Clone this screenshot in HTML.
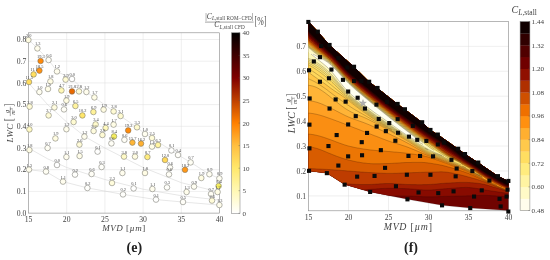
<!DOCTYPE html>
<html lang="en"><head><meta charset="utf-8"><title>Figure (e)-(f)</title>
<style>
html,body{margin:0;padding:0;background:#fff;}
body{width:550px;height:260px;overflow:hidden;}
svg{display:block;}
</style></head>
<body>
<svg width="550" height="260" viewBox="0 0 550 260">
<rect width="550" height="260" fill="#ffffff"/>
<g id="left">
<line x1="66.70" y1="32.8" x2="66.70" y2="213.1" stroke="#dedede" stroke-width="0.5"/>
<line x1="104.90" y1="32.8" x2="104.90" y2="213.1" stroke="#dedede" stroke-width="0.5"/>
<line x1="143.10" y1="32.8" x2="143.10" y2="213.1" stroke="#dedede" stroke-width="0.5"/>
<line x1="181.30" y1="32.8" x2="181.30" y2="213.1" stroke="#dedede" stroke-width="0.5"/>
<line x1="28.5" y1="191.40" x2="219.5" y2="191.40" stroke="#dedede" stroke-width="0.5"/>
<line x1="28.5" y1="169.70" x2="219.5" y2="169.70" stroke="#dedede" stroke-width="0.5"/>
<line x1="28.5" y1="148.00" x2="219.5" y2="148.00" stroke="#dedede" stroke-width="0.5"/>
<line x1="28.5" y1="126.30" x2="219.5" y2="126.30" stroke="#dedede" stroke-width="0.5"/>
<line x1="28.5" y1="104.60" x2="219.5" y2="104.60" stroke="#dedede" stroke-width="0.5"/>
<line x1="28.5" y1="82.90" x2="219.5" y2="82.90" stroke="#dedede" stroke-width="0.5"/>
<line x1="28.5" y1="61.20" x2="219.5" y2="61.20" stroke="#dedede" stroke-width="0.5"/>
<line x1="28.5" y1="39.50" x2="219.5" y2="39.50" stroke="#dedede" stroke-width="0.5"/>
<polyline points="28.5,39.5 37.4,48.4 48.6,59.9 57.0,71.4 72.0,79.0 86.4,92.0 94.4,97.4 113.6,111.3 120.6,116.1 137.0,127.4 145.0,133.9 152.0,138.0 171.4,150.4 178.0,154.9 190.6,162.3 209.4,174.3 219.5,178.4" fill="none" stroke="#cfcfcf" stroke-width="0.5"/>
<polyline points="28.5,82.9 47.6,104.6 66.7,122.0 85.8,137.2 104.9,148.0 143.1,167.5 181.3,182.7 219.5,192.1" fill="none" stroke="#cfcfcf" stroke-width="0.5"/>
<polyline points="28.5,148.0 47.6,158.8 66.7,167.5 104.9,179.5 143.1,189.2 181.3,195.7 219.5,200.1" fill="none" stroke="#cfcfcf" stroke-width="0.5"/>
<polyline points="28.5,169.7 46.1,171.7 62.9,181.6 87.3,187.9 123.2,194.4 156.1,199.6 182.8,202.0 219.5,205.1" fill="none" stroke="#cfcfcf" stroke-width="0.5"/>
<rect x="28.5" y="32.8" width="191.0" height="180.3" fill="none" stroke="#868686" stroke-width="0.6"/>
<circle cx="28.4" cy="40" r="2.8" fill="#fffce1" stroke="#6a6a62" stroke-width="0.5"/>
<circle cx="37.4" cy="48.4" r="2.8" fill="#fffdec" stroke="#6a6a62" stroke-width="0.5"/>
<circle cx="40.6" cy="61" r="2.8" fill="#ff8909" stroke="#6a6a62" stroke-width="0.5"/>
<circle cx="48.6" cy="60" r="2.8" fill="#fffef6" stroke="#6a6a62" stroke-width="0.5"/>
<circle cx="39.4" cy="70.6" r="2.8" fill="#ff9313" stroke="#6a6a62" stroke-width="0.5"/>
<circle cx="33.6" cy="74.4" r="2.8" fill="#ffdf62" stroke="#6a6a62" stroke-width="0.5"/>
<circle cx="57" cy="71.4" r="2.8" fill="#fffded" stroke="#6a6a62" stroke-width="0.5"/>
<circle cx="29" cy="82" r="2.8" fill="#ffdc5f" stroke="#6a6a62" stroke-width="0.5"/>
<circle cx="65.6" cy="79.6" r="2.8" fill="#fffbd4" stroke="#6a6a62" stroke-width="0.5"/>
<circle cx="72" cy="79" r="2.8" fill="#ffffff" stroke="#6a6a62" stroke-width="0.5"/>
<circle cx="50.4" cy="81.4" r="2.8" fill="#fffce4" stroke="#6a6a62" stroke-width="0.5"/>
<circle cx="39.4" cy="92" r="2.8" fill="#fffef0" stroke="#6a6a62" stroke-width="0.5"/>
<circle cx="48" cy="89" r="2.8" fill="#fffde8" stroke="#6a6a62" stroke-width="0.5"/>
<circle cx="61.4" cy="90.4" r="2.8" fill="#fff8b8" stroke="#6a6a62" stroke-width="0.5"/>
<circle cx="72" cy="91.4" r="2.8" fill="#e86900" stroke="#6a6a62" stroke-width="0.5"/>
<circle cx="79" cy="91.4" r="2.8" fill="#fffbd5" stroke="#6a6a62" stroke-width="0.5"/>
<circle cx="86.4" cy="92" r="2.8" fill="#fffded" stroke="#6a6a62" stroke-width="0.5"/>
<circle cx="94.4" cy="97.4" r="2.8" fill="#fffde6" stroke="#6a6a62" stroke-width="0.5"/>
<circle cx="66.4" cy="100.6" r="2.8" fill="#fffce2" stroke="#6a6a62" stroke-width="0.5"/>
<circle cx="29.6" cy="106.6" r="2.8" fill="#fffbd5" stroke="#6a6a62" stroke-width="0.5"/>
<circle cx="54.4" cy="107.4" r="2.8" fill="#fffce0" stroke="#6a6a62" stroke-width="0.5"/>
<circle cx="64" cy="109.4" r="2.8" fill="#fffef6" stroke="#6a6a62" stroke-width="0.5"/>
<circle cx="75.4" cy="106" r="2.8" fill="#fff39e" stroke="#6a6a62" stroke-width="0.5"/>
<circle cx="48.6" cy="115.4" r="2.8" fill="#fffbd6" stroke="#6a6a62" stroke-width="0.5"/>
<circle cx="82.4" cy="115.4" r="2.8" fill="#ffe66a" stroke="#6a6a62" stroke-width="0.5"/>
<circle cx="93.4" cy="112" r="2.8" fill="#fff299" stroke="#6a6a62" stroke-width="0.5"/>
<circle cx="103.6" cy="109.6" r="2.8" fill="#fffce2" stroke="#6a6a62" stroke-width="0.5"/>
<circle cx="113.6" cy="111.4" r="2.8" fill="#fffbd5" stroke="#6a6a62" stroke-width="0.5"/>
<circle cx="120.6" cy="116" r="2.8" fill="#fffbd0" stroke="#6a6a62" stroke-width="0.5"/>
<circle cx="73.6" cy="122" r="2.8" fill="#fffbd2" stroke="#6a6a62" stroke-width="0.5"/>
<circle cx="95.6" cy="124.4" r="2.8" fill="#fffacc" stroke="#6a6a62" stroke-width="0.5"/>
<circle cx="105.6" cy="128" r="2.8" fill="#fff9bd" stroke="#6a6a62" stroke-width="0.5"/>
<circle cx="113.6" cy="124.6" r="2.8" fill="#fffde6" stroke="#6a6a62" stroke-width="0.5"/>
<circle cx="29.4" cy="129.4" r="2.8" fill="#fff9c3" stroke="#6a6a62" stroke-width="0.5"/>
<circle cx="66.4" cy="129.2" r="2.8" fill="#fffded" stroke="#6a6a62" stroke-width="0.5"/>
<circle cx="93.6" cy="131" r="2.8" fill="#fffcde" stroke="#6a6a62" stroke-width="0.5"/>
<circle cx="128.2" cy="130.4" r="2.8" fill="#ff8a0a" stroke="#6a6a62" stroke-width="0.5"/>
<circle cx="137" cy="127.3" r="2.8" fill="#ffface" stroke="#6a6a62" stroke-width="0.5"/>
<circle cx="55.4" cy="138.4" r="2.8" fill="#fffce2" stroke="#6a6a62" stroke-width="0.5"/>
<circle cx="84.4" cy="136.6" r="2.8" fill="#fffded" stroke="#6a6a62" stroke-width="0.5"/>
<circle cx="102.4" cy="135" r="2.8" fill="#fffbd5" stroke="#6a6a62" stroke-width="0.5"/>
<circle cx="114" cy="136.4" r="2.8" fill="#f4ec5e" stroke="#6a6a62" stroke-width="0.5"/>
<circle cx="124.4" cy="139.8" r="2.8" fill="#fffef6" stroke="#6a6a62" stroke-width="0.5"/>
<circle cx="79.4" cy="144.6" r="2.8" fill="#fffbd8" stroke="#6a6a62" stroke-width="0.5"/>
<circle cx="111.4" cy="143.4" r="2.8" fill="#fffef6" stroke="#6a6a62" stroke-width="0.5"/>
<circle cx="29.4" cy="150" r="2.8" fill="#fffce4" stroke="#6a6a62" stroke-width="0.5"/>
<circle cx="47.6" cy="148" r="2.8" fill="#fffef4" stroke="#6a6a62" stroke-width="0.5"/>
<circle cx="97.6" cy="151.6" r="2.8" fill="#fffffe" stroke="#6a6a62" stroke-width="0.5"/>
<circle cx="66.4" cy="157" r="2.8" fill="#fffdee" stroke="#6a6a62" stroke-width="0.5"/>
<circle cx="79.6" cy="156" r="2.8" fill="#fffde8" stroke="#6a6a62" stroke-width="0.5"/>
<circle cx="124" cy="156.6" r="2.8" fill="#fffac6" stroke="#6a6a62" stroke-width="0.5"/>
<circle cx="57" cy="165" r="2.8" fill="#ffffff" stroke="#6a6a62" stroke-width="0.5"/>
<circle cx="101.6" cy="167" r="2.8" fill="#fffffa" stroke="#6a6a62" stroke-width="0.5"/>
<circle cx="29" cy="169.6" r="2.8" fill="#fffdec" stroke="#6a6a62" stroke-width="0.5"/>
<circle cx="46" cy="171.6" r="2.8" fill="#fffef3" stroke="#6a6a62" stroke-width="0.5"/>
<circle cx="75" cy="174.6" r="2.8" fill="#fffffc" stroke="#6a6a62" stroke-width="0.5"/>
<circle cx="91.6" cy="174" r="2.8" fill="#fffef6" stroke="#6a6a62" stroke-width="0.5"/>
<circle cx="122.4" cy="173" r="2.8" fill="#fffdee" stroke="#6a6a62" stroke-width="0.5"/>
<circle cx="63" cy="181.6" r="2.8" fill="#fffdee" stroke="#6a6a62" stroke-width="0.5"/>
<circle cx="87.4" cy="188" r="2.8" fill="#fffffc" stroke="#6a6a62" stroke-width="0.5"/>
<circle cx="112" cy="183" r="2.8" fill="#fffcdc" stroke="#6a6a62" stroke-width="0.5"/>
<circle cx="123" cy="194.4" r="2.8" fill="#fffffc" stroke="#6a6a62" stroke-width="0.5"/>
<circle cx="133.6" cy="188.4" r="2.8" fill="#fffffe" stroke="#6a6a62" stroke-width="0.5"/>
<circle cx="152.4" cy="189" r="2.8" fill="#fffdee" stroke="#6a6a62" stroke-width="0.5"/>
<circle cx="167" cy="187.4" r="2.8" fill="#fffffa" stroke="#6a6a62" stroke-width="0.5"/>
<circle cx="156" cy="199.6" r="2.8" fill="#fffffe" stroke="#6a6a62" stroke-width="0.5"/>
<circle cx="183" cy="202" r="2.8" fill="#fffef8" stroke="#6a6a62" stroke-width="0.5"/>
<circle cx="186.6" cy="192" r="2.8" fill="#fffdec" stroke="#6a6a62" stroke-width="0.5"/>
<circle cx="194" cy="186.6" r="2.8" fill="#fffef2" stroke="#6a6a62" stroke-width="0.5"/>
<circle cx="201.3" cy="178" r="2.8" fill="#fffce2" stroke="#6a6a62" stroke-width="0.5"/>
<circle cx="185" cy="169.8" r="2.8" fill="#ff9717" stroke="#6a6a62" stroke-width="0.5"/>
<circle cx="145" cy="173" r="2.8" fill="#fffce4" stroke="#6a6a62" stroke-width="0.5"/>
<circle cx="169" cy="174.4" r="2.8" fill="#fffef6" stroke="#6a6a62" stroke-width="0.5"/>
<circle cx="209.4" cy="174.2" r="2.8" fill="#fffef2" stroke="#6a6a62" stroke-width="0.5"/>
<circle cx="219.4" cy="178.4" r="2.8" fill="#fffef2" stroke="#6a6a62" stroke-width="0.5"/>
<circle cx="218.6" cy="186" r="2.8" fill="#f4ec5e" stroke="#6a6a62" stroke-width="0.5"/>
<circle cx="217.6" cy="192" r="2.8" fill="#fffde6" stroke="#6a6a62" stroke-width="0.5"/>
<circle cx="211" cy="194" r="2.8" fill="#fffef4" stroke="#6a6a62" stroke-width="0.5"/>
<circle cx="212" cy="200.6" r="2.8" fill="#fffbd8" stroke="#6a6a62" stroke-width="0.5"/>
<circle cx="219.4" cy="205" r="2.8" fill="#fffdec" stroke="#6a6a62" stroke-width="0.5"/>
<circle cx="145" cy="134" r="2.8" fill="#fffef0" stroke="#6a6a62" stroke-width="0.5"/>
<circle cx="132.4" cy="142.6" r="2.8" fill="#ffb637" stroke="#6a6a62" stroke-width="0.5"/>
<circle cx="141" cy="143.6" r="2.8" fill="#ffb031" stroke="#6a6a62" stroke-width="0.5"/>
<circle cx="152" cy="138" r="2.8" fill="#fffcda" stroke="#6a6a62" stroke-width="0.5"/>
<circle cx="152" cy="146.6" r="2.8" fill="#fffde7" stroke="#6a6a62" stroke-width="0.5"/>
<circle cx="158" cy="145" r="2.8" fill="#fff4a1" stroke="#6a6a62" stroke-width="0.5"/>
<circle cx="171.4" cy="150.4" r="2.8" fill="#fffffe" stroke="#6a6a62" stroke-width="0.5"/>
<circle cx="178" cy="155" r="2.8" fill="#fffef9" stroke="#6a6a62" stroke-width="0.5"/>
<circle cx="135" cy="156.6" r="2.8" fill="#fffce1" stroke="#6a6a62" stroke-width="0.5"/>
<circle cx="147.4" cy="157" r="2.8" fill="#ffec7f" stroke="#6a6a62" stroke-width="0.5"/>
<circle cx="165" cy="160" r="2.8" fill="#ffd85a" stroke="#6a6a62" stroke-width="0.5"/>
<circle cx="190.6" cy="162.4" r="2.8" fill="#fffef4" stroke="#6a6a62" stroke-width="0.5"/>
<circle cx="170" cy="167.6" r="2.8" fill="#fffef6" stroke="#6a6a62" stroke-width="0.5"/>
<g font-family='"Liberation Serif", "DejaVu Serif", serif' font-size="4.4" fill="#4a4a4a" text-anchor="middle">
<text x="28.7" y="36.9">2.0</text>
<text x="37.7" y="45.3">1.3</text>
<text x="40.9" y="57.9">19.3</text>
<text x="48.9" y="56.9">0.6</text>
<text x="39.7" y="67.5">18.5</text>
<text x="33.9" y="71.3">11.1</text>
<text x="57.3" y="68.3">1.2</text>
<text x="29.3" y="78.9">11.5</text>
<text x="65.9" y="76.5">2.9</text>
<text x="72.3" y="75.9">0.0</text>
<text x="50.7" y="78.3">1.8</text>
<text x="39.7" y="88.9">1.0</text>
<text x="48.3" y="85.9">1.5</text>
<text x="61.7" y="87.3">4.7</text>
<text x="72.3" y="88.3">21.8</text>
<text x="79.3" y="88.3">2.8</text>
<text x="86.7" y="88.9">1.2</text>
<text x="94.7" y="94.3">1.7</text>
<text x="66.7" y="97.5">1.9</text>
<text x="29.9" y="103.5">2.8</text>
<text x="54.7" y="104.3">2.1</text>
<text x="64.3" y="106.3">0.6</text>
<text x="75.7" y="102.9">6.5</text>
<text x="48.9" y="112.3">2.7</text>
<text x="82.7" y="112.3">10.2</text>
<text x="93.7" y="108.9">6.9</text>
<text x="103.9" y="106.5">1.9</text>
<text x="113.9" y="108.3">2.8</text>
<text x="120.9" y="112.9">3.1</text>
<text x="73.9" y="118.9">3.0</text>
<text x="95.9" y="121.3">3.4</text>
<text x="105.9" y="124.9">4.4</text>
<text x="113.9" y="121.5">1.7</text>
<text x="29.7" y="126.3">4.0</text>
<text x="66.7" y="126.1">1.2</text>
<text x="93.9" y="127.9">2.2</text>
<text x="128.5" y="127.3">19.2</text>
<text x="137.3" y="124.2">3.3</text>
<text x="55.7" y="135.3">1.9</text>
<text x="84.7" y="133.5">1.2</text>
<text x="102.7" y="131.9">2.8</text>
<text x="114.3" y="133.3">8.4</text>
<text x="124.7" y="136.7">0.6</text>
<text x="79.7" y="141.5">2.6</text>
<text x="111.7" y="140.3">0.6</text>
<text x="29.7" y="146.9">1.8</text>
<text x="47.9" y="144.9">0.7</text>
<text x="97.9" y="148.5">0.1</text>
<text x="66.7" y="153.9">1.1</text>
<text x="79.9" y="152.9">1.5</text>
<text x="124.3" y="153.5">3.8</text>
<text x="57.3" y="161.9">0.0</text>
<text x="101.9" y="163.9">0.3</text>
<text x="29.3" y="166.5">1.3</text>
<text x="46.3" y="168.5">0.8</text>
<text x="75.3" y="171.5">0.2</text>
<text x="91.9" y="170.9">0.6</text>
<text x="122.7" y="169.9">1.1</text>
<text x="63.3" y="178.5">1.1</text>
<text x="87.7" y="184.9">0.2</text>
<text x="112.3" y="179.9">2.3</text>
<text x="123.3" y="191.3">0.2</text>
<text x="133.9" y="185.3">0.1</text>
<text x="152.7" y="185.9">1.1</text>
<text x="167.3" y="184.3">0.3</text>
<text x="156.3" y="196.5">0.1</text>
<text x="183.3" y="198.9">0.5</text>
<text x="186.9" y="188.9">1.3</text>
<text x="194.3" y="183.5">0.9</text>
<text x="201.6" y="174.9">1.9</text>
<text x="185.3" y="166.7">18.2</text>
<text x="145.3" y="169.9">1.8</text>
<text x="169.3" y="171.3">0.6</text>
<text x="209.7" y="171.1">0.9</text>
<text x="219.7" y="175.3">0.9</text>
<text x="218.9" y="182.9">8.4</text>
<text x="217.9" y="188.9">1.7</text>
<text x="211.3" y="190.9">0.7</text>
<text x="212.3" y="197.5">2.6</text>
<text x="219.7" y="201.9">1.3</text>
<text x="145.3" y="130.9">1.0</text>
<text x="132.7" y="139.5">15.7</text>
<text x="141.3" y="140.5">16.2</text>
<text x="152.3" y="134.9">2.5</text>
<text x="152.3" y="143.5">1.6</text>
<text x="158.3" y="141.9">6.3</text>
<text x="171.7" y="147.3">0.1</text>
<text x="178.3" y="151.9">0.4</text>
<text x="135.3" y="153.5">2.0</text>
<text x="147.7" y="153.9">8.7</text>
<text x="165.3" y="156.9">12.0</text>
<text x="190.9" y="159.3">0.7</text>
<text x="170.3" y="164.5">0.6</text>
</g>
<g font-family='"Liberation Serif", "DejaVu Serif", serif' font-size="7.7" fill="#444444">
<text x="26.4" y="215.7" text-anchor="end">0.0</text>
<text x="26.4" y="194.0" text-anchor="end">0.1</text>
<text x="26.4" y="172.3" text-anchor="end">0.2</text>
<text x="26.4" y="150.6" text-anchor="end">0.3</text>
<text x="26.4" y="128.9" text-anchor="end">0.4</text>
<text x="26.4" y="107.2" text-anchor="end">0.5</text>
<text x="26.4" y="85.5" text-anchor="end">0.6</text>
<text x="26.4" y="63.8" text-anchor="end">0.7</text>
<text x="26.4" y="42.1" text-anchor="end">0.8</text>
<text x="28.5" y="221.6" text-anchor="middle">15</text>
<text x="66.7" y="221.6" text-anchor="middle">20</text>
<text x="104.9" y="221.6" text-anchor="middle">25</text>
<text x="143.1" y="221.6" text-anchor="middle">30</text>
<text x="181.3" y="221.6" text-anchor="middle">35</text>
<text x="219.5" y="221.6" text-anchor="middle">40</text>
</g>
<text x="124" y="231" text-anchor="middle" font-family='"Liberation Serif", "DejaVu Serif", serif' font-size="9" fill="#444444" letter-spacing="0.5"><tspan font-style="italic">MVD</tspan> [<tspan font-style="italic">µm</tspan>]</text>
<g transform="translate(13.2,142.6) rotate(-90)" font-family='"Liberation Serif", "DejaVu Serif", serif' fill="#444444">
<text x="0" y="0" font-size="9.0" letter-spacing="0.4" font-style="italic">LWC</text>
<text transform="translate(21.6,0) scale(0.7,1)" font-size="11.5">[</text>
<text x="31.2" y="-4.4" font-size="6.2" text-anchor="middle" font-style="italic">g</text>
<line x1="26.5" y1="-2.9" x2="35.9" y2="-2.9" stroke="#444444" stroke-width="0.45"/>
<text x="31.2" y="2.2" font-size="6.2" text-anchor="middle"><tspan font-style="italic">m</tspan><tspan font-size="4" dy="-2">3</tspan></text>
<text transform="translate(36.2,0) scale(0.7,1)" font-size="11.5">]</text>
</g>
<defs><linearGradient id="cbL" x1="0" y1="1" x2="0" y2="0">
<stop offset="0.000" stop-color="#ffffff"/>
<stop offset="0.025" stop-color="#fffef0"/>
<stop offset="0.050" stop-color="#fffce1"/>
<stop offset="0.075" stop-color="#fffbd2"/>
<stop offset="0.100" stop-color="#fff9c3"/>
<stop offset="0.125" stop-color="#fff8b4"/>
<stop offset="0.150" stop-color="#fff5a6"/>
<stop offset="0.175" stop-color="#fff297"/>
<stop offset="0.200" stop-color="#ffee89"/>
<stop offset="0.225" stop-color="#ffeb7a"/>
<stop offset="0.250" stop-color="#ffe86c"/>
<stop offset="0.275" stop-color="#ffe063"/>
<stop offset="0.300" stop-color="#ffd85a"/>
<stop offset="0.325" stop-color="#ffcf52"/>
<stop offset="0.350" stop-color="#ffc749"/>
<stop offset="0.375" stop-color="#ffbf40"/>
<stop offset="0.400" stop-color="#ffb233"/>
<stop offset="0.425" stop-color="#ffa626"/>
<stop offset="0.450" stop-color="#ff991a"/>
<stop offset="0.475" stop-color="#ff8d0d"/>
<stop offset="0.500" stop-color="#ff8000"/>
<stop offset="0.525" stop-color="#f27300"/>
<stop offset="0.550" stop-color="#e56600"/>
<stop offset="0.575" stop-color="#d95a00"/>
<stop offset="0.600" stop-color="#cc4d00"/>
<stop offset="0.625" stop-color="#bf4000"/>
<stop offset="0.650" stop-color="#b23300"/>
<stop offset="0.675" stop-color="#a62600"/>
<stop offset="0.700" stop-color="#991a00"/>
<stop offset="0.725" stop-color="#8d0d00"/>
<stop offset="0.750" stop-color="#800000"/>
<stop offset="0.775" stop-color="#730000"/>
<stop offset="0.800" stop-color="#660000"/>
<stop offset="0.825" stop-color="#5a0000"/>
<stop offset="0.850" stop-color="#4d0000"/>
<stop offset="0.875" stop-color="#400000"/>
<stop offset="0.900" stop-color="#330000"/>
<stop offset="0.925" stop-color="#260000"/>
<stop offset="0.950" stop-color="#1a0000"/>
<stop offset="0.975" stop-color="#0d0000"/>
<stop offset="1.000" stop-color="#000000"/>
</linearGradient></defs>
<rect x="231.6" y="32.8" width="8.400000000000006" height="180.5" fill="url(#cbL)" stroke="#777" stroke-width="0.5"/>
<g font-family='"Liberation Serif", "DejaVu Serif", serif' font-size="7" fill="#444444">
<line x1="238.5" y1="213.3" x2="240.0" y2="213.3" stroke="#555" stroke-width="0.4"/>
<text x="242.6" y="215.7">0</text>
<line x1="238.5" y1="190.7" x2="240.0" y2="190.7" stroke="#555" stroke-width="0.4"/>
<text x="242.6" y="193.1">5</text>
<line x1="238.5" y1="168.2" x2="240.0" y2="168.2" stroke="#555" stroke-width="0.4"/>
<text x="242.6" y="170.6">10</text>
<line x1="238.5" y1="145.6" x2="240.0" y2="145.6" stroke="#555" stroke-width="0.4"/>
<text x="242.6" y="148.0">15</text>
<line x1="238.5" y1="123.1" x2="240.0" y2="123.1" stroke="#555" stroke-width="0.4"/>
<text x="242.6" y="125.5">20</text>
<line x1="238.5" y1="100.5" x2="240.0" y2="100.5" stroke="#555" stroke-width="0.4"/>
<text x="242.6" y="102.9">25</text>
<line x1="238.5" y1="77.9" x2="240.0" y2="77.9" stroke="#555" stroke-width="0.4"/>
<text x="242.6" y="80.3">30</text>
<line x1="238.5" y1="55.4" x2="240.0" y2="55.4" stroke="#555" stroke-width="0.4"/>
<text x="242.6" y="57.8">35</text>
<line x1="238.5" y1="32.8" x2="240.0" y2="32.8" stroke="#555" stroke-width="0.4"/>
<text x="242.6" y="35.2">40</text>
</g>
<g font-family='"Liberation Serif", "DejaVu Serif", serif' fill="#444444">
<text x="205.2" y="19.0" font-size="7.6" textLength="48.2" lengthAdjust="spacing">|<tspan font-style="italic">C</tspan><tspan font-size="5.2" dy="1.3"><tspan font-style="italic">L</tspan>,stall ROM−CFD</tspan><tspan dy="-1.3">|</tspan></text>
<line x1="205" y1="22.1" x2="253.6" y2="22.1" stroke="#444444" stroke-width="0.5"/>
<text x="214.2" y="27.4" font-size="7.6" textLength="30.6" lengthAdjust="spacing"><tspan font-style="italic">C</tspan><tspan font-size="5.2" dy="1.3"><tspan font-style="italic">L</tspan>,stall CFD</tspan></text>
<text transform="translate(254.6,24.6) scale(0.62,1)" font-size="11.6">[</text>
<text x="257.2" y="25.0" font-size="12" textLength="6.5" lengthAdjust="spacingAndGlyphs">%</text>
<text transform="translate(263.9,24.6) scale(0.62,1)" font-size="11.6">]</text>
</g>
<text x="134.3" y="252.3" text-anchor="middle" font-family='"Liberation Serif", "DejaVu Serif", serif' font-weight="bold" font-size="14" fill="#222">(e)</text>
</g>
<g id="right">
<line x1="348.50" y1="21.4" x2="348.50" y2="210.8" stroke="#dedede" stroke-width="0.5"/>
<line x1="388.50" y1="21.4" x2="388.50" y2="210.8" stroke="#dedede" stroke-width="0.5"/>
<line x1="428.50" y1="21.4" x2="428.50" y2="210.8" stroke="#dedede" stroke-width="0.5"/>
<line x1="468.50" y1="21.4" x2="468.50" y2="210.8" stroke="#dedede" stroke-width="0.5"/>
<line x1="308.5" y1="195.91" x2="508.3" y2="195.91" stroke="#dedede" stroke-width="0.5"/>
<line x1="308.5" y1="170.98" x2="508.3" y2="170.98" stroke="#dedede" stroke-width="0.5"/>
<line x1="308.5" y1="146.05" x2="508.3" y2="146.05" stroke="#dedede" stroke-width="0.5"/>
<line x1="308.5" y1="121.12" x2="508.3" y2="121.12" stroke="#dedede" stroke-width="0.5"/>
<line x1="308.5" y1="96.19" x2="508.3" y2="96.19" stroke="#dedede" stroke-width="0.5"/>
<line x1="308.5" y1="71.26" x2="508.3" y2="71.26" stroke="#dedede" stroke-width="0.5"/>
<line x1="308.5" y1="46.33" x2="508.3" y2="46.33" stroke="#dedede" stroke-width="0.5"/>
<rect x="308.5" y="21.4" width="199.8" height="189.4" fill="none" stroke="#868686" stroke-width="0.6"/>
<defs><clipPath id="env"><polygon points="308.5,21.6 317.8,31.6 329.5,44.9 354.0,66.8 369.1,81.7 377.5,87.9 397.6,104.0 404.9,109.3 422.1,122.3 430.5,130.0 437.8,134.6 458.1,148.8 465.0,154.1 478.2,162.6 497.9,176.1 508.4,181.0 508.4,210.5 470.3,208.1 442.0,205.3 407.5,199.3 370.2,192.0 344.6,184.6 326.8,173.2 308.5,171.0"/></clipPath></defs>
<g clip-path="url(#env)">
<rect x="300" y="15" width="215" height="200" fill="#700300"/>
<polygon points="308.0,0.0 308.0,205.0 309.0,205.0 310.0,205.1 311.0,205.1 312.0,205.1 313.0,205.1 314.0,205.1 315.0,205.1 316.0,205.1 317.0,205.1 318.0,205.0 319.0,205.0 320.0,204.9 321.0,204.8 322.0,204.8 323.0,204.7 324.0,204.5 325.0,204.4 326.0,204.3 327.0,204.2 328.0,204.1 329.0,203.9 330.0,203.8 331.0,203.7 332.0,203.5 333.0,203.4 334.0,203.3 335.0,203.1 336.0,202.9 337.0,202.8 338.0,202.6 339.0,202.5 340.0,202.3 341.0,202.1 342.0,202.0 343.0,201.8 344.0,201.7 345.0,201.5 346.0,201.4 347.0,201.2 348.0,201.1 349.0,200.9 350.0,200.8 351.0,200.7 352.0,200.5 353.0,200.4 354.0,200.3 355.0,200.1 356.0,200.0 357.0,199.9 358.0,199.8 359.0,199.6 360.0,199.5 361.0,199.4 362.0,199.3 363.0,199.2 364.0,199.0 365.0,198.9 366.0,198.8 367.0,198.7 368.0,198.6 369.0,198.4 370.0,198.3 371.0,198.2 372.0,198.1 373.0,197.9 374.0,197.8 375.0,197.7 376.0,197.5 377.0,197.4 378.0,197.3 379.0,197.1 380.0,197.0 381.0,196.9 382.0,196.8 383.0,196.7 384.0,196.6 385.0,196.5 386.0,196.4 387.0,196.3 388.0,196.2 389.0,196.2 390.0,196.1 391.0,196.1 392.0,196.0 393.0,196.0 394.0,196.0 395.0,196.0 396.0,195.9 397.0,195.9 398.0,195.9 399.0,195.9 400.0,195.9 401.0,195.9 402.0,195.9 403.0,195.9 404.0,195.9 405.0,195.9 406.0,196.0 407.0,196.0 408.0,196.0 409.0,196.0 410.0,196.0 411.0,196.1 412.0,196.1 413.0,196.2 414.0,196.2 415.0,196.2 416.0,196.3 417.0,196.4 418.0,196.4 419.0,196.5 420.0,196.5 421.0,196.6 422.0,196.6 423.0,196.7 424.0,196.7 425.0,196.7 426.0,196.8 427.0,196.8 428.0,196.8 429.0,196.8 430.0,196.8 431.0,196.8 432.0,196.8 433.0,196.8 434.0,196.7 435.0,196.7 436.0,196.7 437.0,196.7 438.0,196.6 439.0,196.6 440.0,196.6 441.0,196.5 442.0,196.5 443.0,196.5 444.0,196.4 445.0,196.4 446.0,196.4 447.0,196.3 448.0,196.3 449.0,196.3 450.0,196.3 451.0,196.2 452.0,196.2 453.0,196.2 454.0,196.2 455.0,196.1 456.0,196.1 457.0,196.1 458.0,196.1 459.0,196.0 460.0,196.0 461.0,196.0 462.0,196.0 463.0,195.9 464.0,195.9 465.0,195.9 466.0,195.9 467.0,195.8 468.0,195.8 469.0,195.8 470.0,195.8 471.0,195.7 472.0,195.7 473.0,195.7 474.0,195.6 475.0,195.6 476.0,195.6 477.0,195.5 478.0,195.5 479.0,195.5 480.0,195.4 481.0,195.4 482.0,195.4 483.0,195.4 484.0,195.4 485.0,195.4 486.0,195.4 487.0,195.4 488.0,195.5 489.0,195.5 490.0,195.6 491.0,195.6 492.0,195.7 493.0,195.7 494.0,195.8 495.0,195.8 496.0,195.9 497.0,196.0 498.0,196.0 499.0,196.1 500.0,196.2 501.0,196.3 502.0,196.3 503.0,196.4 504.0,196.5 505.0,196.6 506.0,196.7 507.0,196.8 508.0,196.9 509.0,197.1 509.0,0.0" fill="#880b00"/>
<polygon points="308.0,0.0 308.0,192.0 309.0,192.0 310.0,192.0 311.0,192.0 312.0,192.0 313.0,192.0 314.0,192.0 315.0,192.0 316.0,192.0 317.0,192.0 318.0,192.0 319.0,192.0 320.0,192.0 321.0,192.0 322.0,192.0 323.0,192.0 324.0,192.0 325.0,192.0 326.0,192.0 327.0,192.0 328.0,192.0 329.0,192.0 330.0,192.0 331.0,192.0 332.0,192.0 333.0,192.0 334.0,192.0 335.0,192.0 336.0,191.9 337.0,191.9 338.0,191.9 339.0,191.9 340.0,191.9 341.0,191.9 342.0,191.8 343.0,191.8 344.0,191.8 345.0,191.7 346.0,191.7 347.0,191.6 348.0,191.5 349.0,191.5 350.0,191.4 351.0,191.3 352.0,191.2 353.0,191.1 354.0,191.0 355.0,190.9 356.0,190.8 357.0,190.7 358.0,190.6 359.0,190.5 360.0,190.3 361.0,190.2 362.0,190.1 363.0,190.0 364.0,189.9 365.0,189.8 366.0,189.7 367.0,189.6 368.0,189.5 369.0,189.5 370.0,189.4 371.0,189.3 372.0,189.2 373.0,189.1 374.0,189.1 375.0,189.0 376.0,188.9 377.0,188.8 378.0,188.8 379.0,188.7 380.0,188.6 381.0,188.6 382.0,188.5 383.0,188.5 384.0,188.4 385.0,188.4 386.0,188.4 387.0,188.3 388.0,188.3 389.0,188.3 390.0,188.3 391.0,188.3 392.0,188.3 393.0,188.3 394.0,188.3 395.0,188.3 396.0,188.3 397.0,188.4 398.0,188.4 399.0,188.4 400.0,188.5 401.0,188.5 402.0,188.5 403.0,188.6 404.0,188.6 405.0,188.6 406.0,188.7 407.0,188.7 408.0,188.8 409.0,188.8 410.0,188.9 411.0,188.9 412.0,189.0 413.0,189.1 414.0,189.2 415.0,189.2 416.0,189.3 417.0,189.4 418.0,189.5 419.0,189.6 420.0,189.7 421.0,189.7 422.0,189.8 423.0,189.9 424.0,189.9 425.0,190.0 426.0,190.0 427.0,190.0 428.0,190.0 429.0,190.0 430.0,190.0 431.0,189.9 432.0,189.9 433.0,189.8 434.0,189.8 435.0,189.7 436.0,189.6 437.0,189.5 438.0,189.4 439.0,189.3 440.0,189.2 441.0,189.1 442.0,189.0 443.0,188.9 444.0,188.8 445.0,188.8 446.0,188.7 447.0,188.6 448.0,188.5 449.0,188.5 450.0,188.4 451.0,188.3 452.0,188.2 453.0,188.2 454.0,188.1 455.0,188.0 456.0,187.9 457.0,187.8 458.0,187.8 459.0,187.7 460.0,187.6 461.0,187.6 462.0,187.5 463.0,187.5 464.0,187.5 465.0,187.4 466.0,187.4 467.0,187.4 468.0,187.5 469.0,187.5 470.0,187.6 471.0,187.7 472.0,187.8 473.0,187.9 474.0,188.0 475.0,188.2 476.0,188.3 477.0,188.5 478.0,188.6 479.0,188.8 480.0,189.0 481.0,189.2 482.0,189.4 483.0,189.6 484.0,189.7 485.0,189.9 486.0,190.1 487.0,190.3 488.0,190.4 489.0,190.6 490.0,190.7 491.0,190.9 492.0,191.0 493.0,191.2 494.0,191.3 495.0,191.5 496.0,191.6 497.0,191.8 498.0,191.9 499.0,192.1 500.0,192.2 501.0,192.4 502.0,192.5 503.0,192.7 504.0,192.8 505.0,193.0 506.0,193.1 507.0,193.3 508.0,193.4 509.0,193.6 509.0,0.0" fill="#a01d00"/>
<polygon points="308.0,0.0 308.0,180.0 309.0,180.0 310.0,180.0 311.0,180.1 312.0,180.1 313.0,180.2 314.0,180.2 315.0,180.3 316.0,180.3 317.0,180.4 318.0,180.5 319.0,180.5 320.0,180.6 321.0,180.7 322.0,180.8 323.0,180.9 324.0,181.0 325.0,181.1 326.0,181.2 327.0,181.3 328.0,181.4 329.0,181.6 330.0,181.7 331.0,181.8 332.0,181.9 333.0,182.1 334.0,182.2 335.0,182.4 336.0,182.5 337.0,182.6 338.0,182.8 339.0,182.9 340.0,183.1 341.0,183.2 342.0,183.3 343.0,183.5 344.0,183.6 345.0,183.7 346.0,183.8 347.0,183.9 348.0,184.0 349.0,184.0 350.0,184.1 351.0,184.1 352.0,184.2 353.0,184.3 354.0,184.3 355.0,184.3 356.0,184.4 357.0,184.4 358.0,184.4 359.0,184.5 360.0,184.5 361.0,184.5 362.0,184.5 363.0,184.5 364.0,184.5 365.0,184.5 366.0,184.5 367.0,184.5 368.0,184.5 369.0,184.5 370.0,184.5 371.0,184.4 372.0,184.4 373.0,184.3 374.0,184.3 375.0,184.2 376.0,184.1 377.0,184.1 378.0,184.0 379.0,183.9 380.0,183.8 381.0,183.8 382.0,183.7 383.0,183.7 384.0,183.6 385.0,183.6 386.0,183.5 387.0,183.5 388.0,183.5 389.0,183.5 390.0,183.5 391.0,183.5 392.0,183.6 393.0,183.6 394.0,183.7 395.0,183.7 396.0,183.8 397.0,183.9 398.0,183.9 399.0,184.0 400.0,184.1 401.0,184.1 402.0,184.2 403.0,184.3 404.0,184.3 405.0,184.4 406.0,184.4 407.0,184.5 408.0,184.5 409.0,184.5 410.0,184.5 411.0,184.6 412.0,184.6 413.0,184.6 414.0,184.6 415.0,184.6 416.0,184.6 417.0,184.7 418.0,184.7 419.0,184.7 420.0,184.7 421.0,184.7 422.0,184.7 423.0,184.6 424.0,184.6 425.0,184.6 426.0,184.6 427.0,184.6 428.0,184.5 429.0,184.5 430.0,184.4 431.0,184.4 432.0,184.3 433.0,184.2 434.0,184.2 435.0,184.1 436.0,184.0 437.0,183.9 438.0,183.8 439.0,183.7 440.0,183.6 441.0,183.5 442.0,183.4 443.0,183.4 444.0,183.3 445.0,183.2 446.0,183.1 447.0,183.1 448.0,183.0 449.0,183.0 450.0,182.9 451.0,182.9 452.0,182.8 453.0,182.8 454.0,182.7 455.0,182.7 456.0,182.6 457.0,182.6 458.0,182.5 459.0,182.5 460.0,182.4 461.0,182.4 462.0,182.4 463.0,182.4 464.0,182.4 465.0,182.4 466.0,182.4 467.0,182.4 468.0,182.5 469.0,182.5 470.0,182.6 471.0,182.7 472.0,182.7 473.0,182.8 474.0,182.9 475.0,183.0 476.0,183.1 477.0,183.2 478.0,183.3 479.0,183.4 480.0,183.6 481.0,183.7 482.0,183.9 483.0,184.1 484.0,184.3 485.0,184.6 486.0,184.8 487.0,185.1 488.0,185.3 489.0,185.7 490.0,186.0 491.0,186.3 492.0,186.6 493.0,186.9 494.0,187.1 495.0,187.4 496.0,187.7 497.0,188.0 498.0,188.3 499.0,188.7 500.0,189.0 501.0,189.3 502.0,189.6 503.0,190.0 504.0,190.3 505.0,190.7 506.0,191.0 507.0,191.4 508.0,191.8 509.0,192.2 509.0,0.0" fill="#be3c00"/>
<polygon points="308.0,0.0 308.0,168.5 309.0,168.5 310.0,168.6 311.0,168.6 312.0,168.7 313.0,168.7 314.0,168.8 315.0,168.8 316.0,168.9 317.0,168.9 318.0,169.0 319.0,169.0 320.0,169.1 321.0,169.1 322.0,169.2 323.0,169.2 324.0,169.3 325.0,169.3 326.0,169.4 327.0,169.4 328.0,169.5 329.0,169.5 330.0,169.6 331.0,169.7 332.0,169.7 333.0,169.8 334.0,169.9 335.0,169.9 336.0,170.0 337.0,170.1 338.0,170.2 339.0,170.2 340.0,170.3 341.0,170.4 342.0,170.5 343.0,170.6 344.0,170.6 345.0,170.7 346.0,170.8 347.0,170.9 348.0,171.0 349.0,171.0 350.0,171.1 351.0,171.2 352.0,171.3 353.0,171.4 354.0,171.4 355.0,171.5 356.0,171.6 357.0,171.7 358.0,171.8 359.0,171.8 360.0,171.9 361.0,172.0 362.0,172.1 363.0,172.1 364.0,172.2 365.0,172.3 366.0,172.3 367.0,172.4 368.0,172.5 369.0,172.5 370.0,172.6 371.0,172.6 372.0,172.7 373.0,172.8 374.0,172.8 375.0,172.9 376.0,172.9 377.0,173.0 378.0,173.1 379.0,173.1 380.0,173.2 381.0,173.2 382.0,173.2 383.0,173.3 384.0,173.3 385.0,173.3 386.0,173.4 387.0,173.4 388.0,173.4 389.0,173.4 390.0,173.4 391.0,173.4 392.0,173.4 393.0,173.4 394.0,173.3 395.0,173.3 396.0,173.3 397.0,173.3 398.0,173.2 399.0,173.2 400.0,173.1 401.0,173.1 402.0,173.0 403.0,173.0 404.0,173.0 405.0,172.9 406.0,172.9 407.0,172.8 408.0,172.8 409.0,172.8 410.0,172.8 411.0,172.7 412.0,172.7 413.0,172.6 414.0,172.6 415.0,172.6 416.0,172.5 417.0,172.5 418.0,172.5 419.0,172.4 420.0,172.4 421.0,172.4 422.0,172.3 423.0,172.3 424.0,172.3 425.0,172.2 426.0,172.2 427.0,172.2 428.0,172.2 429.0,172.2 430.0,172.2 431.0,172.2 432.0,172.1 433.0,172.1 434.0,172.0 435.0,172.0 436.0,172.0 437.0,171.9 438.0,171.9 439.0,171.9 440.0,171.8 441.0,171.8 442.0,171.8 443.0,171.9 444.0,171.9 445.0,172.0 446.0,172.1 447.0,172.2 448.0,172.3 449.0,172.5 450.0,172.7 451.0,172.8 452.0,173.0 453.0,173.2 454.0,173.4 455.0,173.7 456.0,173.9 457.0,174.1 458.0,174.3 459.0,174.6 460.0,174.8 461.0,175.0 462.0,175.3 463.0,175.5 464.0,175.8 465.0,176.1 466.0,176.3 467.0,176.6 468.0,176.9 469.0,177.1 470.0,177.4 471.0,177.7 472.0,178.0 473.0,178.2 474.0,178.5 475.0,178.8 476.0,179.1 477.0,179.4 478.0,179.7 479.0,180.0 480.0,180.4 481.0,180.7 482.0,181.0 483.0,181.4 484.0,181.8 485.0,182.1 486.0,182.5 487.0,182.9 488.0,183.3 489.0,183.7 490.0,184.1 491.0,184.5 492.0,184.9 493.0,185.3 494.0,185.7 495.0,186.1 496.0,186.5 497.0,186.9 498.0,187.3 499.0,187.7 500.0,188.1 501.0,188.5 502.0,188.9 503.0,189.3 504.0,189.7 505.0,190.1 506.0,190.5 507.0,190.9 508.0,191.3 509.0,191.7 509.0,0.0" fill="#d85c00"/>
<polygon points="308.0,0.0 308.0,146.4 309.0,146.6 310.0,146.8 311.0,147.0 312.0,147.2 313.0,147.4 314.0,147.7 315.0,148.0 316.0,148.2 317.0,148.5 318.0,148.8 319.0,149.2 320.0,149.5 321.0,149.9 322.0,150.3 323.0,150.7 324.0,151.1 325.0,151.5 326.0,151.9 327.0,152.4 328.0,152.8 329.0,153.2 330.0,153.6 331.0,154.0 332.0,154.4 333.0,154.8 334.0,155.2 335.0,155.6 336.0,156.0 337.0,156.4 338.0,156.7 339.0,157.1 340.0,157.4 341.0,157.8 342.0,158.1 343.0,158.4 344.0,158.8 345.0,159.1 346.0,159.3 347.0,159.6 348.0,159.9 349.0,160.1 350.0,160.4 351.0,160.6 352.0,160.8 353.0,161.1 354.0,161.3 355.0,161.5 356.0,161.7 357.0,161.9 358.0,162.1 359.0,162.2 360.0,162.4 361.0,162.6 362.0,162.7 363.0,162.9 364.0,163.0 365.0,163.1 366.0,163.2 367.0,163.4 368.0,163.5 369.0,163.5 370.0,163.6 371.0,163.7 372.0,163.7 373.0,163.8 374.0,163.8 375.0,163.8 376.0,163.8 377.0,163.8 378.0,163.8 379.0,163.8 380.0,163.8 381.0,163.7 382.0,163.7 383.0,163.7 384.0,163.6 385.0,163.6 386.0,163.6 387.0,163.5 388.0,163.5 389.0,163.5 390.0,163.5 391.0,163.4 392.0,163.4 393.0,163.3 394.0,163.2 395.0,163.2 396.0,163.1 397.0,163.1 398.0,163.0 399.0,162.9 400.0,162.9 401.0,162.8 402.0,162.7 403.0,162.7 404.0,162.6 405.0,162.6 406.0,162.5 407.0,162.5 408.0,162.5 409.0,162.5 410.0,162.5 411.0,162.5 412.0,162.4 413.0,162.4 414.0,162.4 415.0,162.4 416.0,162.4 417.0,162.4 418.0,162.4 419.0,162.4 420.0,162.4 421.0,162.4 422.0,162.4 423.0,162.5 424.0,162.5 425.0,162.6 426.0,162.7 427.0,162.8 428.0,162.9 429.0,163.1 430.0,163.2 431.0,163.4 432.0,163.5 433.0,163.7 434.0,163.9 435.0,164.0 436.0,164.2 437.0,164.4 438.0,164.5 439.0,164.7 440.0,164.9 441.0,165.1 442.0,165.3 443.0,165.6 444.0,165.8 445.0,166.1 446.0,166.3 447.0,166.6 448.0,166.9 449.0,167.1 450.0,167.4 451.0,167.7 452.0,168.0 453.0,168.3 454.0,168.6 455.0,168.9 456.0,169.2 457.0,169.5 458.0,169.9 459.0,170.2 460.0,170.5 461.0,170.8 462.0,171.2 463.0,171.5 464.0,171.8 465.0,172.2 466.0,172.6 467.0,172.9 468.0,173.3 469.0,173.7 470.0,174.1 471.0,174.5 472.0,174.9 473.0,175.4 474.0,175.8 475.0,176.3 476.0,176.8 477.0,177.2 478.0,177.7 479.0,178.2 480.0,178.7 481.0,179.2 482.0,179.6 483.0,180.1 484.0,180.6 485.0,181.1 486.0,181.6 487.0,182.0 488.0,182.5 489.0,182.9 490.0,183.4 491.0,183.8 492.0,184.2 493.0,184.7 494.0,185.1 495.0,185.5 496.0,185.9 497.0,186.4 498.0,186.8 499.0,187.2 500.0,187.6 501.0,188.0 502.0,188.4 503.0,188.8 504.0,189.2 505.0,189.6 506.0,190.0 507.0,190.4 508.0,190.8 509.0,191.2 509.0,0.0" fill="#ec7604"/>
<polygon points="308.0,0.0 308.0,133.9 309.0,134.1 310.0,134.2 311.0,134.3 312.0,134.5 313.0,134.6 314.0,134.8 315.0,135.0 316.0,135.2 317.0,135.4 318.0,135.7 319.0,135.9 320.0,136.2 321.0,136.5 322.0,136.8 323.0,137.1 324.0,137.4 325.0,137.8 326.0,138.1 327.0,138.5 328.0,138.8 329.0,139.2 330.0,139.5 331.0,139.9 332.0,140.3 333.0,140.6 334.0,141.0 335.0,141.4 336.0,141.8 337.0,142.2 338.0,142.5 339.0,142.9 340.0,143.3 341.0,143.6 342.0,144.0 343.0,144.3 344.0,144.7 345.0,145.0 346.0,145.3 347.0,145.6 348.0,145.9 349.0,146.1 350.0,146.4 351.0,146.6 352.0,146.8 353.0,147.1 354.0,147.3 355.0,147.5 356.0,147.7 357.0,147.9 358.0,148.1 359.0,148.2 360.0,148.4 361.0,148.6 362.0,148.7 363.0,148.9 364.0,149.1 365.0,149.2 366.0,149.3 367.0,149.5 368.0,149.6 369.0,149.8 370.0,149.9 371.0,150.0 372.0,150.1 373.0,150.2 374.0,150.3 375.0,150.4 376.0,150.5 377.0,150.6 378.0,150.7 379.0,150.7 380.0,150.8 381.0,150.9 382.0,151.0 383.0,151.0 384.0,151.1 385.0,151.2 386.0,151.3 387.0,151.4 388.0,151.5 389.0,151.5 390.0,151.6 391.0,151.7 392.0,151.8 393.0,151.9 394.0,152.0 395.0,152.1 396.0,152.1 397.0,152.2 398.0,152.3 399.0,152.4 400.0,152.5 401.0,152.6 402.0,152.7 403.0,152.8 404.0,152.9 405.0,153.0 406.0,153.2 407.0,153.3 408.0,153.4 409.0,153.6 410.0,153.7 411.0,153.9 412.0,154.0 413.0,154.1 414.0,154.3 415.0,154.4 416.0,154.6 417.0,154.7 418.0,154.9 419.0,155.0 420.0,155.2 421.0,155.4 422.0,155.6 423.0,155.8 424.0,156.0 425.0,156.2 426.0,156.5 427.0,156.7 428.0,157.0 429.0,157.4 430.0,157.7 431.0,158.0 432.0,158.3 433.0,158.7 434.0,159.0 435.0,159.3 436.0,159.7 437.0,160.0 438.0,160.4 439.0,160.7 440.0,161.1 441.0,161.4 442.0,161.8 443.0,162.1 444.0,162.5 445.0,162.9 446.0,163.2 447.0,163.6 448.0,164.0 449.0,164.4 450.0,164.8 451.0,165.2 452.0,165.5 453.0,165.9 454.0,166.3 455.0,166.7 456.0,167.0 457.0,167.4 458.0,167.8 459.0,168.2 460.0,168.5 461.0,168.9 462.0,169.3 463.0,169.7 464.0,170.1 465.0,170.5 466.0,170.9 467.0,171.4 468.0,171.8 469.0,172.2 470.0,172.7 471.0,173.1 472.0,173.6 473.0,174.1 474.0,174.6 475.0,175.1 476.0,175.6 477.0,176.1 478.0,176.7 479.0,177.2 480.0,177.7 481.0,178.2 482.0,178.8 483.0,179.3 484.0,179.8 485.0,180.3 486.0,180.8 487.0,181.3 488.0,181.8 489.0,182.2 490.0,182.7 491.0,183.1 492.0,183.6 493.0,184.1 494.0,184.5 495.0,184.9 496.0,185.4 497.0,185.8 498.0,186.2 499.0,186.7 500.0,187.1 501.0,187.5 502.0,187.9 503.0,188.3 504.0,188.7 505.0,189.1 506.0,189.5 507.0,189.9 508.0,190.3 509.0,190.7 509.0,0.0" fill="#fa8e12"/>
<polygon points="308.0,0.0 308.0,112.9 309.0,113.1 310.0,113.2 311.0,113.3 312.0,113.5 313.0,113.6 314.0,113.8 315.0,114.0 316.0,114.2 317.0,114.4 318.0,114.7 319.0,114.9 320.0,115.2 321.0,115.5 322.0,115.8 323.0,116.1 324.0,116.4 325.0,116.8 326.0,117.1 327.0,117.5 328.0,117.8 329.0,118.2 330.0,118.5 331.0,118.9 332.0,119.2 333.0,119.6 334.0,120.0 335.0,120.3 336.0,120.7 337.0,121.1 338.0,121.4 339.0,121.8 340.0,122.2 341.0,122.6 342.0,123.0 343.0,123.3 344.0,123.7 345.0,124.1 346.0,124.5 347.0,124.9 348.0,125.3 349.0,125.7 350.0,126.1 351.0,126.5 352.0,126.9 353.0,127.3 354.0,127.7 355.0,128.1 356.0,128.4 357.0,128.8 358.0,129.2 359.0,129.6 360.0,130.0 361.0,130.4 362.0,130.8 363.0,131.2 364.0,131.6 365.0,131.9 366.0,132.3 367.0,132.7 368.0,133.1 369.0,133.5 370.0,133.9 371.0,134.3 372.0,134.7 373.0,135.1 374.0,135.5 375.0,135.9 376.0,136.2 377.0,136.6 378.0,137.0 379.0,137.4 380.0,137.8 381.0,138.2 382.0,138.6 383.0,139.0 384.0,139.3 385.0,139.7 386.0,140.1 387.0,140.5 388.0,140.8 389.0,141.2 390.0,141.5 391.0,141.9 392.0,142.2 393.0,142.5 394.0,142.8 395.0,143.1 396.0,143.4 397.0,143.7 398.0,144.0 399.0,144.3 400.0,144.6 401.0,144.9 402.0,145.3 403.0,145.6 404.0,145.9 405.0,146.2 406.0,146.6 407.0,146.9 408.0,147.3 409.0,147.7 410.0,148.1 411.0,148.5 412.0,148.9 413.0,149.3 414.0,149.7 415.0,150.1 416.0,150.5 417.0,150.9 418.0,151.4 419.0,151.8 420.0,152.2 421.0,152.6 422.0,153.0 423.0,153.5 424.0,153.9 425.0,154.3 426.0,154.7 427.0,155.1 428.0,155.5 429.0,155.9 430.0,156.3 431.0,156.7 432.0,157.0 433.0,157.4 434.0,157.8 435.0,158.2 436.0,158.5 437.0,158.9 438.0,159.3 439.0,159.6 440.0,160.0 441.0,160.4 442.0,160.7 443.0,161.1 444.0,161.5 445.0,161.8 446.0,162.2 447.0,162.6 448.0,163.0 449.0,163.4 450.0,163.8 451.0,164.2 452.0,164.6 453.0,165.0 454.0,165.3 455.0,165.7 456.0,166.1 457.0,166.5 458.0,166.9 459.0,167.3 460.0,167.7 461.0,168.1 462.0,168.5 463.0,168.9 464.0,169.3 465.0,169.7 466.0,170.1 467.0,170.5 468.0,171.0 469.0,171.4 470.0,171.9 471.0,172.4 472.0,172.8 473.0,173.3 474.0,173.8 475.0,174.4 476.0,174.9 477.0,175.4 478.0,175.9 479.0,176.4 480.0,177.0 481.0,177.5 482.0,178.0 483.0,178.5 484.0,179.1 485.0,179.6 486.0,180.1 487.0,180.6 488.0,181.1 489.0,181.5 490.0,182.0 491.0,182.5 492.0,182.9 493.0,183.4 494.0,183.8 495.0,184.3 496.0,184.7 497.0,185.2 498.0,185.6 499.0,186.1 500.0,186.5 501.0,186.9 502.0,187.3 503.0,187.8 504.0,188.2 505.0,188.6 506.0,189.0 506.0,0.0" fill="#ffa023"/>
<polygon points="308.0,0.0 308.0,100.4 309.0,100.6 310.0,100.7 311.0,100.9 312.0,101.1 313.0,101.3 314.0,101.5 315.0,101.8 316.0,102.0 317.0,102.3 318.0,102.6 319.0,103.0 320.0,103.3 321.0,103.7 322.0,104.1 323.0,104.5 324.0,105.0 325.0,105.4 326.0,105.9 327.0,106.3 328.0,106.8 329.0,107.2 330.0,107.7 331.0,108.2 332.0,108.7 333.0,109.2 334.0,109.7 335.0,110.2 336.0,110.8 337.0,111.3 338.0,111.8 339.0,112.3 340.0,112.9 341.0,113.4 342.0,113.9 343.0,114.4 344.0,114.9 345.0,115.4 346.0,115.9 347.0,116.3 348.0,116.8 349.0,117.2 350.0,117.6 351.0,118.0 352.0,118.4 353.0,118.8 354.0,119.2 355.0,119.5 356.0,119.9 357.0,120.2 358.0,120.6 359.0,120.9 360.0,121.3 361.0,121.6 362.0,122.0 363.0,122.3 364.0,122.7 365.0,123.1 366.0,123.5 367.0,123.9 368.0,124.3 369.0,124.7 370.0,125.1 371.0,125.6 372.0,126.0 373.0,126.5 374.0,126.9 375.0,127.3 376.0,127.8 377.0,128.2 378.0,128.7 379.0,129.1 380.0,129.6 381.0,130.1 382.0,130.5 383.0,131.0 384.0,131.5 385.0,131.9 386.0,132.4 387.0,132.9 388.0,133.4 389.0,133.8 390.0,134.3 391.0,134.8 392.0,135.3 393.0,135.8 394.0,136.2 395.0,136.7 396.0,137.2 397.0,137.7 398.0,138.2 399.0,138.7 400.0,139.2 401.0,139.7 402.0,140.2 403.0,140.7 404.0,141.2 405.0,141.7 406.0,142.3 407.0,142.8 408.0,143.3 409.0,143.9 410.0,144.4 411.0,145.0 412.0,145.6 413.0,146.1 414.0,146.7 415.0,147.3 416.0,147.9 417.0,148.5 418.0,149.1 419.0,149.6 420.0,150.2 421.0,150.8 422.0,151.3 423.0,151.9 424.0,152.4 425.0,153.0 426.0,153.5 427.0,154.0 428.0,154.5 429.0,154.9 430.0,155.4 431.0,155.8 432.0,156.2 433.0,156.6 434.0,157.0 435.0,157.4 436.0,157.8 437.0,158.2 438.0,158.5 439.0,158.9 440.0,159.2 441.0,159.6 442.0,159.9 443.0,160.3 444.0,160.7 445.0,161.0 446.0,161.4 447.0,161.8 448.0,162.2 449.0,162.6 450.0,163.0 451.0,163.4 452.0,163.8 453.0,164.2 454.0,164.6 455.0,165.0 456.0,165.4 457.0,165.8 458.0,166.2 459.0,166.6 460.0,167.0 461.0,167.4 462.0,167.8 463.0,168.2 464.0,168.6 465.0,169.1 466.0,169.5 467.0,169.9 468.0,170.4 469.0,170.8 470.0,171.3 471.0,171.7 472.0,172.2 473.0,172.7 474.0,173.1 475.0,173.6 476.0,174.1 477.0,174.6 478.0,175.1 479.0,175.6 480.0,176.1 481.0,176.6 482.0,177.1 483.0,177.6 484.0,178.1 485.0,178.7 486.0,179.2 487.0,179.7 487.0,0.0" fill="#ffb437"/>
<polygon points="308.0,0.0 308.0,85.2 309.0,85.4 310.0,85.5 311.0,85.7 312.0,85.9 313.0,86.2 314.0,86.5 315.0,86.8 316.0,87.2 317.0,87.7 318.0,88.2 319.0,88.8 320.0,89.4 321.0,90.1 322.0,90.7 323.0,91.4 324.0,92.1 325.0,92.8 326.0,93.6 327.0,94.3 328.0,95.1 329.0,95.9 330.0,96.7 331.0,97.5 332.0,98.3 333.0,99.1 334.0,99.9 335.0,100.7 336.0,101.5 337.0,102.3 338.0,103.1 339.0,103.9 340.0,104.7 341.0,105.4 342.0,106.2 343.0,106.9 344.0,107.6 345.0,108.3 346.0,109.0 347.0,109.6 348.0,110.2 349.0,110.8 350.0,111.3 351.0,111.9 352.0,112.4 353.0,112.8 354.0,113.3 355.0,113.7 356.0,114.2 357.0,114.6 358.0,115.0 359.0,115.4 360.0,115.8 361.0,116.2 362.0,116.6 363.0,117.0 364.0,117.4 365.0,117.9 366.0,118.3 367.0,118.8 368.0,119.3 369.0,119.8 370.0,120.3 371.0,120.8 372.0,121.3 373.0,121.8 374.0,122.3 375.0,122.8 376.0,123.3 377.0,123.8 378.0,124.3 379.0,124.9 380.0,125.4 381.0,125.9 382.0,126.5 383.0,127.0 384.0,127.5 385.0,128.1 386.0,128.6 387.0,129.2 388.0,129.7 389.0,130.3 390.0,130.8 391.0,131.4 392.0,132.0 393.0,132.5 394.0,133.1 395.0,133.7 396.0,134.2 397.0,134.8 398.0,135.4 399.0,135.9 400.0,136.5 401.0,137.1 402.0,137.7 403.0,138.3 404.0,138.9 405.0,139.5 406.0,140.1 407.0,140.7 408.0,141.3 409.0,141.9 410.0,142.5 411.0,143.2 412.0,143.8 413.0,144.4 414.0,145.1 415.0,145.7 416.0,146.4 417.0,147.0 418.0,147.6 419.0,148.3 420.0,148.9 421.0,149.5 422.0,150.1 423.0,150.7 424.0,151.3 425.0,151.9 426.0,152.4 427.0,153.0 428.0,153.5 429.0,154.1 430.0,154.5 431.0,155.0 432.0,155.5 433.0,155.9 434.0,156.3 435.0,156.7 436.0,157.1 437.0,157.4 438.0,157.8 439.0,158.1 440.0,158.5 441.0,158.8 442.0,159.2 443.0,159.5 444.0,159.9 445.0,160.2 446.0,160.6 447.0,161.0 448.0,161.4 449.0,161.8 450.0,162.2 451.0,162.6 452.0,163.0 453.0,163.5 454.0,163.9 455.0,164.3 456.0,164.7 457.0,165.1 458.0,165.5 459.0,165.9 460.0,166.3 461.0,166.7 462.0,167.1 463.0,167.6 464.0,168.0 465.0,168.4 466.0,168.9 467.0,169.3 468.0,169.8 469.0,170.2 470.0,170.7 471.0,171.2 472.0,171.7 473.0,172.2 474.0,172.7 475.0,173.2 476.0,173.8 477.0,174.3 478.0,174.8 479.0,175.4 480.0,175.9 481.0,176.4 482.0,177.0 483.0,177.5 484.0,178.1 485.0,178.6 486.0,179.2 487.0,179.7 487.0,0.0" fill="#ffc546"/>
<polygon points="308.0,0.0 308.0,71.9 309.0,72.7 310.0,73.4 311.0,74.1 312.0,74.9 313.0,75.6 314.0,76.3 315.0,77.0 316.0,77.7 317.0,78.4 318.0,79.2 319.0,79.8 320.0,80.5 321.0,81.2 322.0,81.9 323.0,82.5 324.0,83.2 325.0,83.9 326.0,84.6 327.0,85.4 328.0,86.1 329.0,86.9 330.0,87.7 331.0,88.4 332.0,89.1 333.0,89.8 334.0,90.5 335.0,91.2 336.0,91.8 337.0,92.5 338.0,93.1 339.0,93.8 340.0,94.4 341.0,95.1 342.0,95.8 343.0,96.4 344.0,97.1 345.0,97.8 346.0,98.6 347.0,99.3 348.0,100.1 349.0,100.9 350.0,101.7 351.0,102.5 352.0,103.3 353.0,104.1 354.0,104.8 355.0,105.6 356.0,106.4 357.0,107.1 358.0,107.9 359.0,108.6 360.0,109.4 361.0,110.1 362.0,110.9 363.0,111.6 364.0,112.3 365.0,113.0 366.0,113.7 367.0,114.4 368.0,115.1 369.0,115.8 370.0,116.5 371.0,117.2 372.0,117.9 373.0,118.6 374.0,119.2 375.0,119.9 376.0,120.6 377.0,121.2 378.0,121.9 379.0,122.5 380.0,123.1 381.0,123.8 382.0,124.4 383.0,125.0 384.0,125.7 385.0,126.3 386.0,126.9 387.0,127.6 388.0,128.2 389.0,128.8 390.0,129.4 391.0,130.0 392.0,130.6 393.0,131.3 394.0,131.8 395.0,132.4 396.0,133.0 397.0,133.6 398.0,134.2 399.0,134.8 400.0,135.4 401.0,136.0 402.0,136.6 403.0,137.2 404.0,137.8 405.0,138.4 406.0,139.0 407.0,139.6 408.0,140.2 409.0,140.8 410.0,141.4 411.0,142.1 412.0,142.7 413.0,143.4 414.0,144.0 415.0,144.7 416.0,145.3 417.0,145.9 418.0,146.6 419.0,147.2 420.0,147.8 421.0,148.5 422.0,149.1 423.0,149.7 424.0,150.3 425.0,150.9 426.0,151.4 427.0,152.0 428.0,152.5 429.0,153.1 430.0,153.6 431.0,154.0 432.0,154.5 433.0,154.9 434.0,155.3 435.0,155.7 436.0,156.1 437.0,156.5 438.0,156.9 439.0,157.2 440.0,157.6 441.0,157.9 442.0,158.3 443.0,158.6 444.0,159.0 445.0,159.4 446.0,159.8 447.0,160.2 448.0,160.6 449.0,161.0 450.0,161.4 451.0,161.9 452.0,162.3 453.0,162.7 454.0,163.1 455.0,163.5 456.0,163.9 457.0,164.3 458.0,164.8 459.0,165.2 460.0,165.6 461.0,166.0 462.0,166.4 463.0,166.9 464.0,167.3 465.0,167.8 466.0,168.2 467.0,168.7 468.0,169.2 469.0,169.6 470.0,170.1 471.0,170.7 472.0,171.2 473.0,171.7 474.0,172.3 475.0,172.8 476.0,173.4 477.0,174.0 478.0,174.5 479.0,175.1 480.0,175.7 481.0,176.3 482.0,176.9 483.0,177.4 484.0,178.0 485.0,178.6 486.0,179.1 486.0,0.0" fill="#ffd75a"/>
<polygon points="308.0,0.0 308.0,64.4 309.0,65.0 310.0,65.5 311.0,66.1 312.0,66.7 313.0,67.3 314.0,68.0 315.0,68.6 316.0,69.3 317.0,70.0 318.0,70.7 319.0,71.4 320.0,72.1 321.0,72.8 322.0,73.6 323.0,74.4 324.0,75.2 325.0,76.0 326.0,76.9 327.0,77.7 328.0,78.6 329.0,79.4 330.0,80.3 331.0,81.2 332.0,82.2 333.0,83.1 334.0,84.1 335.0,85.1 336.0,86.0 337.0,87.0 338.0,88.0 339.0,89.0 340.0,90.0 341.0,91.0 342.0,92.0 343.0,92.9 344.0,93.9 345.0,94.8 346.0,95.8 347.0,96.7 348.0,97.6 349.0,98.4 350.0,99.3 351.0,100.1 352.0,100.9 353.0,101.8 354.0,102.6 355.0,103.4 356.0,104.1 357.0,104.9 358.0,105.7 359.0,106.5 360.0,107.2 361.0,108.0 362.0,108.7 363.0,109.5 364.0,110.2 365.0,110.9 366.0,111.7 367.0,112.4 368.0,113.1 369.0,113.9 370.0,114.6 371.0,115.3 372.0,116.0 373.0,116.7 374.0,117.4 375.0,118.1 376.0,118.8 377.0,119.5 378.0,120.2 379.0,120.9 380.0,121.6 381.0,122.2 382.0,122.9 383.0,123.6 384.0,124.2 385.0,124.9 386.0,125.6 387.0,126.2 388.0,126.9 389.0,127.5 390.0,128.2 391.0,128.8 392.0,129.4 393.0,130.1 394.0,130.7 395.0,131.3 396.0,131.9 397.0,132.5 398.0,133.1 399.0,133.7 400.0,134.3 401.0,134.9 402.0,135.5 403.0,136.1 404.0,136.7 405.0,137.3 406.0,137.9 407.0,138.6 408.0,139.2 409.0,139.8 410.0,140.4 411.0,141.1 412.0,141.7 413.0,142.4 414.0,143.0 415.0,143.7 416.0,144.3 417.0,144.9 418.0,145.6 419.0,146.2 420.0,146.8 421.0,147.5 422.0,148.1 423.0,148.7 424.0,149.3 425.0,149.9 426.0,150.4 427.0,151.0 428.0,151.5 429.0,152.1 430.0,152.6 431.0,153.0 432.0,153.5 433.0,154.0 434.0,154.4 435.0,154.8 436.0,155.2 437.0,155.6 438.0,156.0 439.0,156.4 440.0,156.7 441.0,157.1 442.0,157.5 443.0,157.8 444.0,158.2 445.0,158.6 446.0,159.0 447.0,159.4 448.0,159.8 449.0,160.2 450.0,160.6 451.0,161.0 452.0,161.4 453.0,161.8 454.0,162.2 455.0,162.5 456.0,162.9 457.0,163.3 458.0,163.7 459.0,164.0 460.0,164.4 461.0,164.8 462.0,165.2 463.0,165.7 464.0,166.1 465.0,166.5 466.0,167.0 466.0,0.0" fill="#ffe674"/>
<polygon points="308.0,0.0 308.0,61.3 309.0,61.7 310.0,62.2 311.0,62.6 312.0,63.1 313.0,63.6 314.0,64.2 315.0,64.8 316.0,65.4 317.0,66.0 318.0,66.7 319.0,67.4 320.0,68.1 321.0,68.8 322.0,69.6 323.0,70.4 324.0,71.2 325.0,72.0 326.0,72.9 327.0,73.7 328.0,74.6 329.0,75.4 330.0,76.4 331.0,77.3 332.0,78.3 333.0,79.4 334.0,80.4 335.0,81.5 336.0,82.6 337.0,83.7 338.0,84.8 339.0,86.0 340.0,87.1 341.0,88.2 342.0,89.4 343.0,90.5 344.0,91.5 345.0,92.6 346.0,93.6 347.0,94.6 348.0,95.5 349.0,96.4 350.0,97.3 351.0,98.2 352.0,99.1 353.0,99.9 354.0,100.7 355.0,101.5 356.0,102.3 357.0,103.1 358.0,103.9 359.0,104.7 360.0,105.5 361.0,106.2 362.0,107.0 363.0,107.7 364.0,108.5 365.0,109.2 366.0,109.9 367.0,110.7 368.0,111.4 369.0,112.2 370.0,112.9 371.0,113.6 372.0,114.4 373.0,115.1 374.0,115.8 375.0,116.5 376.0,117.2 377.0,117.9 378.0,118.5 379.0,119.2 380.0,119.9 381.0,120.6 382.0,121.3 383.0,121.9 384.0,122.6 385.0,123.3 386.0,123.9 387.0,124.6 388.0,125.3 389.0,125.9 390.0,126.6 391.0,127.3 392.0,127.9 393.0,128.6 394.0,129.2 395.0,129.8 396.0,130.5 397.0,131.1 398.0,131.8 399.0,132.4 400.0,133.0 401.0,133.7 402.0,134.3 403.0,134.9 404.0,135.6 405.0,136.2 406.0,136.8 407.0,137.5 408.0,138.1 409.0,138.7 410.0,139.4 411.0,140.0 412.0,140.6 413.0,141.3 414.0,141.9 415.0,142.6 416.0,143.2 417.0,143.9 418.0,144.5 419.0,145.1 420.0,145.8 421.0,146.4 422.0,147.0 423.0,147.6 424.0,148.2 425.0,148.8 426.0,149.3 427.0,149.9 428.0,150.4 429.0,151.0 430.0,151.4 431.0,151.9 432.0,152.3 433.0,152.7 434.0,153.1 435.0,153.5 436.0,153.8 437.0,154.1 438.0,154.5 439.0,154.8 440.0,155.1 441.0,155.4 442.0,155.8 443.0,156.1 444.0,156.5 445.0,156.9 446.0,157.3 447.0,157.8 447.0,0.0" fill="#fdf096"/>
<polygon points="308.0,0.0 308.0,58.3 309.0,58.7 310.0,59.0 311.0,59.4 312.0,59.9 313.0,60.3 314.0,60.8 315.0,61.3 316.0,61.9 317.0,62.5 318.0,63.2 319.0,63.9 320.0,64.6 321.0,65.3 322.0,66.1 323.0,66.8 324.0,67.6 325.0,68.4 326.0,69.3 327.0,70.2 328.0,71.0 329.0,72.0 330.0,72.9 331.0,74.0 332.0,75.0 333.0,76.1 334.0,77.3 335.0,78.5 336.0,79.6 337.0,80.9 338.0,82.1 339.0,83.3 340.0,84.5 341.0,85.7 342.0,86.9 343.0,88.1 344.0,89.3 345.0,90.4 346.0,91.5 347.0,92.5 348.0,93.5 349.0,94.5 350.0,95.4 351.0,96.3 352.0,97.2 353.0,98.0 354.0,98.9 355.0,99.7 356.0,100.5 357.0,101.3 358.0,102.1 359.0,102.9 360.0,103.6 361.0,104.4 362.0,105.1 363.0,105.9 364.0,106.6 365.0,107.4 366.0,108.1 367.0,108.9 368.0,109.6 369.0,110.4 370.0,111.1 371.0,111.9 372.0,112.6 373.0,113.3 374.0,114.0 375.0,114.7 376.0,115.4 377.0,116.1 378.0,116.8 379.0,117.5 380.0,118.2 381.0,118.9 382.0,119.6 383.0,120.3 384.0,120.9 385.0,121.6 386.0,122.3 387.0,123.0 388.0,123.7 389.0,124.3 390.0,125.0 391.0,125.7 392.0,126.4 393.0,127.1 394.0,127.7 395.0,128.4 396.0,129.1 397.0,129.8 398.0,130.4 399.0,131.1 400.0,131.8 401.0,132.4 402.0,133.1 403.0,133.7 404.0,134.4 405.0,135.0 406.0,135.7 407.0,136.3 408.0,137.0 409.0,137.6 410.0,138.3 411.0,138.9 412.0,139.5 413.0,140.2 414.0,140.8 415.0,141.5 416.0,142.1 417.0,142.7 418.0,143.4 419.0,144.0 420.0,144.6 421.0,145.2 422.0,145.8 423.0,146.4 424.0,147.0 425.0,147.6 426.0,148.1 427.0,148.7 428.0,149.2 429.0,149.8 430.0,150.3 431.0,150.8 432.0,151.2 433.0,151.7 434.0,152.1 435.0,152.6 436.0,153.0 437.0,153.4 438.0,153.8 439.0,154.2 440.0,154.7 441.0,155.1 442.0,155.5 443.0,155.9 444.0,156.4 445.0,156.8 446.0,157.3 447.0,157.7 447.0,0.0" fill="#fcf7ba"/>
<polygon points="308.0,0.0 308.0,51.7 309.0,52.4 310.0,53.2 311.0,54.0 312.0,54.8 313.0,55.6 314.0,56.4 315.0,57.2 316.0,58.0 317.0,58.8 318.0,59.6 319.0,60.4 320.0,61.2 321.0,62.0 322.0,62.8 323.0,63.6 324.0,64.4 325.0,65.3 326.0,66.1 327.0,67.0 328.0,67.9 329.0,68.9 330.0,69.9 331.0,71.0 332.0,72.1 333.0,73.3 334.0,74.5 335.0,75.8 336.0,77.0 337.0,78.3 338.0,79.6 339.0,80.9 340.0,82.2 341.0,83.5 342.0,84.7 343.0,86.0 344.0,87.2 345.0,88.3 346.0,89.4 347.0,90.5 348.0,91.5 349.0,92.5 350.0,93.4 351.0,94.3 352.0,95.2 353.0,96.0 354.0,96.9 355.0,97.7 356.0,98.5 357.0,99.3 358.0,100.1 359.0,100.8 360.0,101.6 361.0,102.4 362.0,103.1 363.0,103.9 364.0,104.6 365.0,105.4 366.0,106.1 367.0,106.9 368.0,107.6 369.0,108.4 370.0,109.1 371.0,109.9 372.0,110.6 373.0,111.3 374.0,112.1 375.0,112.8 376.0,113.5 377.0,114.2 378.0,114.9 379.0,115.6 380.0,116.3 381.0,117.0 382.0,117.7 383.0,118.4 384.0,119.1 385.0,119.8 386.0,120.5 387.0,121.2 388.0,121.9 389.0,122.7 390.0,123.4 391.0,124.1 392.0,124.8 393.0,125.5 394.0,126.2 395.0,126.9 396.0,127.6 397.0,128.3 398.0,129.1 399.0,129.8 400.0,130.5 401.0,131.2 402.0,131.9 403.0,132.5 404.0,133.2 405.0,133.9 406.0,134.6 407.0,135.2 408.0,135.9 409.0,136.5 410.0,137.1 411.0,137.7 412.0,138.3 413.0,138.9 414.0,139.5 415.0,140.0 416.0,140.6 417.0,141.1 418.0,141.7 419.0,142.2 420.0,142.8 421.0,143.3 422.0,143.8 423.0,144.4 424.0,144.9 425.0,145.5 426.0,146.0 427.0,146.6 428.0,147.2 428.0,0.0" fill="#fffff0"/>
<polygon points="308.0,0.0 308.0,51.7 309.0,52.3 310.0,52.9 311.0,53.5 312.0,54.2 313.0,54.1 314.0,54.6 315.0,55.1 316.0,55.7 317.0,56.2 318.0,56.7 319.0,57.3 320.0,57.8 321.0,58.3 322.0,58.9 323.0,59.4 324.0,60.0 325.0,60.6 326.0,61.2 327.0,61.9 328.0,62.6 329.0,63.4 330.0,64.2 331.0,65.1 332.0,66.0 333.0,67.0 334.0,68.0 335.0,69.0 336.0,70.0 337.0,71.1 338.0,72.2 339.0,73.3 340.0,74.4 341.0,75.5 342.0,76.6 343.0,77.7 344.0,78.7 345.0,79.8 346.0,80.8 347.0,81.8 348.0,82.8 349.0,83.8 350.0,84.7 351.0,85.6 352.0,86.5 353.0,87.4 354.0,88.3 355.0,89.2 356.0,90.1 357.0,90.9 358.0,91.8 359.0,92.6 360.0,93.5 361.0,94.3 362.0,95.2 363.0,96.0 364.0,96.8 365.0,97.7 366.0,98.5 367.0,99.3 368.0,100.2 369.0,101.0 370.0,101.8 371.0,102.7 372.0,103.5 373.0,104.3 374.0,105.1 375.0,106.0 376.0,106.8 377.0,107.6 378.0,108.4 379.0,109.2 380.0,110.0 381.0,110.8 382.0,111.6 383.0,112.4 384.0,113.2 385.0,114.0 386.0,114.8 387.0,115.6 388.0,116.4 389.0,117.2 390.0,118.0 391.0,118.8 392.0,119.5 393.0,120.3 394.0,121.1 395.0,121.9 396.0,122.7 397.0,123.4 398.0,124.2 399.0,125.0 400.0,125.7 401.0,126.5 402.0,127.3 403.0,128.0 404.0,128.8 405.0,129.6 406.0,130.3 407.0,131.1 408.0,131.8 409.0,132.6 410.0,133.3 411.0,134.1 412.0,134.9 413.0,135.7 414.0,136.5 415.0,137.4 416.0,138.2 417.0,139.0 418.0,140.8 419.0,141.4 420.0,142.1 421.0,142.8 422.0,143.4 423.0,144.1 424.0,144.7 425.0,145.3 426.0,146.0 426.0,0.0" fill="#fffac7"/>
<polygon points="308.0,0.0 308.0,47.1 309.0,47.9 310.0,48.8 311.0,49.6 312.0,50.5 313.0,51.3 314.0,52.1 315.0,52.9 316.0,53.7 317.0,54.4 318.0,55.1 319.0,55.8 320.0,56.5 321.0,57.2 322.0,57.8 323.0,58.4 324.0,59.0 325.0,59.7 326.0,60.4 327.0,61.1 328.0,61.8 329.0,62.6 330.0,63.5 331.0,64.3 332.0,65.3 333.0,66.2 334.0,67.3 335.0,68.3 336.0,69.3 337.0,70.4 338.0,71.5 339.0,72.6 340.0,73.7 341.0,74.8 342.0,75.9 343.0,77.0 344.0,78.0 345.0,79.1 346.0,80.1 347.0,81.1 348.0,82.1 349.0,83.1 350.0,84.0 351.0,84.9 352.0,85.8 353.0,86.7 354.0,87.6 355.0,88.5 356.0,89.4 357.0,90.3 358.0,91.1 359.0,92.0 360.0,92.8 361.0,93.7 362.0,94.5 363.0,95.4 364.0,96.2 365.0,97.1 366.0,97.9 367.0,98.7 368.0,99.6 369.0,100.4 370.0,101.3 371.0,102.1 372.0,102.9 373.0,103.7 374.0,104.6 375.0,105.4 376.0,106.2 377.0,107.0 378.0,107.8 379.0,108.6 380.0,109.4 381.0,110.2 382.0,111.0 383.0,111.8 384.0,112.6 385.0,113.4 386.0,114.2 387.0,115.0 388.0,115.8 389.0,116.6 390.0,117.4 391.0,118.2 392.0,119.0 393.0,119.7 394.0,120.5 395.0,121.3 396.0,122.1 397.0,122.8 398.0,123.6 399.0,124.4 400.0,125.2 401.0,125.9 402.0,126.7 403.0,127.5 404.0,128.2 405.0,129.0 406.0,129.7 407.0,130.5 408.0,131.2 409.0,132.0 410.0,132.7 411.0,133.5 412.0,134.3 413.0,135.0 414.0,135.8 415.0,136.6 416.0,137.3 417.0,138.1 418.0,138.9 419.0,139.6 420.0,140.4 421.0,141.2 422.0,141.9 423.0,142.6 424.0,144.5 425.0,145.3 426.0,146.0 427.0,146.6 428.0,147.2 429.0,147.8 430.0,148.4 431.0,149.0 432.0,149.6 433.0,150.1 434.0,150.7 435.0,151.3 436.0,151.8 437.0,152.4 438.0,152.9 438.0,0.0" fill="#fff4a2"/>
<polygon points="308.0,0.0 308.0,46.4 309.0,47.3 310.0,48.1 311.0,48.9 312.0,49.7 313.0,50.5 314.0,51.3 315.0,52.1 316.0,52.9 317.0,53.6 318.0,54.3 319.0,55.0 320.0,55.7 321.0,56.3 322.0,57.0 323.0,57.6 324.0,58.3 325.0,58.9 326.0,59.6 327.0,60.3 328.0,61.1 329.0,61.9 330.0,62.7 331.0,63.6 332.0,64.6 333.0,65.6 334.0,66.6 335.0,67.6 336.0,68.7 337.0,69.8 338.0,70.9 339.0,72.0 340.0,73.1 341.0,74.2 342.0,75.3 343.0,76.4 344.0,77.5 345.0,78.5 346.0,79.6 347.0,80.6 348.0,81.6 349.0,82.5 350.0,83.4 351.0,84.4 352.0,85.3 353.0,86.2 354.0,87.1 355.0,88.0 356.0,88.8 357.0,89.7 358.0,90.6 359.0,91.5 360.0,92.3 361.0,93.2 362.0,94.0 363.0,94.9 364.0,95.7 365.0,96.6 366.0,97.4 367.0,98.2 368.0,99.1 369.0,99.9 370.0,100.7 371.0,101.6 372.0,102.4 373.0,103.2 374.0,104.0 375.0,104.8 376.0,105.6 377.0,106.4 378.0,107.2 379.0,108.0 380.0,108.8 381.0,109.6 382.0,110.4 383.0,111.2 384.0,112.0 385.0,112.8 386.0,113.6 387.0,114.4 388.0,115.1 389.0,115.9 390.0,116.7 391.0,117.5 392.0,118.3 393.0,119.1 394.0,119.8 395.0,120.6 396.0,121.4 397.0,122.2 398.0,122.9 399.0,123.7 400.0,124.5 401.0,125.2 402.0,126.0 403.0,126.8 404.0,127.5 405.0,128.3 406.0,129.0 407.0,129.8 408.0,130.5 409.0,131.3 410.0,132.0 411.0,132.8 412.0,133.5 413.0,134.3 414.0,135.0 415.0,135.8 416.0,136.5 417.0,137.3 418.0,138.0 419.0,138.8 420.0,139.5 421.0,140.2 422.0,141.0 423.0,141.7 424.0,143.2 425.0,143.9 426.0,144.7 427.0,145.4 428.0,146.1 429.0,146.9 430.0,147.6 431.0,148.3 432.0,149.0 433.0,149.6 434.0,150.3 435.0,151.0 436.0,151.7 437.0,152.3 438.0,152.9 439.0,153.5 440.0,154.0 441.0,154.6 442.0,155.1 443.0,155.6 444.0,156.2 445.0,156.7 446.0,157.2 447.0,157.7 448.0,158.2 449.0,158.8 450.0,159.3 451.0,159.8 452.0,160.3 453.0,160.7 454.0,161.2 454.0,0.0" fill="#ffec7e"/>
<polygon points="308.0,0.0 308.0,45.8 309.0,46.6 310.0,47.4 311.0,48.2 312.0,49.0 313.0,49.7 314.0,50.5 315.0,51.3 316.0,52.0 317.0,52.8 318.0,53.5 319.0,54.2 320.0,54.9 321.0,55.5 322.0,56.2 323.0,56.8 324.0,57.5 325.0,58.1 326.0,58.8 327.0,59.6 328.0,60.3 329.0,61.1 330.0,62.0 331.0,62.9 332.0,63.9 333.0,64.9 334.0,65.9 335.0,67.0 336.0,68.0 337.0,69.1 338.0,70.2 339.0,71.3 340.0,72.5 341.0,73.6 342.0,74.7 343.0,75.8 344.0,76.9 345.0,78.0 346.0,79.0 347.0,80.0 348.0,81.0 349.0,81.9 350.0,82.9 351.0,83.8 352.0,84.7 353.0,85.6 354.0,86.5 355.0,87.4 356.0,88.3 357.0,89.2 358.0,90.1 359.0,90.9 360.0,91.8 361.0,92.7 362.0,93.5 363.0,94.4 364.0,95.2 365.0,96.1 366.0,96.9 367.0,97.8 368.0,98.6 369.0,99.4 370.0,100.2 371.0,101.1 372.0,101.9 373.0,102.7 374.0,103.5 375.0,104.3 376.0,105.1 377.0,105.9 378.0,106.7 379.0,107.5 380.0,108.2 381.0,109.0 382.0,109.8 383.0,110.6 384.0,111.4 385.0,112.1 386.0,112.9 387.0,113.7 388.0,114.5 389.0,115.3 390.0,116.0 391.0,116.8 392.0,117.6 393.0,118.4 394.0,119.2 395.0,119.9 396.0,120.7 397.0,121.5 398.0,122.3 399.0,123.0 400.0,123.8 401.0,124.6 402.0,125.3 403.0,126.1 404.0,126.8 405.0,127.6 406.0,128.3 407.0,129.1 408.0,129.8 409.0,130.6 410.0,131.3 411.0,132.0 412.0,132.8 413.0,133.5 414.0,134.3 415.0,135.0 416.0,135.7 417.0,136.5 418.0,137.2 419.0,137.9 420.0,138.6 421.0,139.3 422.0,140.1 423.0,140.8 424.0,141.8 425.0,142.5 426.0,143.3 427.0,144.0 428.0,144.7 429.0,145.3 430.0,146.0 431.0,146.7 432.0,147.4 433.0,148.1 434.0,148.8 435.0,149.5 436.0,150.2 437.0,150.8 438.0,151.5 439.0,152.2 440.0,152.8 441.0,153.5 442.0,154.1 443.0,154.7 444.0,155.4 445.0,156.0 446.0,156.6 447.0,157.2 448.0,157.8 449.0,158.4 450.0,159.0 451.0,159.5 452.0,160.1 453.0,160.7 454.0,161.2 455.0,161.7 456.0,162.2 457.0,162.6 458.0,163.1 459.0,163.6 460.0,164.0 461.0,164.5 462.0,165.0 463.0,165.5 464.0,166.0 465.0,166.5 466.0,167.0 467.0,167.5 468.0,168.0 469.0,168.6 469.0,0.0" fill="#ffde61"/>
<polygon points="308.0,0.0 308.0,45.1 309.0,45.9 310.0,46.7 311.0,47.4 312.0,48.2 313.0,49.0 314.0,49.7 315.0,50.5 316.0,51.2 317.0,51.9 318.0,52.6 319.0,53.3 320.0,54.0 321.0,54.7 322.0,55.3 323.0,56.0 324.0,56.7 325.0,57.4 326.0,58.1 327.0,58.8 328.0,59.6 329.0,60.4 330.0,61.3 331.0,62.2 332.0,63.2 333.0,64.2 334.0,65.2 335.0,66.3 336.0,67.4 337.0,68.5 338.0,69.6 339.0,70.7 340.0,71.9 341.0,73.0 342.0,74.1 343.0,75.2 344.0,76.3 345.0,77.4 346.0,78.4 347.0,79.4 348.0,80.4 349.0,81.4 350.0,82.3 351.0,83.2 352.0,84.2 353.0,85.1 354.0,86.0 355.0,86.9 356.0,87.8 357.0,88.7 358.0,89.5 359.0,90.4 360.0,91.3 361.0,92.2 362.0,93.0 363.0,93.9 364.0,94.7 365.0,95.6 366.0,96.4 367.0,97.3 368.0,98.1 369.0,98.9 370.0,99.7 371.0,100.5 372.0,101.4 373.0,102.2 374.0,102.9 375.0,103.7 376.0,104.5 377.0,105.3 378.0,106.1 379.0,106.9 380.0,107.6 381.0,108.4 382.0,109.2 383.0,110.0 384.0,110.7 385.0,111.5 386.0,112.3 387.0,113.0 388.0,113.8 389.0,114.6 390.0,115.4 391.0,116.1 392.0,116.9 393.0,117.7 394.0,118.5 395.0,119.2 396.0,120.0 397.0,120.8 398.0,121.6 399.0,122.3 400.0,123.1 401.0,123.9 402.0,124.6 403.0,125.4 404.0,126.2 405.0,126.9 406.0,127.7 407.0,128.4 408.0,129.1 409.0,129.9 410.0,130.6 411.0,131.3 412.0,132.0 413.0,132.8 414.0,133.5 415.0,134.2 416.0,134.9 417.0,135.6 418.0,136.3 419.0,137.0 420.0,137.7 421.0,138.4 422.0,139.1 423.0,139.8 424.0,140.5 425.0,141.2 426.0,141.8 427.0,142.5 428.0,143.2 429.0,143.8 430.0,144.5 431.0,145.2 432.0,145.9 433.0,146.6 434.0,147.3 435.0,148.0 436.0,148.7 437.0,149.4 438.0,150.1 439.0,150.8 440.0,151.4 441.0,152.1 442.0,152.8 443.0,153.5 444.0,154.1 445.0,154.7 446.0,155.4 447.0,155.9 448.0,156.5 449.0,157.1 450.0,157.6 451.0,158.1 452.0,158.7 453.0,159.2 454.0,159.7 455.0,160.1 456.0,160.6 457.0,161.1 458.0,161.6 459.0,162.1 460.0,162.6 461.0,163.1 462.0,164.7 463.0,165.2 464.0,165.8 465.0,166.3 466.0,166.9 467.0,167.4 468.0,168.0 469.0,168.6 470.0,169.1 471.0,169.7 472.0,170.3 473.0,170.9 474.0,171.5 475.0,172.2 476.0,172.8 477.0,173.5 478.0,174.1 478.0,0.0" fill="#ffc94b"/>
<polygon points="308.0,0.0 308.0,43.9 309.0,44.7 310.0,45.5 311.0,46.3 312.0,47.1 313.0,47.9 314.0,48.7 315.0,49.5 316.0,50.2 317.0,51.0 318.0,51.7 319.0,52.5 320.0,53.2 321.0,53.9 322.0,54.6 323.0,55.3 324.0,56.0 325.0,56.7 326.0,57.4 327.0,58.2 328.0,59.0 329.0,59.8 330.0,60.7 331.0,61.6 332.0,62.6 333.0,63.6 334.0,64.6 335.0,65.7 336.0,66.8 337.0,67.9 338.0,69.0 339.0,70.1 340.0,71.3 341.0,72.4 342.0,73.5 343.0,74.6 344.0,75.7 345.0,76.8 346.0,77.8 347.0,78.8 348.0,79.8 349.0,80.7 350.0,81.7 351.0,82.6 352.0,83.5 353.0,84.4 354.0,85.3 355.0,86.2 356.0,87.1 357.0,88.0 358.0,88.9 359.0,89.8 360.0,90.6 361.0,91.5 362.0,92.4 363.0,93.2 364.0,94.0 365.0,94.9 366.0,95.7 367.0,96.6 368.0,97.4 369.0,98.2 370.0,99.0 371.0,99.8 372.0,100.6 373.0,101.4 374.0,102.2 375.0,103.0 376.0,103.8 377.0,104.6 378.0,105.4 379.0,106.1 380.0,106.9 381.0,107.7 382.0,108.5 383.0,109.2 384.0,110.0 385.0,110.8 386.0,111.5 387.0,112.3 388.0,113.1 389.0,113.8 390.0,114.6 391.0,115.4 392.0,116.2 393.0,116.9 394.0,117.7 395.0,118.5 396.0,119.3 397.0,120.0 398.0,120.8 399.0,121.6 400.0,122.3 401.0,123.1 402.0,123.9 403.0,124.6 404.0,125.4 405.0,126.1 406.0,126.9 407.0,127.6 408.0,128.3 409.0,129.1 410.0,129.8 411.0,130.5 412.0,131.2 413.0,132.0 414.0,132.7 415.0,133.4 416.0,134.1 417.0,134.8 418.0,135.5 419.0,136.2 420.0,136.9 421.0,137.6 422.0,138.3 423.0,139.0 424.0,139.7 425.0,140.4 426.0,141.1 427.0,141.7 428.0,142.4 429.0,143.1 430.0,143.7 431.0,144.4 432.0,145.1 433.0,145.8 434.0,146.5 435.0,147.2 436.0,147.9 437.0,148.7 438.0,149.4 439.0,150.1 440.0,150.8 441.0,151.5 442.0,152.2 443.0,152.8 444.0,153.5 445.0,154.1 446.0,154.8 447.0,155.4 448.0,156.0 449.0,156.5 450.0,157.1 451.0,157.6 452.0,158.1 453.0,158.7 454.0,159.2 455.0,159.7 456.0,160.2 457.0,160.7 458.0,161.2 459.0,161.7 460.0,162.2 461.0,162.7 462.0,164.1 463.0,164.6 464.0,165.2 465.0,165.7 466.0,166.3 467.0,166.8 468.0,167.4 469.0,168.0 470.0,168.6 471.0,169.3 472.0,169.9 473.0,170.6 474.0,171.3 475.0,172.0 476.0,172.7 477.0,173.4 478.0,174.1 479.0,174.7 480.0,175.4 481.0,176.0 482.0,176.7 483.0,177.3 484.0,177.9 485.0,178.5 486.0,179.1 486.0,0.0" fill="#ffaf30"/>
<polygon points="308.0,0.0 308.0,42.7 309.0,43.5 310.0,44.4 311.0,45.2 312.0,46.0 313.0,46.8 314.0,47.7 315.0,48.5 316.0,49.3 317.0,50.1 318.0,50.8 319.0,51.6 320.0,52.3 321.0,53.1 322.0,53.8 323.0,54.5 324.0,55.3 325.0,56.0 326.0,56.8 327.0,57.6 328.0,58.4 329.0,59.2 330.0,60.1 331.0,61.1 332.0,62.0 333.0,63.0 334.0,64.1 335.0,65.1 336.0,66.2 337.0,67.3 338.0,68.4 339.0,69.5 340.0,70.7 341.0,71.8 342.0,72.9 343.0,74.0 344.0,75.1 345.0,76.2 346.0,77.2 347.0,78.2 348.0,79.2 349.0,80.1 350.0,81.1 351.0,82.0 352.0,82.9 353.0,83.8 354.0,84.7 355.0,85.6 356.0,86.5 357.0,87.4 358.0,88.2 359.0,89.1 360.0,90.0 361.0,90.8 362.0,91.7 363.0,92.5 364.0,93.4 365.0,94.2 366.0,95.0 367.0,95.9 368.0,96.7 369.0,97.5 370.0,98.3 371.0,99.1 372.0,99.9 373.0,100.7 374.0,101.5 375.0,102.3 376.0,103.1 377.0,103.9 378.0,104.7 379.0,105.4 380.0,106.2 381.0,107.0 382.0,107.7 383.0,108.5 384.0,109.3 385.0,110.0 386.0,110.8 387.0,111.6 388.0,112.3 389.0,113.1 390.0,113.9 391.0,114.6 392.0,115.4 393.0,116.2 394.0,117.0 395.0,117.7 396.0,118.5 397.0,119.3 398.0,120.0 399.0,120.8 400.0,121.6 401.0,122.3 402.0,123.1 403.0,123.8 404.0,124.6 405.0,125.3 406.0,126.1 407.0,126.8 408.0,127.5 409.0,128.3 410.0,129.0 411.0,129.7 412.0,130.4 413.0,131.2 414.0,131.9 415.0,132.6 416.0,133.3 417.0,134.0 418.0,134.7 419.0,135.5 420.0,136.2 421.0,136.9 422.0,137.6 423.0,138.3 424.0,138.9 425.0,139.6 426.0,140.3 427.0,141.0 428.0,141.6 429.0,142.3 430.0,143.0 431.0,143.7 432.0,144.4 433.0,145.1 434.0,145.8 435.0,146.5 436.0,147.2 437.0,148.0 438.0,148.7 439.0,149.4 440.0,150.1 441.0,150.8 442.0,151.5 443.0,152.2 444.0,152.9 445.0,153.5 446.0,154.2 447.0,154.8 448.0,155.4 449.0,156.0 450.0,156.5 451.0,157.1 452.0,157.6 453.0,158.2 454.0,158.7 455.0,159.2 456.0,159.7 457.0,160.2 458.0,160.7 459.0,161.2 460.0,161.8 461.0,162.3 462.0,163.5 463.0,164.0 464.0,164.5 465.0,165.1 466.0,165.7 467.0,166.2 468.0,166.8 469.0,167.4 470.0,168.0 471.0,168.7 472.0,169.3 473.0,170.0 474.0,170.7 475.0,171.3 476.0,172.1 477.0,172.8 478.0,173.5 479.0,174.2 480.0,174.9 481.0,175.6 482.0,176.4 483.0,177.1 484.0,177.8 485.0,178.5 486.0,179.1 487.0,179.7 488.0,180.2 489.0,180.8 490.0,181.3 491.0,181.8 492.0,182.3 493.0,182.9 494.0,183.4 495.0,183.9 495.0,0.0" fill="#ff9010"/>
<polygon points="308.0,0.0 308.0,41.5 309.0,42.3 310.0,43.2 311.0,44.1 312.0,44.9 313.0,45.8 314.0,46.6 315.0,47.5 316.0,48.3 317.0,49.1 318.0,49.9 319.0,50.7 320.0,51.5 321.0,52.2 322.0,53.0 323.0,53.8 324.0,54.6 325.0,55.3 326.0,56.1 327.0,56.9 328.0,57.8 329.0,58.6 330.0,59.5 331.0,60.5 332.0,61.4 333.0,62.5 334.0,63.5 335.0,64.6 336.0,65.6 337.0,66.7 338.0,67.8 339.0,69.0 340.0,70.1 341.0,71.2 342.0,72.3 343.0,73.4 344.0,74.5 345.0,75.5 346.0,76.6 347.0,77.6 348.0,78.6 349.0,79.5 350.0,80.4 351.0,81.4 352.0,82.3 353.0,83.2 354.0,84.1 355.0,85.0 356.0,85.8 357.0,86.7 358.0,87.6 359.0,88.5 360.0,89.3 361.0,90.2 362.0,91.0 363.0,91.8 364.0,92.7 365.0,93.5 366.0,94.3 367.0,95.2 368.0,96.0 369.0,96.8 370.0,97.6 371.0,98.4 372.0,99.2 373.0,100.0 374.0,100.8 375.0,101.6 376.0,102.4 377.0,103.2 378.0,103.9 379.0,104.7 380.0,105.5 381.0,106.2 382.0,107.0 383.0,107.8 384.0,108.5 385.0,109.3 386.0,110.1 387.0,110.8 388.0,111.6 389.0,112.4 390.0,113.1 391.0,113.9 392.0,114.7 393.0,115.4 394.0,116.2 395.0,117.0 396.0,117.7 397.0,118.5 398.0,119.3 399.0,120.0 400.0,120.8 401.0,121.5 402.0,122.3 403.0,123.0 404.0,123.8 405.0,124.5 406.0,125.3 407.0,126.0 408.0,126.7 409.0,127.5 410.0,128.2 411.0,128.9 412.0,129.6 413.0,130.4 414.0,131.1 415.0,131.8 416.0,132.5 417.0,133.2 418.0,134.0 419.0,134.7 420.0,135.4 421.0,136.1 422.0,136.8 423.0,137.5 424.0,138.2 425.0,138.9 426.0,139.5 427.0,140.2 428.0,140.9 429.0,141.6 430.0,142.2 431.0,142.9 432.0,143.6 433.0,144.3 434.0,145.1 435.0,145.8 436.0,146.5 437.0,147.3 438.0,148.0 439.0,148.7 440.0,149.4 441.0,150.2 442.0,150.9 443.0,151.6 444.0,152.2 445.0,152.9 446.0,153.6 447.0,154.2 448.0,154.8 449.0,155.4 450.0,156.0 451.0,156.6 452.0,157.1 453.0,157.7 454.0,158.2 455.0,158.7 456.0,159.3 457.0,159.8 458.0,160.3 459.0,160.8 460.0,161.3 461.0,161.9 462.0,162.8 463.0,163.4 464.0,163.9 465.0,164.5 466.0,165.1 467.0,165.6 468.0,166.2 469.0,166.8 470.0,167.4 471.0,168.0 472.0,168.7 473.0,169.4 474.0,170.0 475.0,170.7 476.0,171.4 477.0,172.1 478.0,172.8 479.0,173.5 480.0,174.2 481.0,174.9 482.0,175.6 483.0,176.3 484.0,177.0 485.0,177.7 486.0,178.4 487.0,179.0 488.0,179.6 489.0,180.3 490.0,180.9 491.0,181.5 492.0,182.1 493.0,182.7 494.0,183.3 495.0,183.9 496.0,184.4 497.0,184.8 498.0,185.3 499.0,185.8 500.0,186.3 501.0,186.7 502.0,187.2 503.0,187.6 504.0,188.1 505.0,188.5 505.0,0.0" fill="#ef7000"/>
<polygon points="308.0,0.0 308.0,40.3 309.0,41.1 310.0,42.0 311.0,42.9 312.0,43.8 313.0,44.7 314.0,45.6 315.0,46.5 316.0,47.3 317.0,48.2 318.0,49.0 319.0,49.8 320.0,50.6 321.0,51.4 322.0,52.2 323.0,53.0 324.0,53.8 325.0,54.7 326.0,55.5 327.0,56.3 328.0,57.2 329.0,58.0 330.0,58.9 331.0,59.9 332.0,60.9 333.0,61.9 334.0,62.9 335.0,64.0 336.0,65.1 337.0,66.1 338.0,67.3 339.0,68.4 340.0,69.5 341.0,70.6 342.0,71.7 343.0,72.8 344.0,73.9 345.0,74.9 346.0,76.0 347.0,77.0 348.0,77.9 349.0,78.9 350.0,79.8 351.0,80.7 352.0,81.7 353.0,82.6 354.0,83.4 355.0,84.3 356.0,85.2 357.0,86.1 358.0,86.9 359.0,87.8 360.0,88.6 361.0,89.5 362.0,90.3 363.0,91.2 364.0,92.0 365.0,92.8 366.0,93.7 367.0,94.5 368.0,95.3 369.0,96.1 370.0,96.9 371.0,97.7 372.0,98.5 373.0,99.3 374.0,100.1 375.0,100.9 376.0,101.7 377.0,102.4 378.0,103.2 379.0,104.0 380.0,104.8 381.0,105.5 382.0,106.3 383.0,107.0 384.0,107.8 385.0,108.6 386.0,109.3 387.0,110.1 388.0,110.9 389.0,111.6 390.0,112.4 391.0,113.2 392.0,113.9 393.0,114.7 394.0,115.4 395.0,116.2 396.0,117.0 397.0,117.7 398.0,118.5 399.0,119.3 400.0,120.0 401.0,120.8 402.0,121.5 403.0,122.3 404.0,123.0 405.0,123.7 406.0,124.5 407.0,125.2 408.0,125.9 409.0,126.7 410.0,127.4 411.0,128.1 412.0,128.8 413.0,129.6 414.0,130.3 415.0,131.0 416.0,131.7 417.0,132.4 418.0,133.2 419.0,133.9 420.0,134.6 421.0,135.3 422.0,136.0 423.0,136.7 424.0,137.4 425.0,138.1 426.0,138.8 427.0,139.4 428.0,140.1 429.0,140.8 430.0,141.5 431.0,142.2 432.0,142.9 433.0,143.6 434.0,144.3 435.0,145.1 436.0,145.8 437.0,146.6 438.0,147.3 439.0,148.0 440.0,148.8 441.0,149.5 442.0,150.2 443.0,150.9 444.0,151.6 445.0,152.3 446.0,153.0 447.0,153.6 448.0,154.3 449.0,154.9 450.0,155.5 451.0,156.0 452.0,156.6 453.0,157.2 454.0,157.7 455.0,158.3 456.0,158.8 457.0,159.3 458.0,159.9 459.0,160.4 460.0,160.9 461.0,161.5 462.0,162.2 463.0,162.8 464.0,163.3 465.0,163.9 466.0,164.4 467.0,165.0 468.0,165.6 469.0,166.2 470.0,166.8 471.0,167.4 472.0,168.1 473.0,168.7 474.0,169.4 475.0,170.1 476.0,170.8 477.0,171.5 478.0,172.2 479.0,172.9 480.0,173.6 481.0,174.2 482.0,174.9 483.0,175.6 484.0,176.3 485.0,176.9 486.0,177.6 487.0,178.2 488.0,178.8 489.0,179.4 490.0,180.0 491.0,180.6 492.0,181.2 493.0,181.8 494.0,182.3 495.0,182.9 496.0,183.5 497.0,184.0 498.0,184.6 499.0,185.2 500.0,185.7 501.0,186.3 502.0,186.8 503.0,187.4 504.0,188.0 505.0,188.5 506.0,189.0 507.0,189.4 508.0,189.8 509.0,190.2 509.0,0.0" fill="#cf5000"/>
<polygon points="308.0,0.0 308.0,39.0 309.0,40.0 310.0,40.9 311.0,41.8 312.0,42.7 313.0,43.7 314.0,44.6 315.0,45.5 316.0,46.3 317.0,47.2 318.0,48.1 319.0,48.9 320.0,49.8 321.0,50.6 322.0,51.4 323.0,52.3 324.0,53.1 325.0,54.0 326.0,54.8 327.0,55.7 328.0,56.6 329.0,57.4 330.0,58.4 331.0,59.3 332.0,60.3 333.0,61.3 334.0,62.3 335.0,63.4 336.0,64.5 337.0,65.6 338.0,66.7 339.0,67.8 340.0,68.9 341.0,70.0 342.0,71.1 343.0,72.2 344.0,73.3 345.0,74.3 346.0,75.3 347.0,76.3 348.0,77.3 349.0,78.3 350.0,79.2 351.0,80.1 352.0,81.0 353.0,81.9 354.0,82.8 355.0,83.7 356.0,84.6 357.0,85.4 358.0,86.3 359.0,87.1 360.0,88.0 361.0,88.8 362.0,89.7 363.0,90.5 364.0,91.3 365.0,92.1 366.0,93.0 367.0,93.8 368.0,94.6 369.0,95.4 370.0,96.2 371.0,97.0 372.0,97.8 373.0,98.6 374.0,99.4 375.0,100.2 376.0,100.9 377.0,101.7 378.0,102.5 379.0,103.3 380.0,104.0 381.0,104.8 382.0,105.6 383.0,106.3 384.0,107.1 385.0,107.8 386.0,108.6 387.0,109.4 388.0,110.1 389.0,110.9 390.0,111.6 391.0,112.4 392.0,113.2 393.0,113.9 394.0,114.7 395.0,115.5 396.0,116.2 397.0,117.0 398.0,117.7 399.0,118.5 400.0,119.2 401.0,120.0 402.0,120.7 403.0,121.5 404.0,122.2 405.0,123.0 406.0,123.7 407.0,124.4 408.0,125.1 409.0,125.9 410.0,126.6 411.0,127.3 412.0,128.0 413.0,128.8 414.0,129.5 415.0,130.2 416.0,130.9 417.0,131.6 418.0,132.4 419.0,133.1 420.0,133.8 421.0,134.5 422.0,135.2 423.0,135.9 424.0,136.6 425.0,137.3 426.0,138.0 427.0,138.7 428.0,139.4 429.0,140.0 430.0,140.7 431.0,141.4 432.0,142.1 433.0,142.9 434.0,143.6 435.0,144.4 436.0,145.1 437.0,145.9 438.0,146.6 439.0,147.4 440.0,148.1 441.0,148.8 442.0,149.6 443.0,150.3 444.0,151.0 445.0,151.7 446.0,152.4 447.0,153.0 448.0,153.7 449.0,154.3 450.0,154.9 451.0,155.5 452.0,156.1 453.0,156.7 454.0,157.2 455.0,157.8 456.0,158.3 457.0,158.9 458.0,159.4 459.0,160.0 460.0,160.5 461.0,161.1 462.0,161.6 463.0,162.2 464.0,162.7 465.0,163.3 466.0,163.8 467.0,164.4 468.0,165.0 469.0,165.6 470.0,166.2 471.0,166.8 472.0,167.5 473.0,168.1 474.0,168.8 475.0,169.5 476.0,170.1 477.0,170.8 478.0,171.5 479.0,172.2 480.0,172.9 481.0,173.6 482.0,174.2 483.0,174.9 484.0,175.5 485.0,176.2 486.0,176.8 487.0,177.4 488.0,178.0 489.0,178.6 490.0,179.2 491.0,179.7 492.0,180.3 493.0,180.8 494.0,181.4 495.0,181.9 496.0,182.5 497.0,183.0 498.0,183.5 499.0,184.0 500.0,184.5 501.0,185.0 502.0,185.5 503.0,186.0 504.0,186.5 505.0,187.0 506.0,187.5 507.0,187.9 508.0,188.4 509.0,188.8 509.0,0.0" fill="#af3000"/>
<polygon points="308.0,0.0 308.0,37.4 309.0,38.4 310.0,39.3 311.0,40.3 312.0,41.2 313.0,42.1 314.0,43.1 315.0,44.0 316.0,44.9 317.0,45.8 318.0,46.7 319.0,47.5 320.0,48.4 321.0,49.3 322.0,50.1 323.0,51.0 324.0,51.9 325.0,52.7 326.0,53.6 327.0,54.5 328.0,55.4 329.0,56.2 330.0,57.2 331.0,58.1 332.0,59.1 333.0,60.1 334.0,61.2 335.0,62.2 336.0,63.3 337.0,64.4 338.0,65.5 339.0,66.6 340.0,67.7 341.0,68.8 342.0,70.0 343.0,71.0 344.0,72.1 345.0,73.2 346.0,74.2 347.0,75.2 348.0,76.2 349.0,77.1 350.0,78.1 351.0,79.0 352.0,79.9 353.0,80.8 354.0,81.7 355.0,82.6 356.0,83.4 357.0,84.3 358.0,85.1 359.0,86.0 360.0,86.8 361.0,87.7 362.0,88.5 363.0,89.3 364.0,90.1 365.0,90.9 366.0,91.8 367.0,92.6 368.0,93.4 369.0,94.2 370.0,95.0 371.0,95.8 372.0,96.6 373.0,97.4 374.0,98.2 375.0,99.0 376.0,99.8 377.0,100.6 378.0,101.3 379.0,102.1 380.0,102.9 381.0,103.7 382.0,104.4 383.0,105.2 384.0,106.0 385.0,106.7 386.0,107.5 387.0,108.3 388.0,109.0 389.0,109.8 390.0,110.5 391.0,111.3 392.0,112.1 393.0,112.8 394.0,113.6 395.0,114.3 396.0,115.1 397.0,115.8 398.0,116.6 399.0,117.3 400.0,118.1 401.0,118.8 402.0,119.6 403.0,120.3 404.0,121.0 405.0,121.8 406.0,122.5 407.0,123.2 408.0,123.9 409.0,124.7 410.0,125.4 411.0,126.1 412.0,126.8 413.0,127.5 414.0,128.3 415.0,129.0 416.0,129.7 417.0,130.4 418.0,131.1 419.0,131.9 420.0,132.6 421.0,133.3 422.0,134.0 423.0,134.7 424.0,135.4 425.0,136.1 426.0,136.8 427.0,137.5 428.0,138.1 429.0,138.8 430.0,139.5 431.0,140.2 432.0,140.9 433.0,141.6 434.0,142.3 435.0,143.0 436.0,143.8 437.0,144.5 438.0,145.2 439.0,146.0 440.0,146.7 441.0,147.4 442.0,148.1 443.0,148.8 444.0,149.5 445.0,150.2 446.0,150.9 447.0,151.5 448.0,152.2 449.0,152.8 450.0,153.4 451.0,154.1 452.0,154.7 453.0,155.3 454.0,155.9 455.0,156.5 456.0,157.1 457.0,157.7 458.0,158.3 459.0,158.9 460.0,159.5 461.0,160.1 462.0,160.7 463.0,161.3 464.0,161.9 465.0,162.5 466.0,163.0 467.0,163.6 468.0,164.2 469.0,164.8 470.0,165.5 471.0,166.1 472.0,166.7 473.0,167.4 474.0,168.0 475.0,168.7 476.0,169.4 477.0,170.1 478.0,170.8 479.0,171.4 480.0,172.1 481.0,172.8 482.0,173.5 483.0,174.1 484.0,174.8 485.0,175.4 486.0,176.0 487.0,176.7 488.0,177.2 489.0,177.8 490.0,178.4 491.0,179.0 492.0,179.5 493.0,180.1 494.0,180.6 495.0,181.2 496.0,181.7 497.0,182.3 498.0,182.8 499.0,183.3 500.0,183.8 501.0,184.3 502.0,184.9 503.0,185.4 504.0,185.8 505.0,186.3 506.0,186.8 507.0,187.3 508.0,187.8 509.0,188.2 509.0,0.0" fill="#901000"/>
<polygon points="308.0,0.0 308.0,35.8 309.0,36.8 310.0,37.7 311.0,38.7 312.0,39.7 313.0,40.6 314.0,41.6 315.0,42.5 316.0,43.4 317.0,44.4 318.0,45.3 319.0,46.1 320.0,47.0 321.0,47.9 322.0,48.8 323.0,49.7 324.0,50.6 325.0,51.5 326.0,52.4 327.0,53.3 328.0,54.2 329.0,55.0 330.0,56.0 331.0,56.9 332.0,57.9 333.0,58.9 334.0,60.0 335.0,61.0 336.0,62.1 337.0,63.2 338.0,64.3 339.0,65.5 340.0,66.6 341.0,67.7 342.0,68.8 343.0,69.9 344.0,71.0 345.0,72.1 346.0,73.1 347.0,74.1 348.0,75.1 349.0,76.0 350.0,77.0 351.0,77.9 352.0,78.8 353.0,79.7 354.0,80.5 355.0,81.4 356.0,82.3 357.0,83.1 358.0,84.0 359.0,84.8 360.0,85.7 361.0,86.5 362.0,87.3 363.0,88.1 364.0,88.9 365.0,89.8 366.0,90.6 367.0,91.4 368.0,92.2 369.0,93.0 370.0,93.8 371.0,94.6 372.0,95.4 373.0,96.2 374.0,97.0 375.0,97.8 376.0,98.6 377.0,99.4 378.0,100.2 379.0,101.0 380.0,101.8 381.0,102.5 382.0,103.3 383.0,104.1 384.0,104.9 385.0,105.6 386.0,106.4 387.0,107.2 388.0,107.9 389.0,108.7 390.0,109.4 391.0,110.2 392.0,110.9 393.0,111.7 394.0,112.4 395.0,113.2 396.0,113.9 397.0,114.7 398.0,115.4 399.0,116.2 400.0,116.9 401.0,117.7 402.0,118.4 403.0,119.1 404.0,119.9 405.0,120.6 406.0,121.3 407.0,122.0 408.0,122.7 409.0,123.5 410.0,124.2 411.0,124.9 412.0,125.6 413.0,126.3 414.0,127.0 415.0,127.8 416.0,128.5 417.0,129.2 418.0,129.9 419.0,130.7 420.0,131.4 421.0,132.1 422.0,132.8 423.0,133.5 424.0,134.2 425.0,134.9 426.0,135.6 427.0,136.3 428.0,136.9 429.0,137.6 430.0,138.3 431.0,139.0 432.0,139.6 433.0,140.3 434.0,141.0 435.0,141.7 436.0,142.4 437.0,143.1 438.0,143.9 439.0,144.6 440.0,145.3 441.0,146.0 442.0,146.7 443.0,147.3 444.0,148.0 445.0,148.7 446.0,149.4 447.0,150.0 448.0,150.7 449.0,151.3 450.0,152.0 451.0,152.6 452.0,153.2 453.0,153.9 454.0,154.5 455.0,155.2 456.0,155.8 457.0,156.5 458.0,157.1 459.0,157.8 460.0,158.4 461.0,159.1 462.0,159.7 463.0,160.4 464.0,161.0 465.0,161.6 466.0,162.3 467.0,162.9 468.0,163.5 469.0,164.1 470.0,164.7 471.0,165.3 472.0,166.0 473.0,166.6 474.0,167.3 475.0,168.0 476.0,168.6 477.0,169.3 478.0,170.0 479.0,170.7 480.0,171.4 481.0,172.0 482.0,172.7 483.0,173.4 484.0,174.0 485.0,174.7 486.0,175.3 487.0,175.9 488.0,176.5 489.0,177.1 490.0,177.6 491.0,178.2 492.0,178.8 493.0,179.3 494.0,179.9 495.0,180.5 496.0,181.0 497.0,181.5 498.0,182.1 499.0,182.6 500.0,183.1 501.0,183.7 502.0,184.2 503.0,184.7 504.0,185.2 505.0,185.7 506.0,186.2 507.0,186.6 508.0,187.1 509.0,187.6 509.0,0.0" fill="#700000"/>
<polygon points="308.0,0.0 308.0,34.2 309.0,35.2 310.0,36.2 311.0,37.2 312.0,38.1 313.0,39.1 314.0,40.1 315.0,41.0 316.0,42.0 317.0,42.9 318.0,43.8 319.0,44.8 320.0,45.7 321.0,46.6 322.0,47.5 323.0,48.4 324.0,49.4 325.0,50.3 326.0,51.2 327.0,52.1 328.0,53.0 329.0,53.8 330.0,54.8 331.0,55.7 332.0,56.7 333.0,57.7 334.0,58.8 335.0,59.9 336.0,61.0 337.0,62.1 338.0,63.2 339.0,64.3 340.0,65.4 341.0,66.6 342.0,67.7 343.0,68.8 344.0,69.9 345.0,70.9 346.0,72.0 347.0,73.0 348.0,74.0 349.0,74.9 350.0,75.8 351.0,76.7 352.0,77.6 353.0,78.5 354.0,79.4 355.0,80.3 356.0,81.1 357.0,82.0 358.0,82.8 359.0,83.7 360.0,84.5 361.0,85.3 362.0,86.1 363.0,86.9 364.0,87.8 365.0,88.6 366.0,89.4 367.0,90.2 368.0,91.0 369.0,91.8 370.0,92.6 371.0,93.4 372.0,94.2 373.0,95.0 374.0,95.8 375.0,96.6 376.0,97.5 377.0,98.3 378.0,99.0 379.0,99.8 380.0,100.6 381.0,101.4 382.0,102.2 383.0,103.0 384.0,103.8 385.0,104.5 386.0,105.3 387.0,106.1 388.0,106.8 389.0,107.6 390.0,108.3 391.0,109.1 392.0,109.8 393.0,110.6 394.0,111.3 395.0,112.1 396.0,112.8 397.0,113.6 398.0,114.3 399.0,115.0 400.0,115.8 401.0,116.5 402.0,117.2 403.0,118.0 404.0,118.7 405.0,119.4 406.0,120.1 407.0,120.8 408.0,121.5 409.0,122.3 410.0,123.0 411.0,123.7 412.0,124.4 413.0,125.1 414.0,125.8 415.0,126.6 416.0,127.3 417.0,128.0 418.0,128.7 419.0,129.4 420.0,130.2 421.0,130.9 422.0,131.6 423.0,132.3 424.0,133.0 425.0,133.7 426.0,134.4 427.0,135.0 428.0,135.7 429.0,136.4 430.0,137.0 431.0,137.7 432.0,138.4 433.0,139.1 434.0,139.7 435.0,140.4 436.0,141.1 437.0,141.8 438.0,142.5 439.0,143.2 440.0,143.8 441.0,144.5 442.0,145.2 443.0,145.9 444.0,146.5 445.0,147.2 446.0,147.9 447.0,148.5 448.0,149.2 449.0,149.8 450.0,150.5 451.0,151.1 452.0,151.8 453.0,152.5 454.0,153.2 455.0,153.9 456.0,154.6 457.0,155.3 458.0,156.0 459.0,156.7 460.0,157.4 461.0,158.1 462.0,158.8 463.0,159.5 464.0,160.1 465.0,160.8 466.0,161.5 467.0,162.1 468.0,162.7 469.0,163.3 470.0,163.9 471.0,164.6 472.0,165.2 473.0,165.9 474.0,166.5 475.0,167.2 476.0,167.9 477.0,168.6 478.0,169.2 479.0,169.9 480.0,170.6 481.0,171.3 482.0,171.9 483.0,172.6 484.0,173.2 485.0,173.9 486.0,174.5 487.0,175.1 488.0,175.7 489.0,176.3 490.0,176.9 491.0,177.5 492.0,178.0 493.0,178.6 494.0,179.2 495.0,179.7 496.0,180.3 497.0,180.8 498.0,181.4 499.0,181.9 500.0,182.4 501.0,183.0 502.0,183.5 503.0,184.0 504.0,184.5 505.0,185.0 506.0,185.5 507.0,186.0 508.0,186.5 509.0,187.0 509.0,0.0" fill="#500000"/>
<polygon points="308.0,0.0 308.0,32.6 309.0,33.6 310.0,34.6 311.0,35.6 312.0,36.6 313.0,37.6 314.0,38.6 315.0,39.6 316.0,40.5 317.0,41.5 318.0,42.4 319.0,43.4 320.0,44.3 321.0,45.3 322.0,46.2 323.0,47.2 324.0,48.1 325.0,49.0 326.0,50.0 327.0,50.9 328.0,51.8 329.0,52.6 330.0,53.6 331.0,54.5 332.0,55.5 333.0,56.5 334.0,57.6 335.0,58.7 336.0,59.8 337.0,60.9 338.0,62.0 339.0,63.1 340.0,64.3 341.0,65.4 342.0,66.5 343.0,67.6 344.0,68.7 345.0,69.8 346.0,70.8 347.0,71.9 348.0,72.8 349.0,73.8 350.0,74.7 351.0,75.6 352.0,76.5 353.0,77.4 354.0,78.3 355.0,79.1 356.0,80.0 357.0,80.8 358.0,81.7 359.0,82.5 360.0,83.3 361.0,84.1 362.0,85.0 363.0,85.8 364.0,86.6 365.0,87.4 366.0,88.2 367.0,89.0 368.0,89.8 369.0,90.6 370.0,91.4 371.0,92.2 372.0,93.0 373.0,93.9 374.0,94.7 375.0,95.5 376.0,96.3 377.0,97.1 378.0,97.9 379.0,98.7 380.0,99.5 381.0,100.3 382.0,101.1 383.0,101.9 384.0,102.7 385.0,103.4 386.0,104.2 387.0,105.0 388.0,105.7 389.0,106.5 390.0,107.2 391.0,108.0 392.0,108.7 393.0,109.5 394.0,110.2 395.0,110.9 396.0,111.7 397.0,112.4 398.0,113.2 399.0,113.9 400.0,114.6 401.0,115.3 402.0,116.1 403.0,116.8 404.0,117.5 405.0,118.2 406.0,118.9 407.0,119.6 408.0,120.3 409.0,121.1 410.0,121.8 411.0,122.5 412.0,123.2 413.0,123.9 414.0,124.6 415.0,125.3 416.0,126.1 417.0,126.8 418.0,127.5 419.0,128.2 420.0,128.9 421.0,129.7 422.0,130.4 423.0,131.1 424.0,131.8 425.0,132.5 426.0,133.1 427.0,133.8 428.0,134.5 429.0,135.2 430.0,135.8 431.0,136.5 432.0,137.1 433.0,137.8 434.0,138.5 435.0,139.1 436.0,139.8 437.0,140.4 438.0,141.1 439.0,141.8 440.0,142.4 441.0,143.1 442.0,143.7 443.0,144.4 444.0,145.1 445.0,145.7 446.0,146.4 447.0,147.0 448.0,147.7 449.0,148.3 450.0,149.0 451.0,149.7 452.0,150.4 453.0,151.1 454.0,151.9 455.0,152.6 456.0,153.3 457.0,154.1 458.0,154.9 459.0,155.6 460.0,156.4 461.0,157.1 462.0,157.8 463.0,158.6 464.0,159.3 465.0,160.0 466.0,160.7 467.0,161.3 468.0,162.0 469.0,162.6 470.0,163.2 471.0,163.8 472.0,164.5 473.0,165.1 474.0,165.8 475.0,166.5 476.0,167.1 477.0,167.8 478.0,168.5 479.0,169.2 480.0,169.8 481.0,170.5 482.0,171.2 483.0,171.8 484.0,172.5 485.0,173.1 486.0,173.8 487.0,174.4 488.0,175.0 489.0,175.6 490.0,176.1 491.0,176.7 492.0,177.3 493.0,177.9 494.0,178.4 495.0,179.0 496.0,179.5 497.0,180.1 498.0,180.7 499.0,181.2 500.0,181.7 501.0,182.3 502.0,182.8 503.0,183.3 504.0,183.9 505.0,184.4 506.0,184.9 507.0,185.4 508.0,185.9 509.0,186.4 509.0,0.0" fill="#300000"/>
<polygon points="308.0,0.0 308.0,31.0 309.0,32.0 310.0,33.0 311.0,34.1 312.0,35.1 313.0,36.1 314.0,37.1 315.0,38.1 316.0,39.1 317.0,40.1 318.0,41.0 319.0,42.0 320.0,42.9 321.0,43.9 322.0,44.9 323.0,45.9 324.0,46.8 325.0,47.8 326.0,48.7 327.0,49.7 328.0,50.6 329.0,51.4 330.0,52.4 331.0,53.3 332.0,54.3 333.0,55.3 334.0,56.4 335.0,57.5 336.0,58.6 337.0,59.7 338.0,60.9 339.0,62.0 340.0,63.1 341.0,64.3 342.0,65.4 343.0,66.5 344.0,67.6 345.0,68.7 346.0,69.7 347.0,70.7 348.0,71.7 349.0,72.7 350.0,73.6 351.0,74.5 352.0,75.4 353.0,76.3 354.0,77.1 355.0,78.0 356.0,78.8 357.0,79.7 358.0,80.5 359.0,81.3 360.0,82.2 361.0,83.0 362.0,83.8 363.0,84.6 364.0,85.4 365.0,86.2 366.0,87.0 367.0,87.8 368.0,88.6 369.0,89.4 370.0,90.2 371.0,91.0 372.0,91.8 373.0,92.7 374.0,93.5 375.0,94.3 376.0,95.1 377.0,95.9 378.0,96.7 379.0,97.6 380.0,98.4 381.0,99.2 382.0,100.0 383.0,100.8 384.0,101.5 385.0,102.3 386.0,103.1 387.0,103.9 388.0,104.6 389.0,105.4 390.0,106.1 391.0,106.9 392.0,107.6 393.0,108.3 394.0,109.1 395.0,109.8 396.0,110.5 397.0,111.3 398.0,112.0 399.0,112.7 400.0,113.5 401.0,114.2 402.0,114.9 403.0,115.6 404.0,116.3 405.0,117.0 406.0,117.7 407.0,118.4 408.0,119.2 409.0,119.8 410.0,120.6 411.0,121.3 412.0,122.0 413.0,122.7 414.0,123.4 415.0,124.1 416.0,124.8 417.0,125.6 418.0,126.3 419.0,127.0 420.0,127.7 421.0,128.4 422.0,129.1 423.0,129.8 424.0,130.5 425.0,131.2 426.0,131.9 427.0,132.6 428.0,133.3 429.0,133.9 430.0,134.6 431.0,135.2 432.0,135.9 433.0,136.5 434.0,137.2 435.0,137.8 436.0,138.5 437.0,139.1 438.0,139.7 439.0,140.4 440.0,141.0 441.0,141.6 442.0,142.3 443.0,142.9 444.0,143.6 445.0,144.2 446.0,144.9 447.0,145.5 448.0,146.2 449.0,146.8 450.0,147.5 451.0,148.2 452.0,149.0 453.0,149.7 454.0,150.5 455.0,151.3 456.0,152.1 457.0,152.9 458.0,153.7 459.0,154.5 460.0,155.3 461.0,156.1 462.0,156.9 463.0,157.7 464.0,158.4 465.0,159.2 466.0,159.9 467.0,160.5 468.0,161.2 469.0,161.8 470.0,162.4 471.0,163.1 472.0,163.7 473.0,164.4 474.0,165.0 475.0,165.7 476.0,166.4 477.0,167.1 478.0,167.7 479.0,168.4 480.0,169.1 481.0,169.7 482.0,170.4 483.0,171.1 484.0,171.7 485.0,172.4 486.0,173.0 487.0,173.6 488.0,174.2 489.0,174.8 490.0,175.4 491.0,176.0 492.0,176.5 493.0,177.1 494.0,177.7 495.0,178.3 496.0,178.8 497.0,179.4 498.0,179.9 499.0,180.5 500.0,181.0 501.0,181.6 502.0,182.1 503.0,182.7 504.0,183.2 505.0,183.7 506.0,184.2 507.0,184.7 508.0,185.2 509.0,185.7 509.0,0.0" fill="#100000"/>
<polyline points="308.0,205.0 309.0,205.0 310.0,205.1 311.0,205.1 312.0,205.1 313.0,205.1 314.0,205.1 315.0,205.1 316.0,205.1 317.0,205.1 318.0,205.0 319.0,205.0 320.0,204.9 321.0,204.8 322.0,204.8 323.0,204.7 324.0,204.5 325.0,204.4 326.0,204.3 327.0,204.2 328.0,204.1 329.0,203.9 330.0,203.8 331.0,203.7 332.0,203.5 333.0,203.4 334.0,203.3 335.0,203.1 336.0,202.9 337.0,202.8 338.0,202.6 339.0,202.5 340.0,202.3 341.0,202.1 342.0,202.0 343.0,201.8 344.0,201.7 345.0,201.5 346.0,201.4 347.0,201.2 348.0,201.1 349.0,200.9 350.0,200.8 351.0,200.7 352.0,200.5 353.0,200.4 354.0,200.3 355.0,200.1 356.0,200.0 357.0,199.9 358.0,199.8 359.0,199.6 360.0,199.5 361.0,199.4 362.0,199.3 363.0,199.2 364.0,199.0 365.0,198.9 366.0,198.8 367.0,198.7 368.0,198.6 369.0,198.4 370.0,198.3 371.0,198.2 372.0,198.1 373.0,197.9 374.0,197.8 375.0,197.7 376.0,197.5 377.0,197.4 378.0,197.3 379.0,197.1 380.0,197.0 381.0,196.9 382.0,196.8 383.0,196.7 384.0,196.6 385.0,196.5 386.0,196.4 387.0,196.3 388.0,196.2 389.0,196.2 390.0,196.1 391.0,196.1 392.0,196.0 393.0,196.0 394.0,196.0 395.0,196.0 396.0,195.9 397.0,195.9 398.0,195.9 399.0,195.9 400.0,195.9 401.0,195.9 402.0,195.9 403.0,195.9 404.0,195.9 405.0,195.9 406.0,196.0 407.0,196.0 408.0,196.0 409.0,196.0 410.0,196.0 411.0,196.1 412.0,196.1 413.0,196.2 414.0,196.2 415.0,196.2 416.0,196.3 417.0,196.4 418.0,196.4 419.0,196.5 420.0,196.5 421.0,196.6 422.0,196.6 423.0,196.7 424.0,196.7 425.0,196.7 426.0,196.8 427.0,196.8 428.0,196.8 429.0,196.8 430.0,196.8 431.0,196.8 432.0,196.8 433.0,196.8 434.0,196.7 435.0,196.7 436.0,196.7 437.0,196.7 438.0,196.6 439.0,196.6 440.0,196.6 441.0,196.5 442.0,196.5 443.0,196.5 444.0,196.4 445.0,196.4 446.0,196.4 447.0,196.3 448.0,196.3 449.0,196.3 450.0,196.3 451.0,196.2 452.0,196.2 453.0,196.2 454.0,196.2 455.0,196.1 456.0,196.1 457.0,196.1 458.0,196.1 459.0,196.0 460.0,196.0 461.0,196.0 462.0,196.0 463.0,195.9 464.0,195.9 465.0,195.9 466.0,195.9 467.0,195.8 468.0,195.8 469.0,195.8 470.0,195.8 471.0,195.7 472.0,195.7 473.0,195.7 474.0,195.6 475.0,195.6 476.0,195.6 477.0,195.5 478.0,195.5 479.0,195.5 480.0,195.4 481.0,195.4 482.0,195.4 483.0,195.4 484.0,195.4 485.0,195.4 486.0,195.4 487.0,195.4 488.0,195.5 489.0,195.5 490.0,195.6 491.0,195.6 492.0,195.7 493.0,195.7 494.0,195.8 495.0,195.8 496.0,195.9 497.0,196.0 498.0,196.0 499.0,196.1 500.0,196.2 501.0,196.3 502.0,196.3 503.0,196.4 504.0,196.5 505.0,196.6 506.0,196.7 507.0,196.8 508.0,196.9 509.0,197.1" fill="none" stroke="#1a0800" stroke-opacity="0.6" stroke-width="0.38"/>
<polyline points="308.0,192.0 309.0,192.0 310.0,192.0 311.0,192.0 312.0,192.0 313.0,192.0 314.0,192.0 315.0,192.0 316.0,192.0 317.0,192.0 318.0,192.0 319.0,192.0 320.0,192.0 321.0,192.0 322.0,192.0 323.0,192.0 324.0,192.0 325.0,192.0 326.0,192.0 327.0,192.0 328.0,192.0 329.0,192.0 330.0,192.0 331.0,192.0 332.0,192.0 333.0,192.0 334.0,192.0 335.0,192.0 336.0,191.9 337.0,191.9 338.0,191.9 339.0,191.9 340.0,191.9 341.0,191.9 342.0,191.8 343.0,191.8 344.0,191.8 345.0,191.7 346.0,191.7 347.0,191.6 348.0,191.5 349.0,191.5 350.0,191.4 351.0,191.3 352.0,191.2 353.0,191.1 354.0,191.0 355.0,190.9 356.0,190.8 357.0,190.7 358.0,190.6 359.0,190.5 360.0,190.3 361.0,190.2 362.0,190.1 363.0,190.0 364.0,189.9 365.0,189.8 366.0,189.7 367.0,189.6 368.0,189.5 369.0,189.5 370.0,189.4 371.0,189.3 372.0,189.2 373.0,189.1 374.0,189.1 375.0,189.0 376.0,188.9 377.0,188.8 378.0,188.8 379.0,188.7 380.0,188.6 381.0,188.6 382.0,188.5 383.0,188.5 384.0,188.4 385.0,188.4 386.0,188.4 387.0,188.3 388.0,188.3 389.0,188.3 390.0,188.3 391.0,188.3 392.0,188.3 393.0,188.3 394.0,188.3 395.0,188.3 396.0,188.3 397.0,188.4 398.0,188.4 399.0,188.4 400.0,188.5 401.0,188.5 402.0,188.5 403.0,188.6 404.0,188.6 405.0,188.6 406.0,188.7 407.0,188.7 408.0,188.8 409.0,188.8 410.0,188.9 411.0,188.9 412.0,189.0 413.0,189.1 414.0,189.2 415.0,189.2 416.0,189.3 417.0,189.4 418.0,189.5 419.0,189.6 420.0,189.7 421.0,189.7 422.0,189.8 423.0,189.9 424.0,189.9 425.0,190.0 426.0,190.0 427.0,190.0 428.0,190.0 429.0,190.0 430.0,190.0 431.0,189.9 432.0,189.9 433.0,189.8 434.0,189.8 435.0,189.7 436.0,189.6 437.0,189.5 438.0,189.4 439.0,189.3 440.0,189.2 441.0,189.1 442.0,189.0 443.0,188.9 444.0,188.8 445.0,188.8 446.0,188.7 447.0,188.6 448.0,188.5 449.0,188.5 450.0,188.4 451.0,188.3 452.0,188.2 453.0,188.2 454.0,188.1 455.0,188.0 456.0,187.9 457.0,187.8 458.0,187.8 459.0,187.7 460.0,187.6 461.0,187.6 462.0,187.5 463.0,187.5 464.0,187.5 465.0,187.4 466.0,187.4 467.0,187.4 468.0,187.5 469.0,187.5 470.0,187.6 471.0,187.7 472.0,187.8 473.0,187.9 474.0,188.0 475.0,188.2 476.0,188.3 477.0,188.5 478.0,188.6 479.0,188.8 480.0,189.0 481.0,189.2 482.0,189.4 483.0,189.6 484.0,189.7 485.0,189.9 486.0,190.1 487.0,190.3 488.0,190.4 489.0,190.6 490.0,190.7 491.0,190.9 492.0,191.0 493.0,191.2 494.0,191.3 495.0,191.5 496.0,191.6 497.0,191.8 498.0,191.9 499.0,192.1 500.0,192.2 501.0,192.4 502.0,192.5 503.0,192.7 504.0,192.8 505.0,193.0 506.0,193.1 507.0,193.3 508.0,193.4 509.0,193.6" fill="none" stroke="#1a0800" stroke-opacity="0.6" stroke-width="0.38"/>
<polyline points="308.0,180.0 309.0,180.0 310.0,180.0 311.0,180.1 312.0,180.1 313.0,180.2 314.0,180.2 315.0,180.3 316.0,180.3 317.0,180.4 318.0,180.5 319.0,180.5 320.0,180.6 321.0,180.7 322.0,180.8 323.0,180.9 324.0,181.0 325.0,181.1 326.0,181.2 327.0,181.3 328.0,181.4 329.0,181.6 330.0,181.7 331.0,181.8 332.0,181.9 333.0,182.1 334.0,182.2 335.0,182.4 336.0,182.5 337.0,182.6 338.0,182.8 339.0,182.9 340.0,183.1 341.0,183.2 342.0,183.3 343.0,183.5 344.0,183.6 345.0,183.7 346.0,183.8 347.0,183.9 348.0,184.0 349.0,184.0 350.0,184.1 351.0,184.1 352.0,184.2 353.0,184.3 354.0,184.3 355.0,184.3 356.0,184.4 357.0,184.4 358.0,184.4 359.0,184.5 360.0,184.5 361.0,184.5 362.0,184.5 363.0,184.5 364.0,184.5 365.0,184.5 366.0,184.5 367.0,184.5 368.0,184.5 369.0,184.5 370.0,184.5 371.0,184.4 372.0,184.4 373.0,184.3 374.0,184.3 375.0,184.2 376.0,184.1 377.0,184.1 378.0,184.0 379.0,183.9 380.0,183.8 381.0,183.8 382.0,183.7 383.0,183.7 384.0,183.6 385.0,183.6 386.0,183.5 387.0,183.5 388.0,183.5 389.0,183.5 390.0,183.5 391.0,183.5 392.0,183.6 393.0,183.6 394.0,183.7 395.0,183.7 396.0,183.8 397.0,183.9 398.0,183.9 399.0,184.0 400.0,184.1 401.0,184.1 402.0,184.2 403.0,184.3 404.0,184.3 405.0,184.4 406.0,184.4 407.0,184.5 408.0,184.5 409.0,184.5 410.0,184.5 411.0,184.6 412.0,184.6 413.0,184.6 414.0,184.6 415.0,184.6 416.0,184.6 417.0,184.7 418.0,184.7 419.0,184.7 420.0,184.7 421.0,184.7 422.0,184.7 423.0,184.6 424.0,184.6 425.0,184.6 426.0,184.6 427.0,184.6 428.0,184.5 429.0,184.5 430.0,184.4 431.0,184.4 432.0,184.3 433.0,184.2 434.0,184.2 435.0,184.1 436.0,184.0 437.0,183.9 438.0,183.8 439.0,183.7 440.0,183.6 441.0,183.5 442.0,183.4 443.0,183.4 444.0,183.3 445.0,183.2 446.0,183.1 447.0,183.1 448.0,183.0 449.0,183.0 450.0,182.9 451.0,182.9 452.0,182.8 453.0,182.8 454.0,182.7 455.0,182.7 456.0,182.6 457.0,182.6 458.0,182.5 459.0,182.5 460.0,182.4 461.0,182.4 462.0,182.4 463.0,182.4 464.0,182.4 465.0,182.4 466.0,182.4 467.0,182.4 468.0,182.5 469.0,182.5 470.0,182.6 471.0,182.7 472.0,182.7 473.0,182.8 474.0,182.9 475.0,183.0 476.0,183.1 477.0,183.2 478.0,183.3 479.0,183.4 480.0,183.6 481.0,183.7 482.0,183.9 483.0,184.1 484.0,184.3 485.0,184.6 486.0,184.8 487.0,185.1 488.0,185.3 489.0,185.7 490.0,186.0 491.0,186.3 492.0,186.6 493.0,186.9 494.0,187.1 495.0,187.4 496.0,187.7 497.0,188.0 498.0,188.3 499.0,188.7 500.0,189.0 501.0,189.3 502.0,189.6 503.0,190.0 504.0,190.3 505.0,190.7 506.0,191.0 507.0,191.4 508.0,191.8 509.0,192.2" fill="none" stroke="#1a0800" stroke-opacity="0.6" stroke-width="0.38"/>
<polyline points="308.0,168.5 309.0,168.5 310.0,168.6 311.0,168.6 312.0,168.7 313.0,168.7 314.0,168.8 315.0,168.8 316.0,168.9 317.0,168.9 318.0,169.0 319.0,169.0 320.0,169.1 321.0,169.1 322.0,169.2 323.0,169.2 324.0,169.3 325.0,169.3 326.0,169.4 327.0,169.4 328.0,169.5 329.0,169.5 330.0,169.6 331.0,169.7 332.0,169.7 333.0,169.8 334.0,169.9 335.0,169.9 336.0,170.0 337.0,170.1 338.0,170.2 339.0,170.2 340.0,170.3 341.0,170.4 342.0,170.5 343.0,170.6 344.0,170.6 345.0,170.7 346.0,170.8 347.0,170.9 348.0,171.0 349.0,171.0 350.0,171.1 351.0,171.2 352.0,171.3 353.0,171.4 354.0,171.4 355.0,171.5 356.0,171.6 357.0,171.7 358.0,171.8 359.0,171.8 360.0,171.9 361.0,172.0 362.0,172.1 363.0,172.1 364.0,172.2 365.0,172.3 366.0,172.3 367.0,172.4 368.0,172.5 369.0,172.5 370.0,172.6 371.0,172.6 372.0,172.7 373.0,172.8 374.0,172.8 375.0,172.9 376.0,172.9 377.0,173.0 378.0,173.1 379.0,173.1 380.0,173.2 381.0,173.2 382.0,173.2 383.0,173.3 384.0,173.3 385.0,173.3 386.0,173.4 387.0,173.4 388.0,173.4 389.0,173.4 390.0,173.4 391.0,173.4 392.0,173.4 393.0,173.4 394.0,173.3 395.0,173.3 396.0,173.3 397.0,173.3 398.0,173.2 399.0,173.2 400.0,173.1 401.0,173.1 402.0,173.0 403.0,173.0 404.0,173.0 405.0,172.9 406.0,172.9 407.0,172.8 408.0,172.8 409.0,172.8 410.0,172.8 411.0,172.7 412.0,172.7 413.0,172.6 414.0,172.6 415.0,172.6 416.0,172.5 417.0,172.5 418.0,172.5 419.0,172.4 420.0,172.4 421.0,172.4 422.0,172.3 423.0,172.3 424.0,172.3 425.0,172.2 426.0,172.2 427.0,172.2 428.0,172.2 429.0,172.2 430.0,172.2 431.0,172.2 432.0,172.1 433.0,172.1 434.0,172.0 435.0,172.0 436.0,172.0 437.0,171.9 438.0,171.9 439.0,171.9 440.0,171.8 441.0,171.8 442.0,171.8 443.0,171.9 444.0,171.9 445.0,172.0 446.0,172.1 447.0,172.2 448.0,172.3 449.0,172.5 450.0,172.7 451.0,172.8 452.0,173.0 453.0,173.2 454.0,173.4 455.0,173.7 456.0,173.9 457.0,174.1 458.0,174.3 459.0,174.6 460.0,174.8 461.0,175.0 462.0,175.3 463.0,175.5 464.0,175.8 465.0,176.1 466.0,176.3 467.0,176.6 468.0,176.9 469.0,177.1 470.0,177.4 471.0,177.7 472.0,178.0 473.0,178.2 474.0,178.5 475.0,178.8 476.0,179.1 477.0,179.4 478.0,179.7 479.0,180.0 480.0,180.4 481.0,180.7 482.0,181.0 483.0,181.4 484.0,181.8 485.0,182.1 486.0,182.5 487.0,182.9 488.0,183.3 489.0,183.7 490.0,184.1 491.0,184.5 492.0,184.9 493.0,185.3 494.0,185.7 495.0,186.1 496.0,186.5 497.0,186.9 498.0,187.3 499.0,187.7 500.0,188.1 501.0,188.5 502.0,188.9 503.0,189.3 504.0,189.7 505.0,190.1 506.0,190.5 507.0,190.9 508.0,191.3 509.0,191.7" fill="none" stroke="#1a0800" stroke-opacity="0.6" stroke-width="0.38"/>
<polyline points="308.0,146.4 309.0,146.6 310.0,146.8 311.0,147.0 312.0,147.2 313.0,147.4 314.0,147.7 315.0,148.0 316.0,148.2 317.0,148.5 318.0,148.8 319.0,149.2 320.0,149.5 321.0,149.9 322.0,150.3 323.0,150.7 324.0,151.1 325.0,151.5 326.0,151.9 327.0,152.4 328.0,152.8 329.0,153.2 330.0,153.6 331.0,154.0 332.0,154.4 333.0,154.8 334.0,155.2 335.0,155.6 336.0,156.0 337.0,156.4 338.0,156.7 339.0,157.1 340.0,157.4 341.0,157.8 342.0,158.1 343.0,158.4 344.0,158.8 345.0,159.1 346.0,159.3 347.0,159.6 348.0,159.9 349.0,160.1 350.0,160.4 351.0,160.6 352.0,160.8 353.0,161.1 354.0,161.3 355.0,161.5 356.0,161.7 357.0,161.9 358.0,162.1 359.0,162.2 360.0,162.4 361.0,162.6 362.0,162.7 363.0,162.9 364.0,163.0 365.0,163.1 366.0,163.2 367.0,163.4 368.0,163.5 369.0,163.5 370.0,163.6 371.0,163.7 372.0,163.7 373.0,163.8 374.0,163.8 375.0,163.8 376.0,163.8 377.0,163.8 378.0,163.8 379.0,163.8 380.0,163.8 381.0,163.7 382.0,163.7 383.0,163.7 384.0,163.6 385.0,163.6 386.0,163.6 387.0,163.5 388.0,163.5 389.0,163.5 390.0,163.5 391.0,163.4 392.0,163.4 393.0,163.3 394.0,163.2 395.0,163.2 396.0,163.1 397.0,163.1 398.0,163.0 399.0,162.9 400.0,162.9 401.0,162.8 402.0,162.7 403.0,162.7 404.0,162.6 405.0,162.6 406.0,162.5 407.0,162.5 408.0,162.5 409.0,162.5 410.0,162.5 411.0,162.5 412.0,162.4 413.0,162.4 414.0,162.4 415.0,162.4 416.0,162.4 417.0,162.4 418.0,162.4 419.0,162.4 420.0,162.4 421.0,162.4 422.0,162.4 423.0,162.5 424.0,162.5 425.0,162.6 426.0,162.7 427.0,162.8 428.0,162.9 429.0,163.1 430.0,163.2 431.0,163.4 432.0,163.5 433.0,163.7 434.0,163.9 435.0,164.0 436.0,164.2 437.0,164.4 438.0,164.5 439.0,164.7 440.0,164.9 441.0,165.1 442.0,165.3 443.0,165.6 444.0,165.8 445.0,166.1 446.0,166.3 447.0,166.6 448.0,166.9 449.0,167.1 450.0,167.4 451.0,167.7 452.0,168.0 453.0,168.3 454.0,168.6 455.0,168.9 456.0,169.2 457.0,169.5 458.0,169.9 459.0,170.2 460.0,170.5 461.0,170.8 462.0,171.2 463.0,171.5 464.0,171.8 465.0,172.2 466.0,172.6 467.0,172.9 468.0,173.3 469.0,173.7 470.0,174.1 471.0,174.5 472.0,174.9 473.0,175.4 474.0,175.8 475.0,176.3 476.0,176.8 477.0,177.2 478.0,177.7 479.0,178.2 480.0,178.7 481.0,179.2 482.0,179.6 483.0,180.1 484.0,180.6 485.0,181.1 486.0,181.6 487.0,182.0 488.0,182.5 489.0,182.9 490.0,183.4 491.0,183.8 492.0,184.2 493.0,184.7 494.0,185.1 495.0,185.5 496.0,185.9 497.0,186.4 498.0,186.8 499.0,187.2 500.0,187.6 501.0,188.0 502.0,188.4 503.0,188.8 504.0,189.2 505.0,189.6 506.0,190.0 507.0,190.4 508.0,190.8 509.0,191.2" fill="none" stroke="#1a0800" stroke-opacity="0.6" stroke-width="0.38"/>
<polyline points="308.0,133.9 309.0,134.1 310.0,134.2 311.0,134.3 312.0,134.5 313.0,134.6 314.0,134.8 315.0,135.0 316.0,135.2 317.0,135.4 318.0,135.7 319.0,135.9 320.0,136.2 321.0,136.5 322.0,136.8 323.0,137.1 324.0,137.4 325.0,137.8 326.0,138.1 327.0,138.5 328.0,138.8 329.0,139.2 330.0,139.5 331.0,139.9 332.0,140.3 333.0,140.6 334.0,141.0 335.0,141.4 336.0,141.8 337.0,142.2 338.0,142.5 339.0,142.9 340.0,143.3 341.0,143.6 342.0,144.0 343.0,144.3 344.0,144.7 345.0,145.0 346.0,145.3 347.0,145.6 348.0,145.9 349.0,146.1 350.0,146.4 351.0,146.6 352.0,146.8 353.0,147.1 354.0,147.3 355.0,147.5 356.0,147.7 357.0,147.9 358.0,148.1 359.0,148.2 360.0,148.4 361.0,148.6 362.0,148.7 363.0,148.9 364.0,149.1 365.0,149.2 366.0,149.3 367.0,149.5 368.0,149.6 369.0,149.8 370.0,149.9 371.0,150.0 372.0,150.1 373.0,150.2 374.0,150.3 375.0,150.4 376.0,150.5 377.0,150.6 378.0,150.7 379.0,150.7 380.0,150.8 381.0,150.9 382.0,151.0 383.0,151.0 384.0,151.1 385.0,151.2 386.0,151.3 387.0,151.4 388.0,151.5 389.0,151.5 390.0,151.6 391.0,151.7 392.0,151.8 393.0,151.9 394.0,152.0 395.0,152.1 396.0,152.1 397.0,152.2 398.0,152.3 399.0,152.4 400.0,152.5 401.0,152.6 402.0,152.7 403.0,152.8 404.0,152.9 405.0,153.0 406.0,153.2 407.0,153.3 408.0,153.4 409.0,153.6 410.0,153.7 411.0,153.9 412.0,154.0 413.0,154.1 414.0,154.3 415.0,154.4 416.0,154.6 417.0,154.7 418.0,154.9 419.0,155.0 420.0,155.2 421.0,155.4 422.0,155.6 423.0,155.8 424.0,156.0 425.0,156.2 426.0,156.5 427.0,156.7 428.0,157.0 429.0,157.4 430.0,157.7 431.0,158.0 432.0,158.3 433.0,158.7 434.0,159.0 435.0,159.3 436.0,159.7 437.0,160.0 438.0,160.4 439.0,160.7 440.0,161.1 441.0,161.4 442.0,161.8 443.0,162.1 444.0,162.5 445.0,162.9 446.0,163.2 447.0,163.6 448.0,164.0 449.0,164.4 450.0,164.8 451.0,165.2 452.0,165.5 453.0,165.9 454.0,166.3 455.0,166.7 456.0,167.0 457.0,167.4 458.0,167.8 459.0,168.2 460.0,168.5 461.0,168.9 462.0,169.3 463.0,169.7 464.0,170.1 465.0,170.5 466.0,170.9 467.0,171.4 468.0,171.8 469.0,172.2 470.0,172.7 471.0,173.1 472.0,173.6 473.0,174.1 474.0,174.6 475.0,175.1 476.0,175.6 477.0,176.1 478.0,176.7 479.0,177.2 480.0,177.7 481.0,178.2 482.0,178.8 483.0,179.3 484.0,179.8 485.0,180.3 486.0,180.8 487.0,181.3 488.0,181.8 489.0,182.2 490.0,182.7 491.0,183.1 492.0,183.6 493.0,184.1 494.0,184.5 495.0,184.9 496.0,185.4 497.0,185.8 498.0,186.2 499.0,186.7 500.0,187.1 501.0,187.5 502.0,187.9 503.0,188.3 504.0,188.7 505.0,189.1 506.0,189.5 507.0,189.9 508.0,190.3 509.0,190.7" fill="none" stroke="#1a0800" stroke-opacity="0.6" stroke-width="0.38"/>
<polyline points="308.0,112.9 309.0,113.1 310.0,113.2 311.0,113.3 312.0,113.5 313.0,113.6 314.0,113.8 315.0,114.0 316.0,114.2 317.0,114.4 318.0,114.7 319.0,114.9 320.0,115.2 321.0,115.5 322.0,115.8 323.0,116.1 324.0,116.4 325.0,116.8 326.0,117.1 327.0,117.5 328.0,117.8 329.0,118.2 330.0,118.5 331.0,118.9 332.0,119.2 333.0,119.6 334.0,120.0 335.0,120.3 336.0,120.7 337.0,121.1 338.0,121.4 339.0,121.8 340.0,122.2 341.0,122.6 342.0,123.0 343.0,123.3 344.0,123.7 345.0,124.1 346.0,124.5 347.0,124.9 348.0,125.3 349.0,125.7 350.0,126.1 351.0,126.5 352.0,126.9 353.0,127.3 354.0,127.7 355.0,128.1 356.0,128.4 357.0,128.8 358.0,129.2 359.0,129.6 360.0,130.0 361.0,130.4 362.0,130.8 363.0,131.2 364.0,131.6 365.0,131.9 366.0,132.3 367.0,132.7 368.0,133.1 369.0,133.5 370.0,133.9 371.0,134.3 372.0,134.7 373.0,135.1 374.0,135.5 375.0,135.9 376.0,136.2 377.0,136.6 378.0,137.0 379.0,137.4 380.0,137.8 381.0,138.2 382.0,138.6 383.0,139.0 384.0,139.3 385.0,139.7 386.0,140.1 387.0,140.5 388.0,140.8 389.0,141.2 390.0,141.5 391.0,141.9 392.0,142.2 393.0,142.5 394.0,142.8 395.0,143.1 396.0,143.4 397.0,143.7 398.0,144.0 399.0,144.3 400.0,144.6 401.0,144.9 402.0,145.3 403.0,145.6 404.0,145.9 405.0,146.2 406.0,146.6 407.0,146.9 408.0,147.3 409.0,147.7 410.0,148.1 411.0,148.5 412.0,148.9 413.0,149.3 414.0,149.7 415.0,150.1 416.0,150.5 417.0,150.9 418.0,151.4 419.0,151.8 420.0,152.2 421.0,152.6 422.0,153.0 423.0,153.5 424.0,153.9 425.0,154.3 426.0,154.7 427.0,155.1 428.0,155.5 429.0,155.9 430.0,156.3 431.0,156.7 432.0,157.0 433.0,157.4 434.0,157.8 435.0,158.2 436.0,158.5 437.0,158.9 438.0,159.3 439.0,159.6 440.0,160.0 441.0,160.4 442.0,160.7 443.0,161.1 444.0,161.5 445.0,161.8 446.0,162.2 447.0,162.6 448.0,163.0 449.0,163.4 450.0,163.8 451.0,164.2 452.0,164.6 453.0,165.0 454.0,165.3 455.0,165.7 456.0,166.1 457.0,166.5 458.0,166.9 459.0,167.3 460.0,167.7 461.0,168.1 462.0,168.5 463.0,168.9 464.0,169.3 465.0,169.7 466.0,170.1 467.0,170.5 468.0,171.0 469.0,171.4 470.0,171.9 471.0,172.4 472.0,172.8 473.0,173.3 474.0,173.8 475.0,174.4 476.0,174.9 477.0,175.4 478.0,175.9 479.0,176.4 480.0,177.0 481.0,177.5 482.0,178.0 483.0,178.5 484.0,179.1 485.0,179.6 486.0,180.1 487.0,180.6 488.0,181.1 489.0,181.5 490.0,182.0 491.0,182.5 492.0,182.9 493.0,183.4 494.0,183.8 495.0,184.3 496.0,184.7 497.0,185.2" fill="none" stroke="#1a0800" stroke-opacity="0.6" stroke-width="0.38"/>
<polyline points="308.0,100.4 309.0,100.6 310.0,100.7 311.0,100.9 312.0,101.1 313.0,101.3 314.0,101.5 315.0,101.8 316.0,102.0 317.0,102.3 318.0,102.6 319.0,103.0 320.0,103.3 321.0,103.7 322.0,104.1 323.0,104.5 324.0,105.0 325.0,105.4 326.0,105.9 327.0,106.3 328.0,106.8 329.0,107.2 330.0,107.7 331.0,108.2 332.0,108.7 333.0,109.2 334.0,109.7 335.0,110.2 336.0,110.8 337.0,111.3 338.0,111.8 339.0,112.3 340.0,112.9 341.0,113.4 342.0,113.9 343.0,114.4 344.0,114.9 345.0,115.4 346.0,115.9 347.0,116.3 348.0,116.8 349.0,117.2 350.0,117.6 351.0,118.0 352.0,118.4 353.0,118.8 354.0,119.2 355.0,119.5 356.0,119.9 357.0,120.2 358.0,120.6 359.0,120.9 360.0,121.3 361.0,121.6 362.0,122.0 363.0,122.3 364.0,122.7 365.0,123.1 366.0,123.5 367.0,123.9 368.0,124.3 369.0,124.7 370.0,125.1 371.0,125.6 372.0,126.0 373.0,126.5 374.0,126.9 375.0,127.3 376.0,127.8 377.0,128.2 378.0,128.7 379.0,129.1 380.0,129.6 381.0,130.1 382.0,130.5 383.0,131.0 384.0,131.5 385.0,131.9 386.0,132.4 387.0,132.9 388.0,133.4 389.0,133.8 390.0,134.3 391.0,134.8 392.0,135.3 393.0,135.8 394.0,136.2 395.0,136.7 396.0,137.2 397.0,137.7 398.0,138.2 399.0,138.7 400.0,139.2 401.0,139.7 402.0,140.2 403.0,140.7 404.0,141.2 405.0,141.7 406.0,142.3 407.0,142.8 408.0,143.3 409.0,143.9 410.0,144.4 411.0,145.0 412.0,145.6 413.0,146.1 414.0,146.7 415.0,147.3 416.0,147.9 417.0,148.5 418.0,149.1 419.0,149.6 420.0,150.2 421.0,150.8 422.0,151.3 423.0,151.9 424.0,152.4 425.0,153.0 426.0,153.5 427.0,154.0 428.0,154.5 429.0,154.9 430.0,155.4 431.0,155.8 432.0,156.2 433.0,156.6 434.0,157.0 435.0,157.4 436.0,157.8 437.0,158.2 438.0,158.5 439.0,158.9 440.0,159.2 441.0,159.6 442.0,159.9 443.0,160.3 444.0,160.7 445.0,161.0 446.0,161.4 447.0,161.8 448.0,162.2 449.0,162.6 450.0,163.0 451.0,163.4 452.0,163.8 453.0,164.2 454.0,164.6 455.0,165.0 456.0,165.4 457.0,165.8 458.0,166.2 459.0,166.6 460.0,167.0 461.0,167.4 462.0,167.8 463.0,168.2 464.0,168.6 465.0,169.1 466.0,169.5 467.0,169.9 468.0,170.4 469.0,170.8 470.0,171.3 471.0,171.7 472.0,172.2 473.0,172.7 474.0,173.1 475.0,173.6 476.0,174.1 477.0,174.6 478.0,175.1 479.0,175.6 480.0,176.1 481.0,176.6 482.0,177.1 483.0,177.6" fill="none" stroke="#1a0800" stroke-opacity="0.6" stroke-width="0.38"/>
<polyline points="308.0,85.2 309.0,85.4 310.0,85.5 311.0,85.7 312.0,85.9 313.0,86.2 314.0,86.5 315.0,86.8 316.0,87.2 317.0,87.7 318.0,88.2 319.0,88.8 320.0,89.4 321.0,90.1 322.0,90.7 323.0,91.4 324.0,92.1 325.0,92.8 326.0,93.6 327.0,94.3 328.0,95.1 329.0,95.9 330.0,96.7 331.0,97.5 332.0,98.3 333.0,99.1 334.0,99.9 335.0,100.7 336.0,101.5 337.0,102.3 338.0,103.1 339.0,103.9 340.0,104.7 341.0,105.4 342.0,106.2 343.0,106.9 344.0,107.6 345.0,108.3 346.0,109.0 347.0,109.6 348.0,110.2 349.0,110.8 350.0,111.3 351.0,111.9 352.0,112.4 353.0,112.8 354.0,113.3 355.0,113.7 356.0,114.2 357.0,114.6 358.0,115.0 359.0,115.4 360.0,115.8 361.0,116.2 362.0,116.6 363.0,117.0 364.0,117.4 365.0,117.9 366.0,118.3 367.0,118.8 368.0,119.3 369.0,119.8 370.0,120.3 371.0,120.8 372.0,121.3 373.0,121.8 374.0,122.3 375.0,122.8 376.0,123.3 377.0,123.8 378.0,124.3 379.0,124.9 380.0,125.4 381.0,125.9 382.0,126.5 383.0,127.0 384.0,127.5 385.0,128.1 386.0,128.6 387.0,129.2 388.0,129.7 389.0,130.3 390.0,130.8 391.0,131.4 392.0,132.0 393.0,132.5 394.0,133.1 395.0,133.7 396.0,134.2 397.0,134.8 398.0,135.4 399.0,135.9 400.0,136.5 401.0,137.1 402.0,137.7 403.0,138.3 404.0,138.9 405.0,139.5 406.0,140.1 407.0,140.7 408.0,141.3 409.0,141.9 410.0,142.5 411.0,143.2 412.0,143.8 413.0,144.4 414.0,145.1 415.0,145.7 416.0,146.4 417.0,147.0 418.0,147.6 419.0,148.3 420.0,148.9 421.0,149.5 422.0,150.1 423.0,150.7 424.0,151.3 425.0,151.9 426.0,152.4 427.0,153.0 428.0,153.5 429.0,154.1 430.0,154.5 431.0,155.0 432.0,155.5 433.0,155.9 434.0,156.3 435.0,156.7 436.0,157.1 437.0,157.4 438.0,157.8 439.0,158.1 440.0,158.5 441.0,158.8 442.0,159.2 443.0,159.5 444.0,159.9 445.0,160.2 446.0,160.6 447.0,161.0 448.0,161.4 449.0,161.8 450.0,162.2 451.0,162.6 452.0,163.0 453.0,163.5 454.0,163.9 455.0,164.3 456.0,164.7 457.0,165.1 458.0,165.5 459.0,165.9 460.0,166.3 461.0,166.7 462.0,167.1 463.0,167.6 464.0,168.0 465.0,168.4 466.0,168.9 467.0,169.3 468.0,169.8 469.0,170.2 470.0,170.7 471.0,171.2 472.0,171.7 473.0,172.2 474.0,172.7 475.0,173.2 476.0,173.8 477.0,174.3 478.0,174.8 479.0,175.4 480.0,175.9 481.0,176.4 482.0,177.0" fill="none" stroke="#1a0800" stroke-opacity="0.6" stroke-width="0.38"/>
<polyline points="308.0,78.6 309.0,79.0 310.0,79.5 311.0,79.9 312.0,80.4 313.0,80.9 314.0,81.4 315.0,81.9 316.0,82.5 317.0,83.1 318.0,83.7 319.0,84.3 320.0,85.0 321.0,85.6 322.0,86.3 323.0,87.0 324.0,87.7 325.0,88.4 326.0,89.1 327.0,89.8 328.0,90.6 329.0,91.4 330.0,92.2 331.0,92.9 332.0,93.7 333.0,94.5 334.0,95.2 335.0,95.9 336.0,96.7 337.0,97.4 338.0,98.1 339.0,98.8 340.0,99.5 341.0,100.3 342.0,101.0 343.0,101.7 344.0,102.4 345.0,103.1 346.0,103.8 347.0,104.5 348.0,105.2 349.0,105.8 350.0,106.5 351.0,107.2 352.0,107.8 353.0,108.5 354.0,109.1 355.0,109.7 356.0,110.3 357.0,110.9 358.0,111.4 359.0,112.0 360.0,112.6 361.0,113.2 362.0,113.7 363.0,114.3 364.0,114.9 365.0,115.4 366.0,116.0 367.0,116.6 368.0,117.2 369.0,117.8 370.0,118.4 371.0,119.0 372.0,119.6 373.0,120.2 374.0,120.8 375.0,121.4 376.0,121.9 377.0,122.5 378.0,123.1 379.0,123.7 380.0,124.3 381.0,124.9 382.0,125.4 383.0,126.0 384.0,126.6 385.0,127.2 386.0,127.8 387.0,128.4 388.0,129.0 389.0,129.5 390.0,130.1 391.0,130.7 392.0,131.3 393.0,131.9 394.0,132.5 395.0,133.1" fill="none" stroke="#1a0800" stroke-opacity="0.6" stroke-width="0.38"/>
<polyline points="308.0,71.9 309.0,72.7 310.0,73.4 311.0,74.1 312.0,74.9 313.0,75.6 314.0,76.3 315.0,77.0 316.0,77.7 317.0,78.4 318.0,79.2 319.0,79.8 320.0,80.5 321.0,81.2 322.0,81.9 323.0,82.5 324.0,83.2 325.0,83.9 326.0,84.6 327.0,85.4 328.0,86.1 329.0,86.9 330.0,87.7 331.0,88.4 332.0,89.1 333.0,89.8 334.0,90.5 335.0,91.2 336.0,91.8 337.0,92.5 338.0,93.1 339.0,93.8 340.0,94.4 341.0,95.1 342.0,95.8 343.0,96.4 344.0,97.1 345.0,97.8 346.0,98.6 347.0,99.3 348.0,100.1 349.0,100.9 350.0,101.7 351.0,102.5 352.0,103.3 353.0,104.1 354.0,104.8 355.0,105.6 356.0,106.4 357.0,107.1 358.0,107.9 359.0,108.6 360.0,109.4 361.0,110.1 362.0,110.9 363.0,111.6 364.0,112.3 365.0,113.0 366.0,113.7 367.0,114.4 368.0,115.1 369.0,115.8 370.0,116.5 371.0,117.2 372.0,117.9 373.0,118.6 374.0,119.2 375.0,119.9 376.0,120.6 377.0,121.2 378.0,121.9 379.0,122.5 380.0,123.1 381.0,123.8 382.0,124.4 383.0,125.0 384.0,125.7 385.0,126.3 386.0,126.9 387.0,127.6 388.0,128.2 389.0,128.8 390.0,129.4 391.0,130.0 392.0,130.6 393.0,131.3 394.0,131.8 395.0,132.4 396.0,133.0 397.0,133.6 398.0,134.2 399.0,134.8 400.0,135.4 401.0,136.0 402.0,136.6 403.0,137.2 404.0,137.8 405.0,138.4 406.0,139.0 407.0,139.6 408.0,140.2 409.0,140.8 410.0,141.4 411.0,142.1 412.0,142.7 413.0,143.4 414.0,144.0 415.0,144.7 416.0,145.3 417.0,145.9 418.0,146.6 419.0,147.2 420.0,147.8 421.0,148.5 422.0,149.1 423.0,149.7 424.0,150.3 425.0,150.9 426.0,151.4 427.0,152.0 428.0,152.5 429.0,153.1 430.0,153.6 431.0,154.0 432.0,154.5 433.0,154.9 434.0,155.3 435.0,155.7 436.0,156.1 437.0,156.5 438.0,156.9 439.0,157.2 440.0,157.6 441.0,157.9 442.0,158.3 443.0,158.6 444.0,159.0 445.0,159.4 446.0,159.8 447.0,160.2 448.0,160.6 449.0,161.0 450.0,161.4 451.0,161.9 452.0,162.3 453.0,162.7 454.0,163.1 455.0,163.5 456.0,163.9 457.0,164.3 458.0,164.8 459.0,165.2 460.0,165.6 461.0,166.0 462.0,166.4 463.0,166.9 464.0,167.3 465.0,167.8 466.0,168.2 467.0,168.7 468.0,169.2 469.0,169.6 470.0,170.1 471.0,170.7 472.0,171.2 473.0,171.7 474.0,172.3 475.0,172.8 476.0,173.4 477.0,174.0 478.0,174.5 479.0,175.1 480.0,175.7" fill="none" stroke="#1a0800" stroke-opacity="0.6" stroke-width="0.38"/>
<polyline points="308.0,68.2 309.0,68.8 310.0,69.5 311.0,70.1 312.0,70.8 313.0,71.5 314.0,72.1 315.0,72.8 316.0,73.5 317.0,74.2 318.0,74.9 319.0,75.6 320.0,76.3 321.0,77.0 322.0,77.7 323.0,78.5 324.0,79.2 325.0,80.0 326.0,80.7 327.0,81.5 328.0,82.3 329.0,83.2 330.0,84.0 331.0,84.8 332.0,85.6 333.0,86.5 334.0,87.3 335.0,88.1 336.0,88.9 337.0,89.8 338.0,90.6 339.0,91.4 340.0,92.2 341.0,93.0 342.0,93.9 343.0,94.7 344.0,95.5 345.0,96.3 346.0,97.2 347.0,98.0 348.0,98.8 349.0,99.7 350.0,100.5 351.0,101.3 352.0,102.1 353.0,102.9 354.0,103.7 355.0,104.5 356.0,105.3 357.0,106.0 358.0,106.8 359.0,107.6 360.0,108.3 361.0,109.0 362.0,109.8 363.0,110.5 364.0,111.3 365.0,112.0 366.0,112.7 367.0,113.4 368.0,114.1 369.0,114.9 370.0,115.6 371.0,116.3 372.0,117.0 373.0,117.7 374.0,118.3 375.0,119.0 376.0,119.7 377.0,120.4 378.0,121.0 379.0,121.7 380.0,122.4 381.0,123.0 382.0,123.7 383.0,124.3 384.0,125.0 385.0,125.6 386.0,126.2 387.0,126.9 388.0,127.5 389.0,128.2 390.0,128.8 391.0,129.4 392.0,130.0" fill="none" stroke="#1a0800" stroke-opacity="0.6" stroke-width="0.38"/>
<polyline points="462.0,165.8 463.0,166.3 464.0,166.7 465.0,167.2 466.0,167.6" fill="none" stroke="#1a0800" stroke-opacity="0.6" stroke-width="0.38"/>
<polyline points="308.0,64.4 309.0,65.0 310.0,65.5 311.0,66.1 312.0,66.7 313.0,67.3 314.0,68.0 315.0,68.6 316.0,69.3 317.0,70.0 318.0,70.7 319.0,71.4 320.0,72.1 321.0,72.8 322.0,73.6 323.0,74.4 324.0,75.2 325.0,76.0 326.0,76.9 327.0,77.7 328.0,78.6 329.0,79.4 330.0,80.3 331.0,81.2 332.0,82.2 333.0,83.1 334.0,84.1 335.0,85.1 336.0,86.0 337.0,87.0 338.0,88.0 339.0,89.0 340.0,90.0 341.0,91.0 342.0,92.0 343.0,92.9 344.0,93.9 345.0,94.8 346.0,95.8 347.0,96.7 348.0,97.6 349.0,98.4 350.0,99.3 351.0,100.1 352.0,100.9 353.0,101.8 354.0,102.6 355.0,103.4 356.0,104.1 357.0,104.9 358.0,105.7 359.0,106.5 360.0,107.2 361.0,108.0 362.0,108.7 363.0,109.5 364.0,110.2 365.0,110.9 366.0,111.7 367.0,112.4 368.0,113.1 369.0,113.9 370.0,114.6 371.0,115.3 372.0,116.0 373.0,116.7 374.0,117.4 375.0,118.1 376.0,118.8 377.0,119.5 378.0,120.2 379.0,120.9 380.0,121.6 381.0,122.2 382.0,122.9 383.0,123.6 384.0,124.2 385.0,124.9 386.0,125.6 387.0,126.2 388.0,126.9 389.0,127.5 390.0,128.2 391.0,128.8 392.0,129.4 393.0,130.1 394.0,130.7 395.0,131.3 396.0,131.9 397.0,132.5 398.0,133.1 399.0,133.7 400.0,134.3 401.0,134.9 402.0,135.5 403.0,136.1 404.0,136.7 405.0,137.3 406.0,137.9 407.0,138.6 408.0,139.2 409.0,139.8 410.0,140.4 411.0,141.1 412.0,141.7 413.0,142.4 414.0,143.0 415.0,143.7 416.0,144.3 417.0,144.9 418.0,145.6 419.0,146.2 420.0,146.8 421.0,147.5 422.0,148.1 423.0,148.7 424.0,149.3 425.0,149.9 426.0,150.4 427.0,151.0 428.0,151.5 429.0,152.1 430.0,152.6 431.0,153.0 432.0,153.5 433.0,154.0 434.0,154.4 435.0,154.8 436.0,155.2 437.0,155.6 438.0,156.0 439.0,156.4 440.0,156.7 441.0,157.1 442.0,157.5 443.0,157.8 444.0,158.2 445.0,158.6 446.0,159.0 447.0,159.4 448.0,159.8 449.0,160.2 450.0,160.6 451.0,161.0 452.0,161.4 453.0,161.8 454.0,162.2 455.0,162.5 456.0,162.9 457.0,163.3 458.0,163.7 459.0,164.0 460.0,164.4 461.0,164.8" fill="none" stroke="#1a0800" stroke-opacity="0.6" stroke-width="0.38"/>
<polyline points="308.0,62.9 309.0,63.3 310.0,63.9 311.0,64.4 312.0,64.9 313.0,65.5 314.0,66.1 315.0,66.7 316.0,67.3 317.0,68.0 318.0,68.7 319.0,69.4 320.0,70.1 321.0,70.8 322.0,71.6 323.0,72.4 324.0,73.2 325.0,74.0 326.0,74.9 327.0,75.7 328.0,76.6 329.0,77.4 330.0,78.3 331.0,79.3 332.0,80.2 333.0,81.2 334.0,82.3 335.0,83.3 336.0,84.3 337.0,85.4 338.0,86.4 339.0,87.5 340.0,88.6 341.0,89.6 342.0,90.7 343.0,91.7 344.0,92.7 345.0,93.7 346.0,94.7 347.0,95.6 348.0,96.6 349.0,97.4 350.0,98.3 351.0,99.2 352.0,100.0 353.0,100.8 354.0,101.6 355.0,102.4 356.0,103.2 357.0,104.0 358.0,104.8 359.0,105.6 360.0,106.3 361.0,107.1 362.0,107.8 363.0,108.6 364.0,109.3 365.0,110.1 366.0,110.8 367.0,111.5 368.0,112.3 369.0,113.0 370.0,113.7 371.0,114.5 372.0,115.2 373.0,115.9 374.0,116.6 375.0,117.3 376.0,118.0 377.0,118.7 378.0,119.4 379.0,120.1 380.0,120.7 381.0,121.4 382.0,122.1 383.0,122.7 384.0,123.4 385.0,124.1 386.0,124.7 387.0,125.4 388.0,126.1 389.0,126.7 390.0,127.4 391.0,128.0 392.0,128.7 393.0,129.3 394.0,129.9 395.0,130.6 396.0,131.2 397.0,131.8 398.0,132.4 399.0,133.1 400.0,133.7 401.0,134.3 402.0,134.9" fill="none" stroke="#1a0800" stroke-opacity="0.6" stroke-width="0.38"/>
<polyline points="433.0,153.3 434.0,153.7 435.0,154.1 436.0,154.5 437.0,154.9 438.0,155.2 439.0,155.6 440.0,155.9 441.0,156.3 442.0,156.6 443.0,157.0 444.0,157.4 445.0,157.7 446.0,158.2 447.0,158.6 448.0,159.0 449.0,159.5 450.0,159.9 451.0,160.4" fill="none" stroke="#1a0800" stroke-opacity="0.6" stroke-width="0.38"/>
<polyline points="308.0,61.3 309.0,61.7 310.0,62.2 311.0,62.6 312.0,63.1 313.0,63.6 314.0,64.2 315.0,64.8 316.0,65.4 317.0,66.0 318.0,66.7 319.0,67.4 320.0,68.1 321.0,68.8 322.0,69.6 323.0,70.4 324.0,71.2 325.0,72.0 326.0,72.9 327.0,73.7 328.0,74.6 329.0,75.4 330.0,76.4 331.0,77.3 332.0,78.3 333.0,79.4 334.0,80.4 335.0,81.5 336.0,82.6 337.0,83.7 338.0,84.8 339.0,86.0 340.0,87.1 341.0,88.2 342.0,89.4 343.0,90.5 344.0,91.5 345.0,92.6 346.0,93.6 347.0,94.6 348.0,95.5 349.0,96.4 350.0,97.3 351.0,98.2 352.0,99.1 353.0,99.9 354.0,100.7 355.0,101.5 356.0,102.3 357.0,103.1 358.0,103.9 359.0,104.7 360.0,105.5 361.0,106.2 362.0,107.0 363.0,107.7 364.0,108.5 365.0,109.2 366.0,109.9 367.0,110.7 368.0,111.4 369.0,112.2 370.0,112.9 371.0,113.6 372.0,114.4 373.0,115.1 374.0,115.8 375.0,116.5 376.0,117.2 377.0,117.9 378.0,118.5 379.0,119.2 380.0,119.9 381.0,120.6 382.0,121.3 383.0,121.9 384.0,122.6 385.0,123.3 386.0,123.9 387.0,124.6 388.0,125.3 389.0,125.9 390.0,126.6 391.0,127.3 392.0,127.9 393.0,128.6 394.0,129.2 395.0,129.8 396.0,130.5 397.0,131.1 398.0,131.8 399.0,132.4 400.0,133.0 401.0,133.7 402.0,134.3 403.0,134.9 404.0,135.6 405.0,136.2 406.0,136.8 407.0,137.5 408.0,138.1 409.0,138.7 410.0,139.4 411.0,140.0 412.0,140.6 413.0,141.3 414.0,141.9 415.0,142.6 416.0,143.2 417.0,143.9 418.0,144.5 419.0,145.1 420.0,145.8 421.0,146.4 422.0,147.0 423.0,147.6 424.0,148.2 425.0,148.8 426.0,149.3 427.0,149.9 428.0,150.4 429.0,151.0 430.0,151.4 431.0,151.9 432.0,152.3 433.0,152.7 434.0,153.1 435.0,153.5 436.0,153.8 437.0,154.1 438.0,154.5 439.0,154.8 440.0,155.1 441.0,155.4 442.0,155.8 443.0,156.1 444.0,156.5" fill="none" stroke="#1a0800" stroke-opacity="0.6" stroke-width="0.38"/>
<polyline points="308.0,59.8 309.0,60.2 310.0,60.6 311.0,61.0 312.0,61.5 313.0,62.0 314.0,62.5 315.0,63.0 316.0,63.6 317.0,64.3 318.0,64.9 319.0,65.6 320.0,66.3 321.0,67.1 322.0,67.8 323.0,68.6 324.0,69.4 325.0,70.2 326.0,71.1 327.0,71.9 328.0,72.8 329.0,73.7 330.0,74.6 331.0,75.6 332.0,76.7 333.0,77.7 334.0,78.8 335.0,80.0 336.0,81.1 337.0,82.3 338.0,83.5 339.0,84.6 340.0,85.8 341.0,87.0 342.0,88.1 343.0,89.3 344.0,90.4 345.0,91.5 346.0,92.5 347.0,93.6 348.0,94.5 349.0,95.5 350.0,96.4 351.0,97.2 352.0,98.1 353.0,99.0 354.0,99.8 355.0,100.6 356.0,101.4 357.0,102.2 358.0,103.0 359.0,103.8 360.0,104.5 361.0,105.3 362.0,106.1 363.0,106.8 364.0,107.5 365.0,108.3 366.0,109.0 367.0,109.8 368.0,110.5 369.0,111.3 370.0,112.0 371.0,112.7 372.0,113.5 373.0,114.2 374.0,114.9 375.0,115.6 376.0,116.3 377.0,117.0 378.0,117.7 379.0,118.4 380.0,119.1 381.0,119.7 382.0,120.4 383.0,121.1 384.0,121.8 385.0,122.4 386.0,123.1 387.0,123.8 388.0,124.5 389.0,125.1 390.0,125.8 391.0,126.5 392.0,127.1 393.0,127.8 394.0,128.5 395.0,129.1 396.0,129.8 397.0,130.4 398.0,131.1 399.0,131.8 400.0,132.4 401.0,133.0 402.0,133.7" fill="none" stroke="#1a0800" stroke-opacity="0.6" stroke-width="0.38"/>
<polyline points="425.0,148.2 426.0,148.7 427.0,149.3 428.0,149.8" fill="none" stroke="#1a0800" stroke-opacity="0.6" stroke-width="0.38"/>
<polyline points="308.0,58.3 309.0,58.7 310.0,59.0 311.0,59.4 312.0,59.9 313.0,60.3 314.0,60.8 315.0,61.3 316.0,61.9 317.0,62.5 318.0,63.2 319.0,63.9 320.0,64.6 321.0,65.3 322.0,66.1 323.0,66.8 324.0,67.6 325.0,68.4 326.0,69.3 327.0,70.2 328.0,71.0 329.0,72.0 330.0,72.9 331.0,74.0 332.0,75.0 333.0,76.1 334.0,77.3 335.0,78.5 336.0,79.6 337.0,80.9 338.0,82.1 339.0,83.3 340.0,84.5 341.0,85.7 342.0,86.9 343.0,88.1 344.0,89.3 345.0,90.4 346.0,91.5 347.0,92.5 348.0,93.5 349.0,94.5 350.0,95.4 351.0,96.3 352.0,97.2 353.0,98.0 354.0,98.9 355.0,99.7 356.0,100.5 357.0,101.3 358.0,102.1 359.0,102.9 360.0,103.6 361.0,104.4 362.0,105.1 363.0,105.9 364.0,106.6 365.0,107.4 366.0,108.1 367.0,108.9 368.0,109.6 369.0,110.4 370.0,111.1 371.0,111.9 372.0,112.6 373.0,113.3 374.0,114.0 375.0,114.7 376.0,115.4 377.0,116.1 378.0,116.8 379.0,117.5 380.0,118.2 381.0,118.9 382.0,119.6 383.0,120.3 384.0,120.9 385.0,121.6 386.0,122.3 387.0,123.0 388.0,123.7 389.0,124.3 390.0,125.0 391.0,125.7 392.0,126.4 393.0,127.1 394.0,127.7 395.0,128.4 396.0,129.1 397.0,129.8 398.0,130.4 399.0,131.1 400.0,131.8 401.0,132.4 402.0,133.1 403.0,133.7 404.0,134.4 405.0,135.0 406.0,135.7 407.0,136.3 408.0,137.0 409.0,137.6 410.0,138.3 411.0,138.9 412.0,139.5 413.0,140.2 414.0,140.8 415.0,141.5 416.0,142.1 417.0,142.7 418.0,143.4 419.0,144.0 420.0,144.6 421.0,145.2 422.0,145.8 423.0,146.4 424.0,147.0 425.0,147.6 426.0,148.1 427.0,148.7 428.0,149.2 429.0,149.8 430.0,150.3 431.0,150.8 432.0,151.2 433.0,151.7 434.0,152.1 435.0,152.6 436.0,153.0 437.0,153.4 438.0,153.8 439.0,154.2 440.0,154.7 441.0,155.1 442.0,155.5" fill="none" stroke="#1a0800" stroke-opacity="0.6" stroke-width="0.38"/>
<polyline points="311.0,54.0 312.0,54.8 313.0,55.6 314.0,56.4 315.0,57.2 316.0,58.0 317.0,58.8 318.0,59.6 319.0,60.4 320.0,61.2 321.0,62.0 322.0,62.8 323.0,63.6 324.0,64.4 325.0,65.3 326.0,66.1 327.0,67.0 328.0,67.9 329.0,68.9 330.0,69.9 331.0,71.0 332.0,72.1 333.0,73.3 334.0,74.5 335.0,75.8 336.0,77.0 337.0,78.3 338.0,79.6 339.0,80.9 340.0,82.2 341.0,83.5 342.0,84.7 343.0,86.0 344.0,87.2 345.0,88.3 346.0,89.4 347.0,90.5 348.0,91.5 349.0,92.5 350.0,93.4 351.0,94.3 352.0,95.2 353.0,96.0 354.0,96.9 355.0,97.7 356.0,98.5 357.0,99.3 358.0,100.1 359.0,100.8 360.0,101.6 361.0,102.4 362.0,103.1 363.0,103.9 364.0,104.6 365.0,105.4 366.0,106.1 367.0,106.9 368.0,107.6 369.0,108.4 370.0,109.1 371.0,109.9 372.0,110.6 373.0,111.3 374.0,112.1 375.0,112.8 376.0,113.5 377.0,114.2 378.0,114.9 379.0,115.6 380.0,116.3 381.0,117.0 382.0,117.7 383.0,118.4 384.0,119.1 385.0,119.8 386.0,120.5 387.0,121.2 388.0,121.9 389.0,122.7 390.0,123.4 391.0,124.1 392.0,124.8 393.0,125.5 394.0,126.2 395.0,126.9 396.0,127.6 397.0,128.3 398.0,129.1 399.0,129.8 400.0,130.5 401.0,131.2 402.0,131.9 403.0,132.5 404.0,133.2 405.0,133.9 406.0,134.6 407.0,135.2 408.0,135.9 409.0,136.5 410.0,137.1 411.0,137.7 412.0,138.3 413.0,138.9 414.0,139.5 415.0,140.0 416.0,140.6 417.0,141.1 418.0,141.7 419.0,142.2 420.0,142.8 421.0,143.3 422.0,143.8 423.0,144.4" fill="none" stroke="#1a0800" stroke-opacity="0.6" stroke-width="0.38"/>
<polyline points="313.0,54.1 314.0,54.6 315.0,55.1 316.0,55.7 317.0,56.2 318.0,56.7 319.0,57.3 320.0,57.8 321.0,58.3 322.0,58.9 323.0,59.4 324.0,60.0 325.0,60.6 326.0,61.2 327.0,61.9 328.0,62.6 329.0,63.4 330.0,64.2 331.0,65.1 332.0,66.0 333.0,67.0 334.0,68.0 335.0,69.0 336.0,70.0 337.0,71.1 338.0,72.2 339.0,73.3 340.0,74.4 341.0,75.5 342.0,76.6 343.0,77.7 344.0,78.7 345.0,79.8 346.0,80.8 347.0,81.8 348.0,82.8 349.0,83.8 350.0,84.7 351.0,85.6 352.0,86.5 353.0,87.4 354.0,88.3 355.0,89.2 356.0,90.1 357.0,90.9 358.0,91.8 359.0,92.6 360.0,93.5 361.0,94.3 362.0,95.2 363.0,96.0 364.0,96.8 365.0,97.7 366.0,98.5 367.0,99.3 368.0,100.2 369.0,101.0 370.0,101.8 371.0,102.7 372.0,103.5 373.0,104.3 374.0,105.1 375.0,106.0 376.0,106.8 377.0,107.6 378.0,108.4 379.0,109.2 380.0,110.0 381.0,110.8 382.0,111.6 383.0,112.4 384.0,113.2 385.0,114.0 386.0,114.8 387.0,115.6 388.0,116.4 389.0,117.2 390.0,118.0 391.0,118.8 392.0,119.5 393.0,120.3 394.0,121.1 395.0,121.9 396.0,122.7 397.0,123.4 398.0,124.2 399.0,125.0 400.0,125.7 401.0,126.5 402.0,127.3 403.0,128.0 404.0,128.8 405.0,129.6 406.0,130.3 407.0,131.1 408.0,131.8 409.0,132.6 410.0,133.3 411.0,134.1 412.0,134.9 413.0,135.7 414.0,136.5 415.0,137.4 416.0,138.2 417.0,139.0" fill="none" stroke="#1a0800" stroke-opacity="0.6" stroke-width="0.38"/>
<polyline points="308.0,47.1 309.0,47.9 310.0,48.8 311.0,49.6 312.0,50.5 313.0,51.3 314.0,52.1 315.0,52.9 316.0,53.7 317.0,54.4 318.0,55.1 319.0,55.8 320.0,56.5 321.0,57.2 322.0,57.8 323.0,58.4 324.0,59.0 325.0,59.7 326.0,60.4 327.0,61.1 328.0,61.8 329.0,62.6 330.0,63.5 331.0,64.3 332.0,65.3 333.0,66.2 334.0,67.3 335.0,68.3 336.0,69.3 337.0,70.4 338.0,71.5 339.0,72.6 340.0,73.7 341.0,74.8 342.0,75.9 343.0,77.0 344.0,78.0 345.0,79.1 346.0,80.1 347.0,81.1 348.0,82.1 349.0,83.1 350.0,84.0 351.0,84.9 352.0,85.8 353.0,86.7 354.0,87.6 355.0,88.5 356.0,89.4 357.0,90.3 358.0,91.1 359.0,92.0 360.0,92.8 361.0,93.7 362.0,94.5 363.0,95.4 364.0,96.2 365.0,97.1 366.0,97.9 367.0,98.7 368.0,99.6 369.0,100.4 370.0,101.3 371.0,102.1 372.0,102.9 373.0,103.7 374.0,104.6 375.0,105.4 376.0,106.2 377.0,107.0 378.0,107.8 379.0,108.6 380.0,109.4 381.0,110.2 382.0,111.0 383.0,111.8 384.0,112.6 385.0,113.4 386.0,114.2 387.0,115.0 388.0,115.8 389.0,116.6 390.0,117.4 391.0,118.2 392.0,119.0 393.0,119.7 394.0,120.5 395.0,121.3 396.0,122.1 397.0,122.8 398.0,123.6 399.0,124.4 400.0,125.2 401.0,125.9 402.0,126.7 403.0,127.5 404.0,128.2 405.0,129.0 406.0,129.7 407.0,130.5 408.0,131.2 409.0,132.0 410.0,132.7 411.0,133.5 412.0,134.3 413.0,135.0 414.0,135.8 415.0,136.6 416.0,137.3 417.0,138.1 418.0,138.9 419.0,139.6 420.0,140.4 421.0,141.2 422.0,141.9 423.0,142.6" fill="none" stroke="#1a0800" stroke-opacity="0.6" stroke-width="0.38"/>
<polyline points="308.0,46.4 309.0,47.3 310.0,48.1 311.0,48.9 312.0,49.7 313.0,50.5 314.0,51.3 315.0,52.1 316.0,52.9 317.0,53.6 318.0,54.3 319.0,55.0 320.0,55.7 321.0,56.3 322.0,57.0 323.0,57.6 324.0,58.3 325.0,58.9 326.0,59.6 327.0,60.3 328.0,61.1 329.0,61.9 330.0,62.7 331.0,63.6 332.0,64.6 333.0,65.6 334.0,66.6 335.0,67.6 336.0,68.7 337.0,69.8 338.0,70.9 339.0,72.0 340.0,73.1 341.0,74.2 342.0,75.3 343.0,76.4 344.0,77.5 345.0,78.5 346.0,79.6 347.0,80.6 348.0,81.6 349.0,82.5 350.0,83.4 351.0,84.4 352.0,85.3 353.0,86.2 354.0,87.1 355.0,88.0 356.0,88.8 357.0,89.7 358.0,90.6 359.0,91.5 360.0,92.3 361.0,93.2 362.0,94.0 363.0,94.9 364.0,95.7 365.0,96.6 366.0,97.4 367.0,98.2 368.0,99.1 369.0,99.9 370.0,100.7 371.0,101.6 372.0,102.4 373.0,103.2 374.0,104.0 375.0,104.8 376.0,105.6 377.0,106.4 378.0,107.2 379.0,108.0 380.0,108.8 381.0,109.6 382.0,110.4 383.0,111.2 384.0,112.0 385.0,112.8 386.0,113.6 387.0,114.4 388.0,115.1 389.0,115.9 390.0,116.7 391.0,117.5 392.0,118.3 393.0,119.1 394.0,119.8 395.0,120.6 396.0,121.4 397.0,122.2 398.0,122.9 399.0,123.7 400.0,124.5 401.0,125.2 402.0,126.0 403.0,126.8 404.0,127.5 405.0,128.3 406.0,129.0 407.0,129.8 408.0,130.5 409.0,131.3 410.0,132.0 411.0,132.8 412.0,133.5 413.0,134.3 414.0,135.0 415.0,135.8 416.0,136.5 417.0,137.3 418.0,138.0 419.0,138.8 420.0,139.5 421.0,140.2 422.0,141.0 423.0,141.7 424.0,143.2 425.0,143.9 426.0,144.7 427.0,145.4 428.0,146.1 429.0,146.9 430.0,147.6 431.0,148.3 432.0,149.0 433.0,149.6 434.0,150.3" fill="none" stroke="#1a0800" stroke-opacity="0.6" stroke-width="0.38"/>
<polyline points="308.0,45.8 309.0,46.6 310.0,47.4 311.0,48.2 312.0,49.0 313.0,49.7 314.0,50.5 315.0,51.3 316.0,52.0 317.0,52.8 318.0,53.5 319.0,54.2 320.0,54.9 321.0,55.5 322.0,56.2 323.0,56.8 324.0,57.5 325.0,58.1 326.0,58.8 327.0,59.6 328.0,60.3 329.0,61.1 330.0,62.0 331.0,62.9 332.0,63.9 333.0,64.9 334.0,65.9 335.0,67.0 336.0,68.0 337.0,69.1 338.0,70.2 339.0,71.3 340.0,72.5 341.0,73.6 342.0,74.7 343.0,75.8 344.0,76.9 345.0,78.0 346.0,79.0 347.0,80.0 348.0,81.0 349.0,81.9 350.0,82.9 351.0,83.8 352.0,84.7 353.0,85.6 354.0,86.5 355.0,87.4 356.0,88.3 357.0,89.2 358.0,90.1 359.0,90.9 360.0,91.8 361.0,92.7 362.0,93.5 363.0,94.4 364.0,95.2 365.0,96.1 366.0,96.9 367.0,97.8 368.0,98.6 369.0,99.4 370.0,100.2 371.0,101.1 372.0,101.9 373.0,102.7 374.0,103.5 375.0,104.3 376.0,105.1 377.0,105.9 378.0,106.7 379.0,107.5 380.0,108.2 381.0,109.0 382.0,109.8 383.0,110.6 384.0,111.4 385.0,112.1 386.0,112.9 387.0,113.7 388.0,114.5 389.0,115.3 390.0,116.0 391.0,116.8 392.0,117.6 393.0,118.4 394.0,119.2 395.0,119.9 396.0,120.7 397.0,121.5 398.0,122.3 399.0,123.0 400.0,123.8 401.0,124.6 402.0,125.3 403.0,126.1 404.0,126.8 405.0,127.6 406.0,128.3 407.0,129.1 408.0,129.8 409.0,130.6 410.0,131.3 411.0,132.0 412.0,132.8 413.0,133.5 414.0,134.3 415.0,135.0 416.0,135.7 417.0,136.5 418.0,137.2 419.0,137.9 420.0,138.6 421.0,139.3 422.0,140.1 423.0,140.8 424.0,141.8 425.0,142.5 426.0,143.3 427.0,144.0 428.0,144.7 429.0,145.3 430.0,146.0 431.0,146.7 432.0,147.4 433.0,148.1 434.0,148.8 435.0,149.5 436.0,150.2 437.0,150.8 438.0,151.5 439.0,152.2 440.0,152.8 441.0,153.5 442.0,154.1 443.0,154.7 444.0,155.4 445.0,156.0 446.0,156.6 447.0,157.2 448.0,157.8 449.0,158.4 450.0,159.0" fill="none" stroke="#1a0800" stroke-opacity="0.6" stroke-width="0.38"/>
<polyline points="308.0,45.1 309.0,45.9 310.0,46.7 311.0,47.4 312.0,48.2 313.0,49.0 314.0,49.7 315.0,50.5 316.0,51.2 317.0,51.9 318.0,52.6 319.0,53.3 320.0,54.0 321.0,54.7 322.0,55.3 323.0,56.0 324.0,56.7 325.0,57.4 326.0,58.1 327.0,58.8 328.0,59.6 329.0,60.4 330.0,61.3 331.0,62.2 332.0,63.2 333.0,64.2 334.0,65.2 335.0,66.3 336.0,67.4 337.0,68.5 338.0,69.6 339.0,70.7 340.0,71.9 341.0,73.0 342.0,74.1 343.0,75.2 344.0,76.3 345.0,77.4 346.0,78.4 347.0,79.4 348.0,80.4 349.0,81.4 350.0,82.3 351.0,83.2 352.0,84.2 353.0,85.1 354.0,86.0 355.0,86.9 356.0,87.8 357.0,88.7 358.0,89.5 359.0,90.4 360.0,91.3 361.0,92.2 362.0,93.0 363.0,93.9 364.0,94.7 365.0,95.6 366.0,96.4 367.0,97.3 368.0,98.1 369.0,98.9 370.0,99.7 371.0,100.5 372.0,101.4 373.0,102.2 374.0,102.9 375.0,103.7 376.0,104.5 377.0,105.3 378.0,106.1 379.0,106.9 380.0,107.6 381.0,108.4 382.0,109.2 383.0,110.0 384.0,110.7 385.0,111.5 386.0,112.3 387.0,113.0 388.0,113.8 389.0,114.6 390.0,115.4 391.0,116.1 392.0,116.9 393.0,117.7 394.0,118.5 395.0,119.2 396.0,120.0 397.0,120.8 398.0,121.6 399.0,122.3 400.0,123.1 401.0,123.9 402.0,124.6 403.0,125.4 404.0,126.2 405.0,126.9 406.0,127.7 407.0,128.4 408.0,129.1 409.0,129.9 410.0,130.6 411.0,131.3 412.0,132.0 413.0,132.8 414.0,133.5 415.0,134.2 416.0,134.9 417.0,135.6 418.0,136.3 419.0,137.0 420.0,137.7 421.0,138.4 422.0,139.1 423.0,139.8 424.0,140.5 425.0,141.2 426.0,141.8 427.0,142.5 428.0,143.2 429.0,143.8 430.0,144.5 431.0,145.2 432.0,145.9 433.0,146.6 434.0,147.3 435.0,148.0 436.0,148.7 437.0,149.4 438.0,150.1 439.0,150.8 440.0,151.4 441.0,152.1 442.0,152.8 443.0,153.5 444.0,154.1 445.0,154.7 446.0,155.4 447.0,155.9 448.0,156.5 449.0,157.1 450.0,157.6 451.0,158.1 452.0,158.7 453.0,159.2 454.0,159.7 455.0,160.1 456.0,160.6 457.0,161.1 458.0,161.6 459.0,162.1 460.0,162.6 461.0,163.1 462.0,164.7" fill="none" stroke="#1a0800" stroke-opacity="0.6" stroke-width="0.38"/>
<polyline points="308.0,43.9 309.0,44.7 310.0,45.5 311.0,46.3 312.0,47.1 313.0,47.9 314.0,48.7 315.0,49.5 316.0,50.2 317.0,51.0 318.0,51.7 319.0,52.5 320.0,53.2 321.0,53.9 322.0,54.6 323.0,55.3 324.0,56.0 325.0,56.7 326.0,57.4 327.0,58.2 328.0,59.0 329.0,59.8 330.0,60.7 331.0,61.6 332.0,62.6 333.0,63.6 334.0,64.6 335.0,65.7 336.0,66.8 337.0,67.9 338.0,69.0 339.0,70.1 340.0,71.3 341.0,72.4 342.0,73.5 343.0,74.6 344.0,75.7 345.0,76.8 346.0,77.8 347.0,78.8 348.0,79.8 349.0,80.7 350.0,81.7 351.0,82.6 352.0,83.5 353.0,84.4 354.0,85.3 355.0,86.2 356.0,87.1 357.0,88.0 358.0,88.9 359.0,89.8 360.0,90.6 361.0,91.5 362.0,92.4 363.0,93.2 364.0,94.0 365.0,94.9 366.0,95.7 367.0,96.6 368.0,97.4 369.0,98.2 370.0,99.0 371.0,99.8 372.0,100.6 373.0,101.4 374.0,102.2 375.0,103.0 376.0,103.8 377.0,104.6 378.0,105.4 379.0,106.1 380.0,106.9 381.0,107.7 382.0,108.5 383.0,109.2 384.0,110.0 385.0,110.8 386.0,111.5 387.0,112.3 388.0,113.1 389.0,113.8 390.0,114.6 391.0,115.4 392.0,116.2 393.0,116.9 394.0,117.7 395.0,118.5 396.0,119.3 397.0,120.0 398.0,120.8 399.0,121.6 400.0,122.3 401.0,123.1 402.0,123.9 403.0,124.6 404.0,125.4 405.0,126.1 406.0,126.9 407.0,127.6 408.0,128.3 409.0,129.1 410.0,129.8 411.0,130.5 412.0,131.2 413.0,132.0 414.0,132.7 415.0,133.4 416.0,134.1 417.0,134.8 418.0,135.5 419.0,136.2 420.0,136.9 421.0,137.6 422.0,138.3 423.0,139.0 424.0,139.7 425.0,140.4 426.0,141.1 427.0,141.7 428.0,142.4 429.0,143.1 430.0,143.7 431.0,144.4 432.0,145.1 433.0,145.8 434.0,146.5 435.0,147.2 436.0,147.9 437.0,148.7 438.0,149.4 439.0,150.1 440.0,150.8 441.0,151.5 442.0,152.2 443.0,152.8 444.0,153.5 445.0,154.1 446.0,154.8 447.0,155.4 448.0,156.0 449.0,156.5 450.0,157.1 451.0,157.6 452.0,158.1 453.0,158.7 454.0,159.2 455.0,159.7 456.0,160.2 457.0,160.7 458.0,161.2 459.0,161.7 460.0,162.2 461.0,162.7 462.0,164.1 463.0,164.6 464.0,165.2 465.0,165.7 466.0,166.3 467.0,166.8 468.0,167.4 469.0,168.0 470.0,168.6 471.0,169.3 472.0,169.9 473.0,170.6" fill="none" stroke="#1a0800" stroke-opacity="0.6" stroke-width="0.38"/>
<polyline points="308.0,42.7 309.0,43.5 310.0,44.4 311.0,45.2 312.0,46.0 313.0,46.8 314.0,47.7 315.0,48.5 316.0,49.3 317.0,50.1 318.0,50.8 319.0,51.6 320.0,52.3 321.0,53.1 322.0,53.8 323.0,54.5 324.0,55.3 325.0,56.0 326.0,56.8 327.0,57.6 328.0,58.4 329.0,59.2 330.0,60.1 331.0,61.1 332.0,62.0 333.0,63.0 334.0,64.1 335.0,65.1 336.0,66.2 337.0,67.3 338.0,68.4 339.0,69.5 340.0,70.7 341.0,71.8 342.0,72.9 343.0,74.0 344.0,75.1 345.0,76.2 346.0,77.2 347.0,78.2 348.0,79.2 349.0,80.1 350.0,81.1 351.0,82.0 352.0,82.9 353.0,83.8 354.0,84.7 355.0,85.6 356.0,86.5 357.0,87.4 358.0,88.2 359.0,89.1 360.0,90.0 361.0,90.8 362.0,91.7 363.0,92.5 364.0,93.4 365.0,94.2 366.0,95.0 367.0,95.9 368.0,96.7 369.0,97.5 370.0,98.3 371.0,99.1 372.0,99.9 373.0,100.7 374.0,101.5 375.0,102.3 376.0,103.1 377.0,103.9 378.0,104.7 379.0,105.4 380.0,106.2 381.0,107.0 382.0,107.7 383.0,108.5 384.0,109.3 385.0,110.0 386.0,110.8 387.0,111.6 388.0,112.3 389.0,113.1 390.0,113.9 391.0,114.6 392.0,115.4 393.0,116.2 394.0,117.0 395.0,117.7 396.0,118.5 397.0,119.3 398.0,120.0 399.0,120.8 400.0,121.6 401.0,122.3 402.0,123.1 403.0,123.8 404.0,124.6 405.0,125.3 406.0,126.1 407.0,126.8 408.0,127.5 409.0,128.3 410.0,129.0 411.0,129.7 412.0,130.4 413.0,131.2 414.0,131.9 415.0,132.6 416.0,133.3 417.0,134.0 418.0,134.7 419.0,135.5 420.0,136.2 421.0,136.9 422.0,137.6 423.0,138.3 424.0,138.9 425.0,139.6 426.0,140.3 427.0,141.0 428.0,141.6 429.0,142.3 430.0,143.0 431.0,143.7 432.0,144.4 433.0,145.1 434.0,145.8 435.0,146.5 436.0,147.2 437.0,148.0 438.0,148.7 439.0,149.4 440.0,150.1 441.0,150.8 442.0,151.5 443.0,152.2 444.0,152.9 445.0,153.5 446.0,154.2 447.0,154.8 448.0,155.4 449.0,156.0 450.0,156.5 451.0,157.1 452.0,157.6 453.0,158.2 454.0,158.7 455.0,159.2 456.0,159.7 457.0,160.2 458.0,160.7 459.0,161.2 460.0,161.8 461.0,162.3 462.0,163.5 463.0,164.0 464.0,164.5 465.0,165.1 466.0,165.7 467.0,166.2 468.0,166.8 469.0,167.4 470.0,168.0 471.0,168.7 472.0,169.3 473.0,170.0 474.0,170.7 475.0,171.3 476.0,172.1 477.0,172.8 478.0,173.5 479.0,174.2 480.0,174.9 481.0,175.6 482.0,176.4" fill="none" stroke="#1a0800" stroke-opacity="0.6" stroke-width="0.38"/>
<polyline points="308.0,41.5 309.0,42.3 310.0,43.2 311.0,44.1 312.0,44.9 313.0,45.8 314.0,46.6 315.0,47.5 316.0,48.3 317.0,49.1 318.0,49.9 319.0,50.7 320.0,51.5 321.0,52.2 322.0,53.0 323.0,53.8 324.0,54.6 325.0,55.3 326.0,56.1 327.0,56.9 328.0,57.8 329.0,58.6 330.0,59.5 331.0,60.5 332.0,61.4 333.0,62.5 334.0,63.5 335.0,64.6 336.0,65.6 337.0,66.7 338.0,67.8 339.0,69.0 340.0,70.1 341.0,71.2 342.0,72.3 343.0,73.4 344.0,74.5 345.0,75.5 346.0,76.6 347.0,77.6 348.0,78.6 349.0,79.5 350.0,80.4 351.0,81.4 352.0,82.3 353.0,83.2 354.0,84.1 355.0,85.0 356.0,85.8 357.0,86.7 358.0,87.6 359.0,88.5 360.0,89.3 361.0,90.2 362.0,91.0 363.0,91.8 364.0,92.7 365.0,93.5 366.0,94.3 367.0,95.2 368.0,96.0 369.0,96.8 370.0,97.6 371.0,98.4 372.0,99.2 373.0,100.0 374.0,100.8 375.0,101.6 376.0,102.4 377.0,103.2 378.0,103.9 379.0,104.7 380.0,105.5 381.0,106.2 382.0,107.0 383.0,107.8 384.0,108.5 385.0,109.3 386.0,110.1 387.0,110.8 388.0,111.6 389.0,112.4 390.0,113.1 391.0,113.9 392.0,114.7 393.0,115.4 394.0,116.2 395.0,117.0 396.0,117.7 397.0,118.5 398.0,119.3 399.0,120.0 400.0,120.8 401.0,121.5 402.0,122.3 403.0,123.0 404.0,123.8 405.0,124.5 406.0,125.3 407.0,126.0 408.0,126.7 409.0,127.5 410.0,128.2 411.0,128.9 412.0,129.6 413.0,130.4 414.0,131.1 415.0,131.8 416.0,132.5 417.0,133.2 418.0,134.0 419.0,134.7 420.0,135.4 421.0,136.1 422.0,136.8 423.0,137.5 424.0,138.2 425.0,138.9 426.0,139.5 427.0,140.2 428.0,140.9 429.0,141.6 430.0,142.2 431.0,142.9 432.0,143.6 433.0,144.3 434.0,145.1 435.0,145.8 436.0,146.5 437.0,147.3 438.0,148.0 439.0,148.7 440.0,149.4 441.0,150.2 442.0,150.9 443.0,151.6 444.0,152.2 445.0,152.9 446.0,153.6 447.0,154.2 448.0,154.8 449.0,155.4 450.0,156.0 451.0,156.6 452.0,157.1 453.0,157.7 454.0,158.2 455.0,158.7 456.0,159.3 457.0,159.8 458.0,160.3 459.0,160.8 460.0,161.3 461.0,161.9 462.0,162.8 463.0,163.4 464.0,163.9 465.0,164.5 466.0,165.1 467.0,165.6 468.0,166.2 469.0,166.8 470.0,167.4 471.0,168.0 472.0,168.7 473.0,169.4 474.0,170.0 475.0,170.7 476.0,171.4 477.0,172.1 478.0,172.8 479.0,173.5 480.0,174.2 481.0,174.9 482.0,175.6 483.0,176.3 484.0,177.0 485.0,177.7 486.0,178.4 487.0,179.0 488.0,179.6 489.0,180.3 490.0,180.9 491.0,181.5" fill="none" stroke="#1a0800" stroke-opacity="0.6" stroke-width="0.38"/>
<polyline points="308.0,40.3 309.0,41.1 310.0,42.0 311.0,42.9 312.0,43.8 313.0,44.7 314.0,45.6 315.0,46.5 316.0,47.3 317.0,48.2 318.0,49.0 319.0,49.8 320.0,50.6 321.0,51.4 322.0,52.2 323.0,53.0 324.0,53.8 325.0,54.7 326.0,55.5 327.0,56.3 328.0,57.2 329.0,58.0 330.0,58.9 331.0,59.9 332.0,60.9 333.0,61.9 334.0,62.9 335.0,64.0 336.0,65.1 337.0,66.1 338.0,67.3 339.0,68.4 340.0,69.5 341.0,70.6 342.0,71.7 343.0,72.8 344.0,73.9 345.0,74.9 346.0,76.0 347.0,77.0 348.0,77.9 349.0,78.9 350.0,79.8 351.0,80.7 352.0,81.7 353.0,82.6 354.0,83.4 355.0,84.3 356.0,85.2 357.0,86.1 358.0,86.9 359.0,87.8 360.0,88.6 361.0,89.5 362.0,90.3 363.0,91.2 364.0,92.0 365.0,92.8 366.0,93.7 367.0,94.5 368.0,95.3 369.0,96.1 370.0,96.9 371.0,97.7 372.0,98.5 373.0,99.3 374.0,100.1 375.0,100.9 376.0,101.7 377.0,102.4 378.0,103.2 379.0,104.0 380.0,104.8 381.0,105.5 382.0,106.3 383.0,107.0 384.0,107.8 385.0,108.6 386.0,109.3 387.0,110.1 388.0,110.9 389.0,111.6 390.0,112.4 391.0,113.2 392.0,113.9 393.0,114.7 394.0,115.4 395.0,116.2 396.0,117.0 397.0,117.7 398.0,118.5 399.0,119.3 400.0,120.0 401.0,120.8 402.0,121.5 403.0,122.3 404.0,123.0 405.0,123.7 406.0,124.5 407.0,125.2 408.0,125.9 409.0,126.7 410.0,127.4 411.0,128.1 412.0,128.8 413.0,129.6 414.0,130.3 415.0,131.0 416.0,131.7 417.0,132.4 418.0,133.2 419.0,133.9 420.0,134.6 421.0,135.3 422.0,136.0 423.0,136.7 424.0,137.4 425.0,138.1 426.0,138.8 427.0,139.4 428.0,140.1 429.0,140.8 430.0,141.5 431.0,142.2 432.0,142.9 433.0,143.6 434.0,144.3 435.0,145.1 436.0,145.8 437.0,146.6 438.0,147.3 439.0,148.0 440.0,148.8 441.0,149.5 442.0,150.2 443.0,150.9 444.0,151.6 445.0,152.3 446.0,153.0 447.0,153.6 448.0,154.3 449.0,154.9 450.0,155.5 451.0,156.0 452.0,156.6 453.0,157.2 454.0,157.7 455.0,158.3 456.0,158.8 457.0,159.3 458.0,159.9 459.0,160.4 460.0,160.9 461.0,161.5 462.0,162.2 463.0,162.8 464.0,163.3 465.0,163.9 466.0,164.4 467.0,165.0 468.0,165.6 469.0,166.2 470.0,166.8 471.0,167.4 472.0,168.1 473.0,168.7 474.0,169.4 475.0,170.1 476.0,170.8 477.0,171.5 478.0,172.2 479.0,172.9 480.0,173.6 481.0,174.2 482.0,174.9 483.0,175.6 484.0,176.3 485.0,176.9 486.0,177.6 487.0,178.2 488.0,178.8 489.0,179.4 490.0,180.0 491.0,180.6 492.0,181.2 493.0,181.8 494.0,182.3 495.0,182.9 496.0,183.5 497.0,184.0 498.0,184.6 499.0,185.2 500.0,185.7 501.0,186.3 502.0,186.8" fill="none" stroke="#1a0800" stroke-opacity="0.6" stroke-width="0.38"/>
<polyline points="308.0,39.0 309.0,40.0 310.0,40.9 311.0,41.8 312.0,42.7 313.0,43.7 314.0,44.6 315.0,45.5 316.0,46.3 317.0,47.2 318.0,48.1 319.0,48.9 320.0,49.8 321.0,50.6 322.0,51.4 323.0,52.3 324.0,53.1 325.0,54.0 326.0,54.8 327.0,55.7 328.0,56.6 329.0,57.4 330.0,58.4 331.0,59.3 332.0,60.3 333.0,61.3 334.0,62.3 335.0,63.4 336.0,64.5 337.0,65.6 338.0,66.7 339.0,67.8 340.0,68.9 341.0,70.0 342.0,71.1 343.0,72.2 344.0,73.3 345.0,74.3 346.0,75.3 347.0,76.3 348.0,77.3 349.0,78.3 350.0,79.2 351.0,80.1 352.0,81.0 353.0,81.9 354.0,82.8 355.0,83.7 356.0,84.6 357.0,85.4 358.0,86.3 359.0,87.1 360.0,88.0 361.0,88.8 362.0,89.7 363.0,90.5 364.0,91.3 365.0,92.1 366.0,93.0 367.0,93.8 368.0,94.6 369.0,95.4 370.0,96.2 371.0,97.0 372.0,97.8 373.0,98.6 374.0,99.4 375.0,100.2 376.0,100.9 377.0,101.7 378.0,102.5 379.0,103.3 380.0,104.0 381.0,104.8 382.0,105.6 383.0,106.3 384.0,107.1 385.0,107.8 386.0,108.6 387.0,109.4 388.0,110.1 389.0,110.9 390.0,111.6 391.0,112.4 392.0,113.2 393.0,113.9 394.0,114.7 395.0,115.5 396.0,116.2 397.0,117.0 398.0,117.7 399.0,118.5 400.0,119.2 401.0,120.0 402.0,120.7 403.0,121.5 404.0,122.2 405.0,123.0 406.0,123.7 407.0,124.4 408.0,125.1 409.0,125.9 410.0,126.6 411.0,127.3 412.0,128.0 413.0,128.8 414.0,129.5 415.0,130.2 416.0,130.9 417.0,131.6 418.0,132.4 419.0,133.1 420.0,133.8 421.0,134.5 422.0,135.2 423.0,135.9 424.0,136.6 425.0,137.3 426.0,138.0 427.0,138.7 428.0,139.4 429.0,140.0 430.0,140.7 431.0,141.4 432.0,142.1 433.0,142.9 434.0,143.6 435.0,144.4 436.0,145.1 437.0,145.9 438.0,146.6 439.0,147.4 440.0,148.1 441.0,148.8 442.0,149.6 443.0,150.3 444.0,151.0 445.0,151.7 446.0,152.4 447.0,153.0 448.0,153.7 449.0,154.3 450.0,154.9 451.0,155.5 452.0,156.1 453.0,156.7 454.0,157.2 455.0,157.8 456.0,158.3 457.0,158.9 458.0,159.4 459.0,160.0 460.0,160.5 461.0,161.1 462.0,161.6 463.0,162.2 464.0,162.7 465.0,163.3 466.0,163.8 467.0,164.4 468.0,165.0 469.0,165.6 470.0,166.2 471.0,166.8 472.0,167.5 473.0,168.1 474.0,168.8 475.0,169.5 476.0,170.1 477.0,170.8 478.0,171.5 479.0,172.2 480.0,172.9 481.0,173.6 482.0,174.2 483.0,174.9 484.0,175.5 485.0,176.2 486.0,176.8 487.0,177.4 488.0,178.0 489.0,178.6 490.0,179.2 491.0,179.7 492.0,180.3 493.0,180.8 494.0,181.4 495.0,181.9 496.0,182.5 497.0,183.0 498.0,183.5 499.0,184.0 500.0,184.5 501.0,185.0 502.0,185.5 503.0,186.0 504.0,186.5 505.0,187.0 506.0,187.5 507.0,187.9 508.0,188.4 509.0,188.8" fill="none" stroke="#1a0800" stroke-opacity="0.6" stroke-width="0.38"/>
<polyline points="308.0,37.4 309.0,38.4 310.0,39.3 311.0,40.3 312.0,41.2 313.0,42.1 314.0,43.1 315.0,44.0 316.0,44.9 317.0,45.8 318.0,46.7 319.0,47.5 320.0,48.4 321.0,49.3 322.0,50.1 323.0,51.0 324.0,51.9 325.0,52.7 326.0,53.6 327.0,54.5 328.0,55.4 329.0,56.2 330.0,57.2 331.0,58.1 332.0,59.1 333.0,60.1 334.0,61.2 335.0,62.2 336.0,63.3 337.0,64.4 338.0,65.5 339.0,66.6 340.0,67.7 341.0,68.8 342.0,70.0 343.0,71.0 344.0,72.1 345.0,73.2 346.0,74.2 347.0,75.2 348.0,76.2 349.0,77.1 350.0,78.1 351.0,79.0 352.0,79.9 353.0,80.8 354.0,81.7 355.0,82.6 356.0,83.4 357.0,84.3 358.0,85.1 359.0,86.0 360.0,86.8 361.0,87.7 362.0,88.5 363.0,89.3 364.0,90.1 365.0,90.9 366.0,91.8 367.0,92.6 368.0,93.4 369.0,94.2 370.0,95.0 371.0,95.8 372.0,96.6 373.0,97.4 374.0,98.2 375.0,99.0 376.0,99.8 377.0,100.6 378.0,101.3 379.0,102.1 380.0,102.9 381.0,103.7 382.0,104.4 383.0,105.2 384.0,106.0 385.0,106.7 386.0,107.5 387.0,108.3 388.0,109.0 389.0,109.8 390.0,110.5 391.0,111.3 392.0,112.1 393.0,112.8 394.0,113.6 395.0,114.3 396.0,115.1 397.0,115.8 398.0,116.6 399.0,117.3 400.0,118.1 401.0,118.8 402.0,119.6 403.0,120.3 404.0,121.0 405.0,121.8 406.0,122.5 407.0,123.2 408.0,123.9 409.0,124.7 410.0,125.4 411.0,126.1 412.0,126.8 413.0,127.5 414.0,128.3 415.0,129.0 416.0,129.7 417.0,130.4 418.0,131.1 419.0,131.9 420.0,132.6 421.0,133.3 422.0,134.0 423.0,134.7 424.0,135.4 425.0,136.1 426.0,136.8 427.0,137.5 428.0,138.1 429.0,138.8 430.0,139.5 431.0,140.2 432.0,140.9 433.0,141.6 434.0,142.3 435.0,143.0 436.0,143.8 437.0,144.5 438.0,145.2 439.0,146.0 440.0,146.7 441.0,147.4 442.0,148.1 443.0,148.8 444.0,149.5 445.0,150.2 446.0,150.9 447.0,151.5 448.0,152.2 449.0,152.8 450.0,153.4 451.0,154.1 452.0,154.7 453.0,155.3 454.0,155.9 455.0,156.5 456.0,157.1 457.0,157.7 458.0,158.3 459.0,158.9 460.0,159.5 461.0,160.1 462.0,160.7 463.0,161.3 464.0,161.9 465.0,162.5 466.0,163.0 467.0,163.6 468.0,164.2 469.0,164.8 470.0,165.5 471.0,166.1 472.0,166.7 473.0,167.4 474.0,168.0 475.0,168.7 476.0,169.4 477.0,170.1 478.0,170.8 479.0,171.4 480.0,172.1 481.0,172.8 482.0,173.5 483.0,174.1 484.0,174.8 485.0,175.4 486.0,176.0 487.0,176.7 488.0,177.2 489.0,177.8 490.0,178.4 491.0,179.0 492.0,179.5 493.0,180.1 494.0,180.6 495.0,181.2 496.0,181.7 497.0,182.3 498.0,182.8 499.0,183.3 500.0,183.8 501.0,184.3 502.0,184.9 503.0,185.4 504.0,185.8 505.0,186.3 506.0,186.8 507.0,187.3 508.0,187.8 509.0,188.2" fill="none" stroke="#1a0800" stroke-opacity="0.6" stroke-width="0.38"/>
<polyline points="308.0,35.8 309.0,36.8 310.0,37.7 311.0,38.7 312.0,39.7 313.0,40.6 314.0,41.6 315.0,42.5 316.0,43.4 317.0,44.4 318.0,45.3 319.0,46.1 320.0,47.0 321.0,47.9 322.0,48.8 323.0,49.7 324.0,50.6 325.0,51.5 326.0,52.4 327.0,53.3 328.0,54.2 329.0,55.0 330.0,56.0 331.0,56.9 332.0,57.9 333.0,58.9 334.0,60.0 335.0,61.0 336.0,62.1 337.0,63.2 338.0,64.3 339.0,65.5 340.0,66.6 341.0,67.7 342.0,68.8 343.0,69.9 344.0,71.0 345.0,72.1 346.0,73.1 347.0,74.1 348.0,75.1 349.0,76.0 350.0,77.0 351.0,77.9 352.0,78.8 353.0,79.7 354.0,80.5 355.0,81.4 356.0,82.3 357.0,83.1 358.0,84.0 359.0,84.8 360.0,85.7 361.0,86.5 362.0,87.3 363.0,88.1 364.0,88.9 365.0,89.8 366.0,90.6 367.0,91.4 368.0,92.2 369.0,93.0 370.0,93.8 371.0,94.6 372.0,95.4 373.0,96.2 374.0,97.0 375.0,97.8 376.0,98.6 377.0,99.4 378.0,100.2 379.0,101.0 380.0,101.8 381.0,102.5 382.0,103.3 383.0,104.1 384.0,104.9 385.0,105.6 386.0,106.4 387.0,107.2 388.0,107.9 389.0,108.7 390.0,109.4 391.0,110.2 392.0,110.9 393.0,111.7 394.0,112.4 395.0,113.2 396.0,113.9 397.0,114.7 398.0,115.4 399.0,116.2 400.0,116.9 401.0,117.7 402.0,118.4 403.0,119.1 404.0,119.9 405.0,120.6 406.0,121.3 407.0,122.0 408.0,122.7 409.0,123.5 410.0,124.2 411.0,124.9 412.0,125.6 413.0,126.3 414.0,127.0 415.0,127.8 416.0,128.5 417.0,129.2 418.0,129.9 419.0,130.7 420.0,131.4 421.0,132.1 422.0,132.8 423.0,133.5 424.0,134.2 425.0,134.9 426.0,135.6 427.0,136.3 428.0,136.9 429.0,137.6 430.0,138.3 431.0,139.0 432.0,139.6 433.0,140.3 434.0,141.0 435.0,141.7 436.0,142.4 437.0,143.1 438.0,143.9 439.0,144.6 440.0,145.3 441.0,146.0 442.0,146.7 443.0,147.3 444.0,148.0 445.0,148.7 446.0,149.4 447.0,150.0 448.0,150.7 449.0,151.3 450.0,152.0 451.0,152.6 452.0,153.2 453.0,153.9 454.0,154.5 455.0,155.2 456.0,155.8 457.0,156.5 458.0,157.1 459.0,157.8 460.0,158.4 461.0,159.1 462.0,159.7 463.0,160.4 464.0,161.0 465.0,161.6 466.0,162.3 467.0,162.9 468.0,163.5 469.0,164.1 470.0,164.7 471.0,165.3 472.0,166.0 473.0,166.6 474.0,167.3 475.0,168.0 476.0,168.6 477.0,169.3 478.0,170.0 479.0,170.7 480.0,171.4 481.0,172.0 482.0,172.7 483.0,173.4 484.0,174.0 485.0,174.7 486.0,175.3 487.0,175.9 488.0,176.5 489.0,177.1 490.0,177.6 491.0,178.2 492.0,178.8 493.0,179.3 494.0,179.9 495.0,180.5 496.0,181.0 497.0,181.5 498.0,182.1 499.0,182.6 500.0,183.1 501.0,183.7 502.0,184.2 503.0,184.7 504.0,185.2 505.0,185.7 506.0,186.2 507.0,186.6 508.0,187.1 509.0,187.6" fill="none" stroke="#1a0800" stroke-opacity="0.6" stroke-width="0.38"/>
<polyline points="308.0,34.2 309.0,35.2 310.0,36.2 311.0,37.2 312.0,38.1 313.0,39.1 314.0,40.1 315.0,41.0 316.0,42.0 317.0,42.9 318.0,43.8 319.0,44.8 320.0,45.7 321.0,46.6 322.0,47.5 323.0,48.4 324.0,49.4 325.0,50.3 326.0,51.2 327.0,52.1 328.0,53.0 329.0,53.8 330.0,54.8 331.0,55.7 332.0,56.7 333.0,57.7 334.0,58.8 335.0,59.9 336.0,61.0 337.0,62.1 338.0,63.2 339.0,64.3 340.0,65.4 341.0,66.6 342.0,67.7 343.0,68.8 344.0,69.9 345.0,70.9 346.0,72.0 347.0,73.0 348.0,74.0 349.0,74.9 350.0,75.8 351.0,76.7 352.0,77.6 353.0,78.5 354.0,79.4 355.0,80.3 356.0,81.1 357.0,82.0 358.0,82.8 359.0,83.7 360.0,84.5 361.0,85.3 362.0,86.1 363.0,86.9 364.0,87.8 365.0,88.6 366.0,89.4 367.0,90.2 368.0,91.0 369.0,91.8 370.0,92.6 371.0,93.4 372.0,94.2 373.0,95.0 374.0,95.8 375.0,96.6 376.0,97.5 377.0,98.3 378.0,99.0 379.0,99.8 380.0,100.6 381.0,101.4 382.0,102.2 383.0,103.0 384.0,103.8 385.0,104.5 386.0,105.3 387.0,106.1 388.0,106.8 389.0,107.6 390.0,108.3 391.0,109.1 392.0,109.8 393.0,110.6 394.0,111.3 395.0,112.1 396.0,112.8 397.0,113.6 398.0,114.3 399.0,115.0 400.0,115.8 401.0,116.5 402.0,117.2 403.0,118.0 404.0,118.7 405.0,119.4 406.0,120.1 407.0,120.8 408.0,121.5 409.0,122.3 410.0,123.0 411.0,123.7 412.0,124.4 413.0,125.1 414.0,125.8 415.0,126.6 416.0,127.3 417.0,128.0 418.0,128.7 419.0,129.4 420.0,130.2 421.0,130.9 422.0,131.6 423.0,132.3 424.0,133.0 425.0,133.7 426.0,134.4 427.0,135.0 428.0,135.7 429.0,136.4 430.0,137.0 431.0,137.7 432.0,138.4 433.0,139.1 434.0,139.7 435.0,140.4 436.0,141.1 437.0,141.8 438.0,142.5 439.0,143.2 440.0,143.8 441.0,144.5 442.0,145.2 443.0,145.9 444.0,146.5 445.0,147.2 446.0,147.9 447.0,148.5 448.0,149.2 449.0,149.8 450.0,150.5 451.0,151.1 452.0,151.8 453.0,152.5 454.0,153.2 455.0,153.9 456.0,154.6 457.0,155.3 458.0,156.0 459.0,156.7 460.0,157.4 461.0,158.1 462.0,158.8 463.0,159.5 464.0,160.1 465.0,160.8 466.0,161.5 467.0,162.1 468.0,162.7 469.0,163.3 470.0,163.9 471.0,164.6 472.0,165.2 473.0,165.9 474.0,166.5 475.0,167.2 476.0,167.9 477.0,168.6 478.0,169.2 479.0,169.9 480.0,170.6 481.0,171.3 482.0,171.9 483.0,172.6 484.0,173.2 485.0,173.9 486.0,174.5 487.0,175.1 488.0,175.7 489.0,176.3 490.0,176.9 491.0,177.5 492.0,178.0 493.0,178.6 494.0,179.2 495.0,179.7 496.0,180.3 497.0,180.8 498.0,181.4 499.0,181.9 500.0,182.4 501.0,183.0 502.0,183.5 503.0,184.0 504.0,184.5 505.0,185.0 506.0,185.5 507.0,186.0 508.0,186.5 509.0,187.0" fill="none" stroke="#1a0800" stroke-opacity="0.6" stroke-width="0.38"/>
<polyline points="308.0,32.6 309.0,33.6 310.0,34.6 311.0,35.6 312.0,36.6 313.0,37.6 314.0,38.6 315.0,39.6 316.0,40.5 317.0,41.5 318.0,42.4 319.0,43.4 320.0,44.3 321.0,45.3 322.0,46.2 323.0,47.2 324.0,48.1 325.0,49.0 326.0,50.0 327.0,50.9 328.0,51.8 329.0,52.6 330.0,53.6 331.0,54.5 332.0,55.5 333.0,56.5 334.0,57.6 335.0,58.7 336.0,59.8 337.0,60.9 338.0,62.0 339.0,63.1 340.0,64.3 341.0,65.4 342.0,66.5 343.0,67.6 344.0,68.7 345.0,69.8 346.0,70.8 347.0,71.9 348.0,72.8 349.0,73.8 350.0,74.7 351.0,75.6 352.0,76.5 353.0,77.4 354.0,78.3 355.0,79.1 356.0,80.0 357.0,80.8 358.0,81.7 359.0,82.5 360.0,83.3 361.0,84.1 362.0,85.0 363.0,85.8 364.0,86.6 365.0,87.4 366.0,88.2 367.0,89.0 368.0,89.8 369.0,90.6 370.0,91.4 371.0,92.2 372.0,93.0 373.0,93.9 374.0,94.7 375.0,95.5 376.0,96.3 377.0,97.1 378.0,97.9 379.0,98.7 380.0,99.5 381.0,100.3 382.0,101.1 383.0,101.9 384.0,102.7 385.0,103.4 386.0,104.2 387.0,105.0 388.0,105.7 389.0,106.5 390.0,107.2 391.0,108.0 392.0,108.7 393.0,109.5 394.0,110.2 395.0,110.9 396.0,111.7 397.0,112.4 398.0,113.2 399.0,113.9 400.0,114.6 401.0,115.3 402.0,116.1 403.0,116.8 404.0,117.5 405.0,118.2 406.0,118.9 407.0,119.6 408.0,120.3 409.0,121.1 410.0,121.8 411.0,122.5 412.0,123.2 413.0,123.9 414.0,124.6 415.0,125.3 416.0,126.1 417.0,126.8 418.0,127.5 419.0,128.2 420.0,128.9 421.0,129.7 422.0,130.4 423.0,131.1 424.0,131.8 425.0,132.5 426.0,133.1 427.0,133.8 428.0,134.5 429.0,135.2 430.0,135.8 431.0,136.5 432.0,137.1 433.0,137.8 434.0,138.5 435.0,139.1 436.0,139.8 437.0,140.4 438.0,141.1 439.0,141.8 440.0,142.4 441.0,143.1 442.0,143.7 443.0,144.4 444.0,145.1 445.0,145.7 446.0,146.4 447.0,147.0 448.0,147.7 449.0,148.3 450.0,149.0 451.0,149.7 452.0,150.4 453.0,151.1 454.0,151.9 455.0,152.6 456.0,153.3 457.0,154.1 458.0,154.9 459.0,155.6 460.0,156.4 461.0,157.1 462.0,157.8 463.0,158.6 464.0,159.3 465.0,160.0 466.0,160.7 467.0,161.3 468.0,162.0 469.0,162.6 470.0,163.2 471.0,163.8 472.0,164.5 473.0,165.1 474.0,165.8 475.0,166.5 476.0,167.1 477.0,167.8 478.0,168.5 479.0,169.2 480.0,169.8 481.0,170.5 482.0,171.2 483.0,171.8 484.0,172.5 485.0,173.1 486.0,173.8 487.0,174.4 488.0,175.0 489.0,175.6 490.0,176.1 491.0,176.7 492.0,177.3 493.0,177.9 494.0,178.4 495.0,179.0 496.0,179.5 497.0,180.1 498.0,180.7 499.0,181.2 500.0,181.7 501.0,182.3 502.0,182.8 503.0,183.3 504.0,183.9 505.0,184.4 506.0,184.9 507.0,185.4 508.0,185.9 509.0,186.4" fill="none" stroke="#1a0800" stroke-opacity="0.6" stroke-width="0.38"/>
<polyline points="308.0,31.0 309.0,32.0 310.0,33.0 311.0,34.1 312.0,35.1 313.0,36.1 314.0,37.1 315.0,38.1 316.0,39.1 317.0,40.1 318.0,41.0 319.0,42.0 320.0,42.9 321.0,43.9 322.0,44.9 323.0,45.9 324.0,46.8 325.0,47.8 326.0,48.7 327.0,49.7 328.0,50.6 329.0,51.4 330.0,52.4 331.0,53.3 332.0,54.3 333.0,55.3 334.0,56.4 335.0,57.5 336.0,58.6 337.0,59.7 338.0,60.9 339.0,62.0 340.0,63.1 341.0,64.3 342.0,65.4 343.0,66.5 344.0,67.6 345.0,68.7 346.0,69.7 347.0,70.7 348.0,71.7 349.0,72.7 350.0,73.6 351.0,74.5 352.0,75.4 353.0,76.3 354.0,77.1 355.0,78.0 356.0,78.8 357.0,79.7 358.0,80.5 359.0,81.3 360.0,82.2 361.0,83.0 362.0,83.8 363.0,84.6 364.0,85.4 365.0,86.2 366.0,87.0 367.0,87.8 368.0,88.6 369.0,89.4 370.0,90.2 371.0,91.0 372.0,91.8 373.0,92.7 374.0,93.5 375.0,94.3 376.0,95.1 377.0,95.9 378.0,96.7 379.0,97.6 380.0,98.4 381.0,99.2 382.0,100.0 383.0,100.8 384.0,101.5 385.0,102.3 386.0,103.1 387.0,103.9 388.0,104.6 389.0,105.4 390.0,106.1 391.0,106.9 392.0,107.6 393.0,108.3 394.0,109.1 395.0,109.8 396.0,110.5 397.0,111.3 398.0,112.0 399.0,112.7 400.0,113.5 401.0,114.2 402.0,114.9 403.0,115.6 404.0,116.3 405.0,117.0 406.0,117.7 407.0,118.4 408.0,119.2 409.0,119.8 410.0,120.6 411.0,121.3 412.0,122.0 413.0,122.7 414.0,123.4 415.0,124.1 416.0,124.8 417.0,125.6 418.0,126.3 419.0,127.0 420.0,127.7 421.0,128.4 422.0,129.1 423.0,129.8 424.0,130.5 425.0,131.2 426.0,131.9 427.0,132.6 428.0,133.3 429.0,133.9 430.0,134.6 431.0,135.2 432.0,135.9 433.0,136.5 434.0,137.2 435.0,137.8 436.0,138.5 437.0,139.1 438.0,139.7 439.0,140.4 440.0,141.0 441.0,141.6 442.0,142.3 443.0,142.9 444.0,143.6 445.0,144.2 446.0,144.9 447.0,145.5 448.0,146.2 449.0,146.8 450.0,147.5 451.0,148.2 452.0,149.0 453.0,149.7 454.0,150.5 455.0,151.3 456.0,152.1 457.0,152.9 458.0,153.7 459.0,154.5 460.0,155.3 461.0,156.1 462.0,156.9 463.0,157.7 464.0,158.4 465.0,159.2 466.0,159.9 467.0,160.5 468.0,161.2 469.0,161.8 470.0,162.4 471.0,163.1 472.0,163.7 473.0,164.4 474.0,165.0 475.0,165.7 476.0,166.4 477.0,167.1 478.0,167.7 479.0,168.4 480.0,169.1 481.0,169.7 482.0,170.4 483.0,171.1 484.0,171.7 485.0,172.4 486.0,173.0 487.0,173.6 488.0,174.2 489.0,174.8 490.0,175.4 491.0,176.0 492.0,176.5 493.0,177.1 494.0,177.7 495.0,178.3 496.0,178.8 497.0,179.4 498.0,179.9 499.0,180.5 500.0,181.0 501.0,181.6 502.0,182.1 503.0,182.7 504.0,183.2 505.0,183.7 506.0,184.2 507.0,184.7 508.0,185.2 509.0,185.7" fill="none" stroke="#1a0800" stroke-opacity="0.6" stroke-width="0.38"/>
</g>
<polygon points="308.5,21.6 317.8,31.6 329.5,44.9 354.0,66.8 369.1,81.7 377.5,87.9 397.6,104.0 404.9,109.3 422.1,122.3 430.5,130.0 437.8,134.6 458.1,148.8 465.0,154.1 478.2,162.6 497.9,176.1 508.4,181.0 508.4,210.5 470.3,208.1 442.0,205.3 407.5,199.3 370.2,192.0 344.6,184.6 326.8,173.2 308.5,171.0" fill="none" stroke="#000" stroke-opacity="0.5" stroke-width="0.3"/>
<polygon points="363.00,99.60 363.85,102.03 366.42,102.09 364.38,103.65 365.12,106.11 363.00,104.65 360.88,106.11 361.62,103.65 359.58,102.09 362.15,102.03" fill="#b0b0b0" stroke="#8a8a8a" stroke-width="0.3"/>
<rect x="306.3" y="19.9" width="4.1" height="4.1" fill="#0a0a0a"/>
<rect x="315.8" y="29.6" width="4.1" height="4.1" fill="#0a0a0a"/>
<rect x="319.1" y="44.0" width="4.1" height="4.1" fill="#0a0a0a"/>
<rect x="327.5" y="42.9" width="4.1" height="4.1" fill="#0a0a0a"/>
<rect x="317.9" y="55.1" width="4.1" height="4.1" fill="#0a0a0a"/>
<rect x="311.8" y="59.4" width="4.1" height="4.1" fill="#0a0a0a"/>
<rect x="336.3" y="56.0" width="4.1" height="4.1" fill="#0a0a0a"/>
<rect x="307.0" y="68.2" width="4.1" height="4.1" fill="#0a0a0a"/>
<rect x="345.3" y="65.4" width="4.1" height="4.1" fill="#0a0a0a"/>
<rect x="352.0" y="64.7" width="4.1" height="4.1" fill="#0a0a0a"/>
<rect x="329.4" y="67.5" width="4.1" height="4.1" fill="#0a0a0a"/>
<rect x="317.9" y="79.7" width="4.1" height="4.1" fill="#0a0a0a"/>
<rect x="326.9" y="76.2" width="4.1" height="4.1" fill="#0a0a0a"/>
<rect x="340.9" y="77.8" width="4.1" height="4.1" fill="#0a0a0a"/>
<rect x="352.0" y="79.0" width="4.1" height="4.1" fill="#0a0a0a"/>
<rect x="359.3" y="79.0" width="4.1" height="4.1" fill="#0a0a0a"/>
<rect x="367.1" y="79.7" width="4.1" height="4.1" fill="#0a0a0a"/>
<rect x="375.5" y="85.9" width="4.1" height="4.1" fill="#0a0a0a"/>
<rect x="346.1" y="89.5" width="4.1" height="4.1" fill="#0a0a0a"/>
<rect x="307.6" y="96.4" width="4.1" height="4.1" fill="#0a0a0a"/>
<rect x="333.6" y="97.4" width="4.1" height="4.1" fill="#0a0a0a"/>
<rect x="343.6" y="99.6" width="4.1" height="4.1" fill="#0a0a0a"/>
<rect x="355.6" y="95.7" width="4.1" height="4.1" fill="#0a0a0a"/>
<rect x="327.5" y="106.5" width="4.1" height="4.1" fill="#0a0a0a"/>
<rect x="362.9" y="106.5" width="4.1" height="4.1" fill="#0a0a0a"/>
<rect x="374.4" y="102.6" width="4.1" height="4.1" fill="#0a0a0a"/>
<rect x="385.1" y="99.9" width="4.1" height="4.1" fill="#0a0a0a"/>
<rect x="395.6" y="101.9" width="4.1" height="4.1" fill="#0a0a0a"/>
<rect x="402.9" y="107.2" width="4.1" height="4.1" fill="#0a0a0a"/>
<rect x="353.7" y="114.1" width="4.1" height="4.1" fill="#0a0a0a"/>
<rect x="376.7" y="116.9" width="4.1" height="4.1" fill="#0a0a0a"/>
<rect x="387.2" y="121.0" width="4.1" height="4.1" fill="#0a0a0a"/>
<rect x="395.6" y="117.1" width="4.1" height="4.1" fill="#0a0a0a"/>
<rect x="307.4" y="122.6" width="4.1" height="4.1" fill="#0a0a0a"/>
<rect x="346.1" y="122.4" width="4.1" height="4.1" fill="#0a0a0a"/>
<rect x="374.6" y="124.5" width="4.1" height="4.1" fill="#0a0a0a"/>
<rect x="410.8" y="123.8" width="4.1" height="4.1" fill="#0a0a0a"/>
<rect x="420.1" y="120.2" width="4.1" height="4.1" fill="#0a0a0a"/>
<rect x="334.6" y="133.0" width="4.1" height="4.1" fill="#0a0a0a"/>
<rect x="365.0" y="130.9" width="4.1" height="4.1" fill="#0a0a0a"/>
<rect x="383.8" y="129.1" width="4.1" height="4.1" fill="#0a0a0a"/>
<rect x="396.0" y="130.7" width="4.1" height="4.1" fill="#0a0a0a"/>
<rect x="406.9" y="134.6" width="4.1" height="4.1" fill="#0a0a0a"/>
<rect x="359.7" y="140.1" width="4.1" height="4.1" fill="#0a0a0a"/>
<rect x="393.3" y="138.7" width="4.1" height="4.1" fill="#0a0a0a"/>
<rect x="307.4" y="146.3" width="4.1" height="4.1" fill="#0a0a0a"/>
<rect x="326.4" y="144.0" width="4.1" height="4.1" fill="#0a0a0a"/>
<rect x="378.8" y="148.1" width="4.1" height="4.1" fill="#0a0a0a"/>
<rect x="346.1" y="154.3" width="4.1" height="4.1" fill="#0a0a0a"/>
<rect x="360.0" y="153.2" width="4.1" height="4.1" fill="#0a0a0a"/>
<rect x="406.4" y="153.9" width="4.1" height="4.1" fill="#0a0a0a"/>
<rect x="336.3" y="163.5" width="4.1" height="4.1" fill="#0a0a0a"/>
<rect x="383.0" y="165.8" width="4.1" height="4.1" fill="#0a0a0a"/>
<rect x="307.0" y="168.8" width="4.1" height="4.1" fill="#0a0a0a"/>
<rect x="324.8" y="171.1" width="4.1" height="4.1" fill="#0a0a0a"/>
<rect x="355.1" y="174.6" width="4.1" height="4.1" fill="#0a0a0a"/>
<rect x="372.5" y="173.9" width="4.1" height="4.1" fill="#0a0a0a"/>
<rect x="404.8" y="172.7" width="4.1" height="4.1" fill="#0a0a0a"/>
<rect x="342.6" y="182.6" width="4.1" height="4.1" fill="#0a0a0a"/>
<rect x="368.1" y="189.9" width="4.1" height="4.1" fill="#0a0a0a"/>
<rect x="393.9" y="184.2" width="4.1" height="4.1" fill="#0a0a0a"/>
<rect x="405.4" y="197.3" width="4.1" height="4.1" fill="#0a0a0a"/>
<rect x="416.5" y="190.4" width="4.1" height="4.1" fill="#0a0a0a"/>
<rect x="436.2" y="191.1" width="4.1" height="4.1" fill="#0a0a0a"/>
<rect x="451.5" y="189.3" width="4.1" height="4.1" fill="#0a0a0a"/>
<rect x="440.0" y="203.3" width="4.1" height="4.1" fill="#0a0a0a"/>
<rect x="468.2" y="206.0" width="4.1" height="4.1" fill="#0a0a0a"/>
<rect x="472.0" y="194.5" width="4.1" height="4.1" fill="#0a0a0a"/>
<rect x="479.7" y="188.3" width="4.1" height="4.1" fill="#0a0a0a"/>
<rect x="487.4" y="178.5" width="4.1" height="4.1" fill="#0a0a0a"/>
<rect x="470.3" y="169.0" width="4.1" height="4.1" fill="#0a0a0a"/>
<rect x="428.4" y="172.7" width="4.1" height="4.1" fill="#0a0a0a"/>
<rect x="453.6" y="174.3" width="4.1" height="4.1" fill="#0a0a0a"/>
<rect x="495.9" y="174.1" width="4.1" height="4.1" fill="#0a0a0a"/>
<rect x="506.3" y="178.9" width="4.1" height="4.1" fill="#0a0a0a"/>
<rect x="505.5" y="187.6" width="4.1" height="4.1" fill="#0a0a0a"/>
<rect x="504.5" y="194.5" width="4.1" height="4.1" fill="#0a0a0a"/>
<rect x="497.5" y="196.8" width="4.1" height="4.1" fill="#0a0a0a"/>
<rect x="498.6" y="204.4" width="4.1" height="4.1" fill="#0a0a0a"/>
<rect x="506.3" y="209.5" width="4.1" height="4.1" fill="#0a0a0a"/>
<rect x="428.4" y="127.9" width="4.1" height="4.1" fill="#0a0a0a"/>
<rect x="415.2" y="137.8" width="4.1" height="4.1" fill="#0a0a0a"/>
<rect x="424.3" y="138.9" width="4.1" height="4.1" fill="#0a0a0a"/>
<rect x="435.8" y="132.5" width="4.1" height="4.1" fill="#0a0a0a"/>
<rect x="435.8" y="142.4" width="4.1" height="4.1" fill="#0a0a0a"/>
<rect x="442.1" y="140.5" width="4.1" height="4.1" fill="#0a0a0a"/>
<rect x="456.1" y="146.7" width="4.1" height="4.1" fill="#0a0a0a"/>
<rect x="463.0" y="152.0" width="4.1" height="4.1" fill="#0a0a0a"/>
<rect x="418.0" y="153.9" width="4.1" height="4.1" fill="#0a0a0a"/>
<rect x="431.0" y="154.3" width="4.1" height="4.1" fill="#0a0a0a"/>
<rect x="449.4" y="157.8" width="4.1" height="4.1" fill="#0a0a0a"/>
<rect x="476.2" y="160.5" width="4.1" height="4.1" fill="#0a0a0a"/>
<rect x="454.6" y="166.5" width="4.1" height="4.1" fill="#0a0a0a"/>
<g font-family='"Liberation Serif", "DejaVu Serif", serif' font-size="7.7" fill="#444444">
<text x="306.2" y="198.5" text-anchor="end">0.1</text>
<text x="306.2" y="173.6" text-anchor="end">0.2</text>
<text x="306.2" y="148.7" text-anchor="end">0.3</text>
<text x="306.2" y="123.7" text-anchor="end">0.4</text>
<text x="306.2" y="98.8" text-anchor="end">0.5</text>
<text x="306.2" y="73.9" text-anchor="end">0.6</text>
<text x="306.2" y="48.9" text-anchor="end">0.7</text>
<text x="308.5" y="220.2" text-anchor="middle">15</text>
<text x="348.5" y="220.2" text-anchor="middle">20</text>
<text x="388.5" y="220.2" text-anchor="middle">25</text>
<text x="428.5" y="220.2" text-anchor="middle">30</text>
<text x="468.5" y="220.2" text-anchor="middle">35</text>
<text x="508.5" y="220.2" text-anchor="middle">40</text>
</g>
<text x="408.2" y="230.4" text-anchor="middle" font-family='"Liberation Serif", "DejaVu Serif", serif' font-size="9.8" fill="#444444" letter-spacing="0.75"><tspan font-style="italic">MVD</tspan> [<tspan font-style="italic">µm</tspan>]</text>
<g transform="translate(294.6,133.2) rotate(-90)" font-family='"Liberation Serif", "DejaVu Serif", serif' fill="#444444">
<text x="0" y="0" font-size="10.2" letter-spacing="0.4" font-style="italic">LWC</text>
<text transform="translate(23.6,0) scale(0.7,1)" font-size="11.5">[</text>
<text x="32.5" y="-4.4" font-size="6.2" text-anchor="middle" font-style="italic">g</text>
<line x1="28.3" y1="-2.9" x2="36.7" y2="-2.9" stroke="#444444" stroke-width="0.45"/>
<text x="32.5" y="2.2" font-size="6.2" text-anchor="middle"><tspan font-style="italic">m</tspan><tspan font-size="4" dy="-2">3</tspan></text>
<text transform="translate(36.8,0) scale(0.7,1)" font-size="11.5">]</text>
</g>
<rect x="520.1" y="198.69" width="9.8" height="12.01" fill="#fffdec"/>
<rect x="520.1" y="186.89" width="9.8" height="12.01" fill="#fffac7"/>
<rect x="520.1" y="175.08" width="9.8" height="12.01" fill="#fff4a2"/>
<rect x="520.1" y="163.28" width="9.8" height="12.01" fill="#ffec7e"/>
<rect x="520.1" y="151.47" width="9.8" height="12.01" fill="#ffde61"/>
<rect x="520.1" y="139.66" width="9.8" height="12.01" fill="#ffc94b"/>
<rect x="520.1" y="127.86" width="9.8" height="12.01" fill="#ffaf30"/>
<rect x="520.1" y="116.05" width="9.8" height="12.01" fill="#ff9010"/>
<rect x="520.1" y="104.24" width="9.8" height="12.01" fill="#ef7000"/>
<rect x="520.1" y="92.44" width="9.8" height="12.01" fill="#cf5000"/>
<rect x="520.1" y="80.63" width="9.8" height="12.01" fill="#af3000"/>
<rect x="520.1" y="68.82" width="9.8" height="12.01" fill="#901000"/>
<rect x="520.1" y="57.02" width="9.8" height="12.01" fill="#700000"/>
<rect x="520.1" y="45.21" width="9.8" height="12.01" fill="#500000"/>
<rect x="520.1" y="33.41" width="9.8" height="12.01" fill="#300000"/>
<rect x="520.1" y="21.60" width="9.8" height="12.01" fill="#100000"/>
<rect x="520.1" y="21.6" width="9.8" height="188.9" fill="none" stroke="#777" stroke-width="0.5"/>
<g font-family='"Liberation Serif", "DejaVu Serif", serif' font-size="7.1" fill="#444444">
<line x1="528.4" y1="210.5" x2="529.9" y2="210.5" stroke="#555" stroke-width="0.4"/>
<text x="531.6" y="212.8">0.48</text>
<line x1="528.4" y1="186.9" x2="529.9" y2="186.9" stroke="#555" stroke-width="0.4"/>
<text x="531.6" y="189.2">0.60</text>
<line x1="528.4" y1="163.3" x2="529.9" y2="163.3" stroke="#555" stroke-width="0.4"/>
<text x="531.6" y="165.6">0.72</text>
<line x1="528.4" y1="139.7" x2="529.9" y2="139.7" stroke="#555" stroke-width="0.4"/>
<text x="531.6" y="142.0">0.84</text>
<line x1="528.4" y1="116.0" x2="529.9" y2="116.0" stroke="#555" stroke-width="0.4"/>
<text x="531.6" y="118.3">0.96</text>
<line x1="528.4" y1="92.4" x2="529.9" y2="92.4" stroke="#555" stroke-width="0.4"/>
<text x="531.6" y="94.7">1.08</text>
<line x1="528.4" y1="68.8" x2="529.9" y2="68.8" stroke="#555" stroke-width="0.4"/>
<text x="531.6" y="71.1">1.20</text>
<line x1="528.4" y1="45.2" x2="529.9" y2="45.2" stroke="#555" stroke-width="0.4"/>
<text x="531.6" y="47.5">1.32</text>
<line x1="528.4" y1="21.6" x2="529.9" y2="21.6" stroke="#555" stroke-width="0.4"/>
<text x="531.6" y="23.9">1.44</text>
</g>
<text x="511.6" y="13.2" font-family='"Liberation Serif", "DejaVu Serif", serif' font-size="10" fill="#444444"><tspan font-style="italic">C</tspan><tspan font-size="7.5" dy="1.6"><tspan font-style="italic">L</tspan>,stall</tspan></text>
<text x="411" y="252.3" text-anchor="middle" font-family='"Liberation Serif", "DejaVu Serif", serif' font-weight="bold" font-size="14" fill="#222">(f)</text>
</g>
</svg>
</body></html>
